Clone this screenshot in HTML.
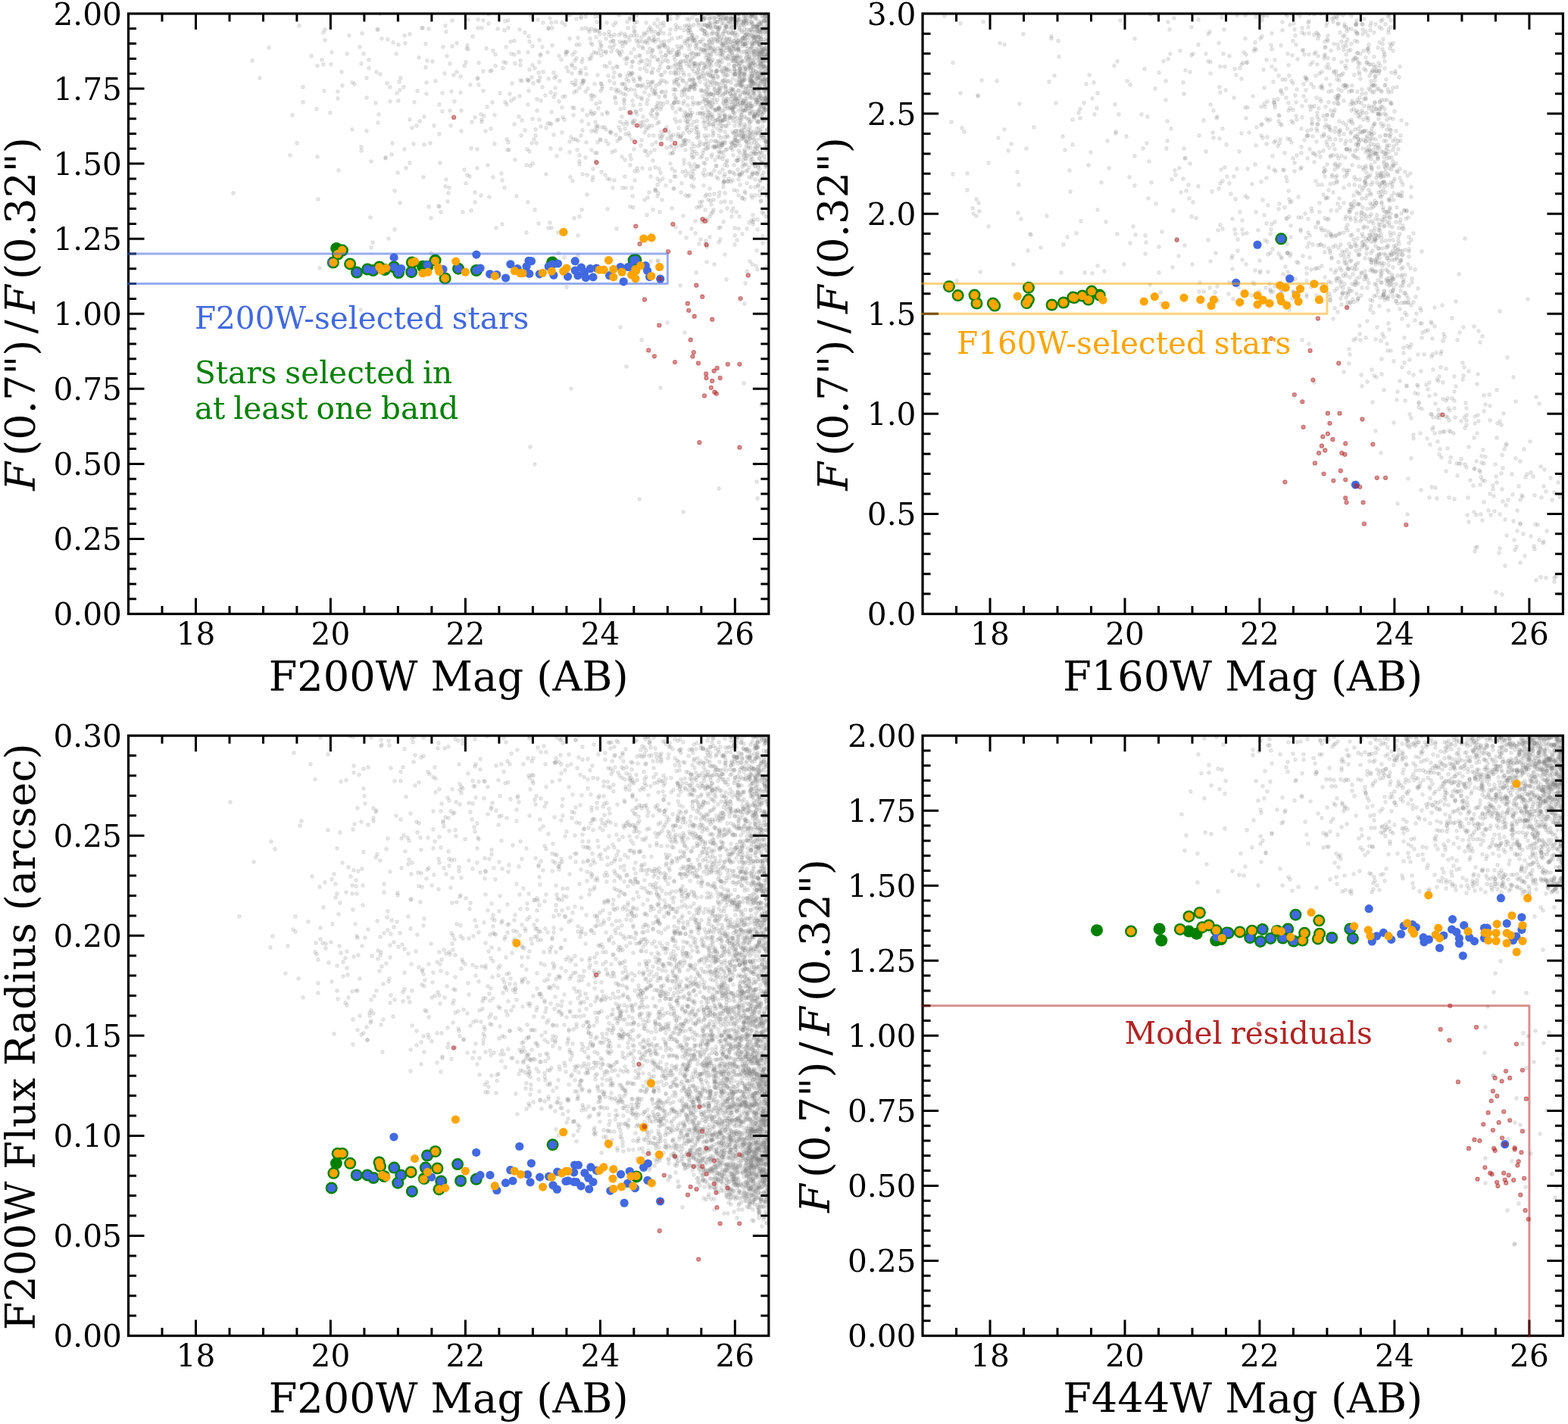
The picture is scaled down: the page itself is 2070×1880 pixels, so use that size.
<!DOCTYPE html>
<html><head><meta charset="utf-8"><title>Star selection</title><style>html,body{margin:0;padding:0;background:#fff;overflow:hidden}svg{display:block}</style></head><body>
<svg xmlns="http://www.w3.org/2000/svg" width="2070" height="1880" viewBox="0 0 2070 1880">
<style>text{font-family:'DejaVu Serif', 'Liberation Serif', serif;fill:#000} .t{font-size:40.6px} .l{font-size:54.2px} .a{word-spacing:-2px}</style>
<rect width="2070" height="1880" fill="#fff"/>
<marker id="gd" markerUnits="userSpaceOnUse" markerWidth="8" markerHeight="8" refX="4" refY="4" overflow="visible"><circle cx="4" cy="4" r="2.4" fill="#808080" fill-opacity="0.2" stroke="#808080" stroke-opacity="0.2" stroke-width="0.8"/></marker>
<clipPath id="cTL"><rect x="169.5" y="18.0" width="845.3" height="792.5"/></clipPath>
<g clip-path="url(#cTL)"><polyline points="308,255 333,80 343,103 348,14 355,63 383,205 386,152 390,14 392,189 392,16 395,34 400,115 400,135 411,74 418,144 419,87 419,207 420,263 422,354 425,79 427,43 427,85 428,120 429,53 429,39 436,149 437,85 438,69 446,130 446,121 447,225 451,95 452,113 458,71 461,47 465,171 465,109 468,111 475,62 476,409 477,84 477,194 477,199 478,18 478,44 480,71 484,103 484,173 484,129 487,90 487,79 489,16 489,287 490,213 490,327 492,320 496,136 497,95 498,39 499,39 499,162 500,151 502,98 502,18 504,51 509,209 509,208 511,110 512,52 513,315 515,115 515,134 517,204 518,189 519,56 521,303 521,252 523,71 524,123 525,228 526,59 526,26 526,133 527,108 528,119 528,268 529,103 533,115 534,47 534,197 535,57 536,222 541,45 541,215 541,158 544,169 546,190 547,135 550,166 551,120 553,76 554,160 557,37 558,37 559,234 560,191 560,154 562,58 562,89 563,109 563,124 564,80 566,38 566,273 568,189 569,334 569,288 571,81 573,166 575,107 579,272 580,273 580,177 580,138 581,215 582,280 584,147 584,123 585,62 587,97 588,34 588,246 589,42 589,237 590,74 591,266 592,255 593,248 594,146 594,84 595,166 596,121 597,61 597,27 598,17 599,99 600,134 603,57 603,95 608,122 608,101 609,173 609,146 611,280 613,87 613,224 615,82 615,242 616,64 617,60 617,231 617,411 618,65 618,26 620,233 621,112 622,196 622,278 622,15 623,161 624,48 627,254 627,155 627,267 630,222 630,104 630,197 631,37 631,103 631,26 632,83 632,112 635,258 635,151 636,158 636,37 636,161 638,94 638,27 638,120 639,153 641,173 642,64 643,141 644,218 645,31 645,19 646,260 647,94 648,170 649,93 650,135 651,234 651,67 653,152 653,190 654,72 654,87 655,301 657,38 660,123 662,229 663,296 663,238 664,90 665,82 666,40 666,248 667,135 667,28 668,83 668,62 669,184 669,138 670,198 671,27 671,37 671,188 672,198 673,15 673,124 674,55 675,133 675,71 676,110 679,54 679,130 679,164 679,72 680,211 680,84 682,259 685,154 685,69 686,127 686,39 687,86 687,80 687,106 688,179 689,107 689,159 693,43 693,172 695,218 695,307 696,197 696,105 697,69 697,107 697,138 697,267 698,106 698,120 698,48 699,200 699,55 699,92 700,219 700,590 701,21 702,102 702,189 703,157 703,216 703,61 703,86 704,110 705,184 706,613 706,277 706,90 707,179 707,171 708,189 709,146 709,131 710,26 710,107 711,295 711,96 712,158 712,53 712,82 712,107 713,73 713,102 714,72 714,133 714,167 716,115 716,62 717,95 717,30 720,126 721,169 721,230 723,163 723,69 724,38 724,37 724,301 724,104 726,294 726,163 726,15 726,24 727,196 727,122 728,16 728,301 728,30 728,164 728,148 729,37 729,60 731,340 731,178 731,96 731,128 732,103 733,116 733,124 734,29 734,101 735,206 735,159 737,334 737,307 737,158 738,134 738,74 739,107 740,197 741,79 741,16 742,175 742,30 742,142 743,155 743,128 745,340 745,158 746,127 746,33 747,72 747,69 748,69 748,89 748,379 749,68 750,94 752,187 752,20 752,201 752,51 753,234 754,513 754,181 755,109 755,85 755,97 755,87 756,239 756,15 756,142 756,72 757,152 757,184 758,112 758,143 758,288 758,122 759,69 759,90 759,80 760,184 760,111 760,106 760,16 761,349 761,120 761,59 761,77 761,25 762,198 763,50 763,338 763,186 763,311 765,59 765,16 765,217 765,116 765,205 765,286 765,96 765,213 767,179 767,97 767,22 767,24 767,16 767,93 768,111 768,82 768,160 768,38 768,277 769,230 769,145 769,78 769,107 769,172 770,106 770,109 771,107 773,90 773,121 773,22 773,208 773,37 774,98 774,188 775,257 775,231 775,152 776,117 777,164 777,39 778,42 778,78 779,51 780,77 780,57 780,150 780,147 780,126 780,17 781,131 781,73 781,173 781,38 781,198 782,126 782,238 782,59 783,223 783,234 783,151 784,69 785,127 785,111 785,41 785,172 785,149 786,213 786,22 786,202 786,161 786,39 787,174 787,49 787,137 787,167 787,70 788,202 788,29 789,99 789,169 789,41 789,166 789,188 790,70 790,143 791,22 791,41 792,45 792,65 792,55 792,184 792,135 793,185 793,59 793,110 793,120 794,111 794,227 794,61 794,73 795,151 795,114 795,168 795,117 796,68 798,45 798,168 798,87 799,231 800,171 800,186 800,70 800,51 800,68 801,88 801,148 801,30 802,150 802,236 802,276 803,100 803,190 804,46 804,42 805,83 805,62 805,174 805,107 805,237 806,175 806,55 807,68 807,117 807,175 807,48 808,16 808,201 809,63 809,90 809,54 809,248 810,102 810,33 810,54 811,46 811,59 811,96 811,238 811,110 812,128 812,199 812,130 813,30 813,178 813,118 813,136 814,88 814,302 814,121 815,88 815,186 815,67 816,119 817,46 817,69 817,20 817,168 818,182 818,55 818,71 818,99 819,122 819,432 819,161 819,172 819,144 819,73 819,183 819,100 820,44 821,111 821,57 821,68 821,154 821,207 822,111 822,61 822,15 822,248 823,164 823,124 823,55 824,143 824,131 824,137 824,133 825,111 825,48 825,170 825,45 825,78 825,233 825,211 826,125 826,248 826,57 826,15 826,177 826,55 826,117 826,116 827,105 827,161 827,84 827,484 828,164 828,16 828,29 828,78 828,100 828,76 829,49 829,119 829,37 830,176 830,149 830,96 830,107 831,24 831,179 831,53 832,273 832,205 832,25 832,99 832,218 833,118 833,47 833,70 833,210 833,98 834,150 834,18 834,184 834,88 834,96 834,248 835,97 835,259 835,82 835,162 835,20 835,81 835,133 836,274 836,163 836,139 836,104 836,160 837,36 837,41 837,47 837,197 837,65 837,107 838,42 838,30 838,226 838,119 838,238 838,159 839,148 839,125 839,75 840,53 840,147 840,20 841,113 841,222 841,47 841,151 841,29 841,16 842,56 842,113 842,128 842,226 843,61 844,54 844,83 844,659 844,102 844,73 845,113 845,138 845,91 845,74 845,104 845,105 846,167 846,166 846,80 846,145 846,192 846,162 847,129 847,114 847,131 847,449 847,49 847,185 848,81 848,55 848,222 848,62 849,154 849,64 849,112 849,161 850,44 851,175 851,122 851,90 851,166 851,264 851,199 851,46 852,56 853,17 853,30 853,85 853,116 853,200 853,54 853,171 854,43 854,159 854,79 854,94 854,284 854,137 855,108 855,261 855,69 855,205 855,132 855,57 856,39 856,169 856,112 857,16 857,52 857,166 857,254 857,86 857,126 857,179 857,50 858,81 858,36 858,64 858,223 859,233 859,115 859,14 859,150 859,201 859,345 860,75 860,70 860,39 860,42 860,96 860,110 860,108 861,191 861,146 861,54 861,119 861,166 861,96 861,67 861,153 862,277 862,212 862,108 862,91 862,145 862,66 863,179 863,53 863,124 863,48 864,31 864,198 864,75 864,52 864,121 865,118 865,252 865,123 865,250 865,55 865,221 865,42 866,113 866,124 866,251 866,141 866,188 866,156 867,144 867,150 868,151 868,236 868,79 868,244 868,140 868,26 868,35 868,16 868,163 868,344 868,136 868,259 869,45 869,345 869,255 869,62 869,52 869,93 869,79 869,45 870,111 870,223 870,161 870,128 871,89 871,63 871,239 871,179 871,61 871,280 871,43 872,183 872,144 872,39 872,99 872,69 872,84 872,109 872,512 872,228 872,136 872,31 873,56 873,174 873,106 873,141 873,122 874,181 874,121 874,264 874,99 874,75 874,18 875,81 875,178 875,60 875,236 876,30 876,44 876,34 876,137 877,107 877,59 877,17 877,55 877,60 878,95 878,62 878,171 878,128 878,126 879,121 879,79 879,245 879,73 879,73 880,109 880,168 880,195 881,183 881,426 881,21 881,135 882,67 882,89 882,89 882,81 882,63 883,69 883,174 883,54 884,15 884,45 885,203 885,89 885,96 885,25 885,216 885,19 885,179 885,70 885,239 885,194 885,39 886,181 886,185 887,139 887,51 887,192 887,275 887,223 888,143 888,202 888,202 888,66 889,249 889,118 889,178 890,136 890,136 890,87 890,249 890,197 890,110 890,125 890,233 890,96 890,135 890,75 890,107 891,157 891,226 891,118 891,79 892,300 892,85 892,39 892,129 892,148 892,96 892,33 892,233 892,98 892,131 892,92 892,119 893,105 893,108 893,73 893,70 893,161 893,19 893,193 894,72 894,135 894,69 894,61 894,36 894,24 894,105 895,180 895,111 895,177 895,84 895,50 895,89 895,73 896,97 896,20 896,135 896,68 896,65 896,92 896,113 896,169 897,85 897,71 897,144 898,377 898,160 898,103 898,181 898,307 898,82 898,37 899,61 899,254 899,181 899,86 899,49 899,145 899,179 899,17 899,81 899,89 899,192 900,121 900,126 900,242 900,63 900,92 901,192 901,227 901,107 902,285 902,81 902,186 902,96 902,106 902,176 902,17 902,676 902,119 902,137 903,187 903,99 903,134 903,121 903,216 903,153 903,211 903,40 904,185 904,54 904,118 904,57 904,125 904,34 904,190 904,439 904,73 904,148 905,190 905,226 905,159 905,80 905,116 905,232 905,258 905,198 905,185 906,314 906,110 906,169 906,150 906,154 906,15 906,84 907,35 907,161 907,75 907,155 907,75 907,25 907,119 907,172 907,55 908,40 908,168 908,152 908,129 908,139 908,160 908,51 908,164 908,60 908,152 908,259 909,81 909,44 909,33 909,229 909,40 909,53 909,186 910,118 910,51 910,99 910,65 910,258 910,216 910,119 910,26 910,37 910,114 910,106 910,88 910,86 910,175 911,105 911,150 911,72 911,157 911,60 911,145 911,40 912,220 912,43 912,81 912,153 912,152 912,115 912,35 912,115 912,233 912,79 912,114 913,70 913,205 913,196 913,49 913,245 913,234 913,165 913,302 913,172 914,208 914,55 914,23 914,46 914,91 914,149 914,226 914,111 914,106 914,201 914,190 914,76 914,47 914,129 915,135 915,115 915,138 915,104 915,70 915,51 915,51 915,53 915,85 915,230 916,106 916,247 916,207 916,84 916,161 916,33 916,94 916,111 916,236 917,114 917,54 917,200 917,117 917,112 917,193 917,53 917,75 917,217 917,83 917,223 917,110 917,87 917,118 918,19 918,169 918,87 918,292 918,84 918,61 918,308 919,175 919,57 919,72 919,112 919,64 919,71 919,360 919,97 920,26 920,274 920,27 920,167 920,220 920,203 920,136 920,182 920,49 920,59 920,160 920,171 921,96 921,220 921,17 921,150 922,72 922,91 922,181 922,102 922,103 922,219 922,92 922,175 922,33 922,72 922,85 922,193 922,137 922,30 922,178 923,87 923,322 923,15 923,273 923,64 924,267 924,136 924,187 924,108 924,103 924,149 924,55 924,191 924,98 924,84 925,208 925,150 925,38 925,68 925,316 925,55 925,119 926,65 926,120 926,22 926,101 926,272 927,143 927,206 927,83 927,150 927,33 927,39 927,293 927,266 928,134 928,66 928,40 928,202 928,93 928,229 928,26 928,52 928,97 928,120 928,127 928,155 928,22 929,59 929,66 929,149 929,100 929,190 929,245 929,198 929,215 929,90 929,162 929,26 930,224 930,167 930,45 930,131 930,41 930,160 930,69 930,33 930,232 930,104 930,179 930,24 930,45 930,86 931,259 931,152 931,41 931,322 931,89 931,84 931,111 931,277 931,33 931,67 931,24 931,121 931,216 931,64 931,59 931,132 931,191 932,196 932,170 932,76 932,182 932,137 932,88 932,289 932,140 932,318 933,44 933,66 933,123 933,60 933,118 933,346 933,113 933,34 933,326 933,125 933,210 933,73 933,132 933,257 933,187 933,98 934,291 934,47 934,34 934,96 934,35 934,107 934,19 934,156 934,155 934,145 934,196 934,80 934,161 935,179 935,128 935,148 935,72 935,135 935,152 935,165 935,134 935,194 935,264 935,36 935,116 935,81 935,230 935,15 935,190 935,79 936,53 936,60 936,78 936,25 936,99 936,55 936,90 936,77 936,122 936,85 936,137 936,31 936,64 937,85 937,18 937,164 937,149 937,70 937,313 937,125 937,135 937,24 937,58 937,286 937,249 937,32 937,159 937,140 937,257 937,153 938,74 938,63 938,124 938,108 938,99 938,34 938,64 938,112 938,36 938,265 938,101 938,30 939,95 939,37 939,82 939,154 939,282 939,52 939,81 939,229 939,93 939,72 939,231 939,270 939,186 939,87 939,124 939,141 939,45 939,207 940,204 940,143 940,132 940,109 940,136 940,23 940,151 940,56 941,125 941,62 941,157 941,100 941,42 941,173 941,194 941,280 941,164 941,101 941,79 941,67 941,44 941,138 941,179 941,56 941,154 942,264 942,16 942,103 942,68 942,51 942,104 942,277 942,125 942,167 942,176 942,164 943,32 943,24 943,118 943,65 943,114 943,349 943,225 943,109 943,130 943,193 943,194 943,17 943,256 944,67 944,146 944,160 944,30 944,195 944,36 944,211 944,119 944,52 944,28 944,145 944,186 945,36 945,187 945,97 945,94 945,219 945,123 945,85 945,109 945,144 945,159 945,135 945,23 946,71 946,193 946,95 946,194 946,234 946,45 946,219 946,44 946,145 946,93 947,29 947,170 947,132 947,52 947,81 947,29 947,123 947,158 947,49 947,64 947,101 947,36 947,17 947,54 947,93 947,111 947,55 948,37 948,236 948,119 948,39 948,123 948,16 948,102 948,207 948,164 948,42 948,187 948,158 949,143 949,179 949,144 949,301 949,48 949,320 949,23 949,259 949,117 949,81 949,200 949,142 949,39 949,19 949,46 949,148 949,19 949,190 949,87 949,645 949,142 949,153 949,111 949,19 949,193 950,208 950,126 950,36 950,120 950,67 950,156 950,36 950,228 950,83 950,202 950,144 950,254 950,121 950,116 951,300 951,88 951,71 951,79 951,73 951,173 951,23 951,161 951,316 951,63 951,160 951,26 951,26 951,153 951,52 951,195 951,56 952,170 952,201 952,65 952,279 952,267 952,94 952,190 952,166 952,50 952,67 952,116 952,182 953,82 953,192 953,109 953,72 953,93 953,58 953,189 953,31 953,20 953,160 953,192 953,67 954,149 954,224 954,72 954,188 954,54 954,126 954,210 954,45 954,60 954,146 954,166 954,15 954,191 954,59 954,106 954,18 954,159 955,293 955,58 955,113 955,158 955,77 955,131 955,135 955,206 955,31 955,44 955,124 955,95 955,137 955,242 955,98 955,24 955,201 955,107 955,20 955,159 955,26 955,247 955,69 956,233 956,90 956,240 956,240 956,41 956,49 956,239 956,60 957,181 957,230 957,336 957,218 957,106 957,154 957,158 957,266 957,140 957,144 957,189 957,37 957,123 957,255 957,153 957,187 957,25 957,101 957,90 957,154 957,63 957,174 957,152 958,133 958,67 958,114 958,117 958,76 958,116 958,198 958,95 958,34 958,110 958,122 958,134 958,54 958,57 958,41 958,167 959,35 959,21 959,16 959,214 959,25 959,134 959,90 959,166 959,92 959,35 959,52 959,36 959,99 959,369 959,130 959,24 960,275 960,179 960,107 960,212 960,63 960,77 960,51 960,92 960,122 960,219 960,56 960,158 960,136 960,24 960,140 960,197 961,99 961,181 961,74 961,239 961,43 961,58 961,31 961,131 961,17 961,28 961,240 961,78 961,143 962,92 962,236 962,107 962,163 962,44 962,85 962,120 962,63 963,143 963,227 963,153 963,65 963,62 963,67 963,29 963,72 963,156 963,52 963,51 964,227 964,142 964,124 964,94 964,155 964,23 964,55 964,67 964,38 964,123 965,131 965,135 965,25 965,240 965,109 965,26 965,195 965,117 965,195 965,56 965,67 965,24 965,29 965,155 965,34 965,267 965,188 965,77 966,286 966,127 966,279 966,138 966,36 966,190 966,44 966,120 966,80 966,142 966,69 966,44 966,144 966,62 966,126 967,104 967,144 967,29 967,73 967,118 967,43 967,174 967,238 967,198 967,190 967,58 967,71 967,25 967,145 967,22 967,118 968,77 968,40 968,25 968,160 968,176 968,228 968,148 968,81 968,149 968,188 968,134 968,205 968,64 968,143 968,156 968,61 968,119 968,275 968,98 969,186 969,61 969,91 969,54 969,33 969,87 969,80 969,54 969,142 969,87 969,251 969,218 969,76 969,125 969,192 969,140 969,66 970,47 970,130 970,76 970,99 970,98 970,323 970,133 970,94 970,311 970,149 970,176 970,166 970,182 970,230 970,97 970,131 970,301 970,24 970,138 970,87 970,92 970,154 970,45 971,20 971,193 971,98 971,122 971,64 971,185 971,125 971,185 971,28 971,81 971,113 971,173 971,128 971,43 971,78 971,141 971,57 971,181 971,192 971,137 972,66 972,94 972,51 972,161 972,130 972,34 972,178 972,56 972,76 972,106 972,29 972,280 972,173 972,212 973,131 973,59 973,73 973,112 973,84 973,56 973,156 973,81 973,74 973,317 973,252 973,212 973,186 973,26 973,30 973,190 974,133 974,54 974,212 974,134 974,64 974,26 974,76 974,81 974,28 974,46 974,187 974,22 974,224 974,138 974,100 974,58 975,33 975,211 975,237 975,130 975,65 975,119 975,199 975,68 975,18 975,53 975,87 975,173 975,258 975,109 975,65 975,26 975,86 975,138 975,66 975,208 975,120 975,302 975,62 975,178 975,146 975,17 975,17 976,112 976,56 976,91 976,186 976,230 976,37 976,97 976,230 976,102 976,76 976,96 976,232 976,19 976,39 976,166 976,179 976,286 976,106 977,91 977,84 977,136 977,102 977,125 977,192 977,25 977,92 977,108 977,96 977,162 977,112 977,202 977,127 977,159 977,244 977,156 978,113 978,151 978,94 978,231 978,55 978,75 978,140 978,82 978,164 978,144 978,107 978,174 978,34 978,98 978,53 978,91 979,155 979,180 979,173 979,171 979,42 979,114 979,183 979,102 979,97 979,152 979,80 979,29 979,111 979,69 979,108 979,158 979,87 979,132 979,40 980,262 980,136 980,261 980,220 980,61 980,107 980,309 980,16 980,136 980,227 980,229 980,30 980,58 980,176 980,122 980,112 980,148 980,51 980,50 980,81 981,180 981,59 981,146 981,211 981,178 981,32 981,105 981,133 981,55 981,115 981,216 981,139 981,81 981,182 981,107 981,136 981,145 981,50 982,122 982,30 982,22 982,68 982,28 982,206 982,34 982,98 982,136 982,168 982,181 982,50 982,27 982,204 982,184 982,18 982,506 982,133 983,50 983,263 983,200 983,105 983,218 983,172 983,154 983,253 983,99 983,43 983,59 983,176 983,99 983,103 983,59 983,39 983,54 983,401 983,88 983,164 983,97 983,198 983,47 983,146 983,95 983,21 983,124 983,106 984,119 984,47 984,90 984,58 984,202 984,58 984,51 984,180 984,27 984,91 984,255 984,91 984,209 984,29 984,374 984,122 984,24 984,130 984,145 984,167 985,134 985,22 985,136 985,45 985,146 985,210 985,61 985,76 985,140 985,114 985,77 985,156 985,143 985,68 985,32 985,193 985,186 985,226 985,187 985,27 985,117 985,217 986,71 986,302 986,140 986,140 986,205 986,30 986,45 986,124 986,82 986,188 986,39 986,68 986,358 986,72 986,130 986,242 986,27 987,49 987,183 987,57 987,53 987,92 987,225 987,123 987,17 987,16 987,80 987,206 987,179 987,64 988,174 988,114 988,87 988,117 988,171 988,158 988,193 988,196 988,138 988,143 988,46 988,20 988,122 988,188 989,221 989,234 989,40 989,89 989,78 989,70 989,75 989,86 989,180 989,157 989,47 989,106 989,163 989,77 989,294 989,75 989,101 989,31 990,150 990,125 990,104 990,86 990,345 990,176 990,143 990,43 990,136 990,15 990,127 990,183 990,89 990,168 990,109 990,25 990,161 990,65 990,120 990,147 990,183 990,150 990,113 991,211 991,22 991,93 991,129 991,83 991,107 991,140 991,89 991,79 991,173 991,137 991,84 991,105 991,203 991,178 991,247 991,195 991,39 991,97 991,113 991,69 991,64 992,39 992,101 992,57 992,19 992,84 992,234 992,52 992,110 992,47 992,62 992,160 992,101 992,29 992,207 992,215 992,107 992,22 992,189 992,140 992,142 992,29 992,90 992,258 992,291 993,57 993,230 993,31 993,101 993,177 993,20 993,210 993,97 993,148 993,59 993,109 993,62 993,117 993,42 993,349 993,108 993,107 993,20 993,107 993,98 993,228 993,130 993,114 993,114 993,19 993,140 993,261 994,93 994,35 994,48 994,73 994,296 994,110 994,121 994,230 994,35 994,84 994,200 994,47 994,293 994,104 994,182 994,58 994,79 994,32 994,21 994,217 994,284 995,68 995,174 995,35 995,93 995,83 995,184 995,110 995,154 995,147 995,123 995,154 995,119 995,153 995,88 995,71 995,83 995,39 995,290 995,50 995,124 995,49 995,67 995,203 995,68 996,156 996,153 996,110 996,100 996,152 996,155 996,58 996,129 996,73 996,54 996,53 996,120 996,201 996,151 996,125 996,214 996,68 996,78 996,188 997,86 997,228 997,613 997,219 997,50 997,50 997,20 997,47 997,117 997,196 997,258 997,56 997,42 997,25 997,194 997,203 997,138 997,98 997,178 997,111 997,220 997,247 997,237 997,23 998,351 998,49 998,203 998,131 998,35 998,151 998,94 998,135 998,108 998,16 998,175 998,18 998,64 998,95 998,132 999,170 999,75 999,34 999,114 999,24 999,104 999,104 999,196 999,160 999,55 999,229 999,72 999,185 999,118 999,636 999,35 999,14 999,41 999,133 999,39 999,48 999,36 999,55 999,331 999,190 1000,290 1000,658 1000,149 1000,100 1000,152 1000,97 1000,15 1000,70 1000,135 1000,84 1000,200 1000,356 1000,36 1000,65 1000,303 1000,69 1000,153 1000,33 1000,176 1000,230 1000,36 1000,147 1000,132 1000,103 1001,102 1001,129 1001,118 1001,162 1001,28 1001,110 1001,227 1001,150 1001,175 1001,33 1001,67 1001,113 1001,161 1001,137 1001,127 1001,45 1001,49 1001,57 1001,244 1001,16 1001,246 1001,41 1001,71 1001,53 1001,79 1001,135 1001,160 1001,221 1001,192 1001,88 1002,169 1002,218 1002,80 1002,117 1002,121 1002,58 1002,41 1002,36 1002,55 1002,49 1002,59 1002,146 1002,132 1002,144 1002,209 1002,102 1002,97 1002,203 1002,75 1003,113 1003,115 1003,258 1003,39 1003,60 1003,59 1003,90 1003,252 1003,32 1003,127 1003,86 1003,43 1003,210 1003,75 1003,31 1003,123 1003,59 1003,223 1003,49 1003,95 1003,18 1003,101 1003,71 1003,73 1003,238 1003,145 1003,194 1004,103 1004,81 1004,107 1004,96 1004,201 1004,106 1004,172 1004,183 1004,69 1004,110 1004,266 1004,84 1004,42 1004,66 1004,174 1004,49 1004,52 1004,148 1004,70 1004,239 1004,77 1004,40 1004,153 1004,55 1004,139 1004,126 1004,141 1005,178 1005,535 1005,31 1005,130 1005,214 1005,15 1005,130 1005,179 1005,84 1005,69 1005,158 1005,128 1005,30 1005,29 1005,62 1005,138 1005,51 1005,179 1005,117 1005,74 1005,98 1005,85 1005,90 1005,98 1005,140 1005,66 1005,206 1005,265 1005,86 1006,134 1006,151 1006,215 1006,156 1006,21 1006,71 1006,35 1006,215 1006,137 1006,232 1006,69 1006,201 1006,148 1006,57 1006,280 1006,42 1006,39 1006,155 1006,64 1006,81 1006,335 1006,108 1007,74 1007,75 1007,45 1007,107 1007,161 1007,97 1007,312 1007,167 1007,105 1007,248 1007,99 1007,132 1007,82 1007,65 1007,181 1007,21 1007,321 1007,68 1007,93 1007,69 1007,78 1007,69 1008,282 1008,36 1008,88 1008,97 1008,143 1008,148 1008,228 1008,121 1008,52 1008,88 1008,111 1008,143 1008,149 1008,88 1008,138 1008,55 1008,27 1008,81 1008,100 1009,27 1009,135 1009,65 1009,206 1009,185 1009,159 1009,90 1009,65 1009,18 1009,105 1009,106 1009,182 1009,111 1009,177 1009,59 1009,39 1009,141 1009,235 1009,159 1009,87 1009,143 1009,27 1009,73 1009,119 1009,22 1010,130 1010,118 1010,65 1010,42 1010,116 1010,68 1010,104 1010,143 1010,75 1010,22 1010,19 1010,112 1010,217 1010,133 1010,211 1010,127 1010,103 1010,79 1010,95 1010,193 1010,157 1010,115 1010,28 1010,39 1010,129 1010,145 1011,97 1011,187 1011,286 1011,221 1011,180 1011,188 1011,72 1011,31 1011,145 1011,81 1011,137 1011,14 1011,186 1011,353 1011,123 1011,131 1011,64 1011,21 1011,198 1011,129 1011,108 1011,15 1011,218 1011,121 1011,87 1011,74 1011,133 1011,294 1012,188 1012,42 1012,146 1012,176 1012,172 1012,194 1012,22 1012,27 1012,111 1012,219 1012,257 1012,36 1012,94 1012,137 1012,45 1012,60 1012,106 1012,130 1012,155 1012,109 1012,54 1012,50 1012,25 1013,89 1013,30 1013,251 1013,127 1013,277 1013,217 1013,105 1013,74 1013,117 1013,34 1013,138 1013,69 1013,138 1013,132 1013,134 1013,90 1013,97 1013,171 1013,71 1013,259 1013,195 1013,197 1013,65 1013,80 1013,23 1013,72 1013,43 1014,36 1014,135 1014,14 1014,52 1014,227 1014,286 1014,94 1014,190 1014,91 1014,105 1014,185 1014,245 1014,116 1014,22 1014,120 1014,132 1014,53 1014,55 1014,28 1014,71 1014,116 1015,75 1015,172 1015,61 1015,16 1015,202 1015,91 1015,261 1015,160 1015,50 1015,36 1015,203 1015,66 1015,119 1015,168 1015,125 1015,169 1015,155 1015,71 1015,67 1015,106 1015,103 1015,256 1015,176 1015,21 1015,57 1015,158 1015,131 1015,47 1015,40 1015,53 1015,64 1015,281 1015,42 1016,74 1016,83 1016,55 1016,226 1016,98 1016,92 1016,67 1016,28 1016,222 1016,52 1016,157 1016,113 1016,82 1016,178 1016,24 1016,104 1016,254 1016,74 1016,165 1016,153 1016,17 1017,170 1017,54 1017,101 1017,72 1017,59 1017,68 1017,129 1017,55 1017,185 1017,50 1017,131 1017,95 1017,59 1017,67 1017,53 1017,34 1017,113 1017,145 1017,121 1017,124 1017,186 1017,180 1017,71 1017,50 1017,21 1017,199 1017,72 1017,182 1017,210 1017,157 1017,165 1017,103 1017,123 1018,68 1018,65 1018,33 1018,198 1018,100 1018,178 1018,91 1018,71 1018,173 1018,111 1018,59 1018,132 1018,63 1018,99 1018,57 1018,94 1018,264 1018,255 1018,122 1018,48 1018,32 1018,192 1018,79 1018,62 1018,125 1018,68 1018,103 1018,49 1018,101 1018,55 1018,154 1018,64 1018,125 1018,123 1018,31 1018,117 1018,192 1018,149 1018,118 1018,159 1018,196 1018,71 1018,138 1018,94 1018,29 1019,20 1019,301 1019,306 1019,47 1019,31 1019,125 1019,83 1019,225 1019,57" fill="none" stroke="none" marker-start="url(#gd)" marker-mid="url(#gd)" marker-end="url(#gd)"/></g>
<clipPath id="cTR"><rect x="1218.0" y="18.0" width="845.4000000000001" height="792.5"/></clipPath>
<g clip-path="url(#cTR)"><polyline points="1247,21 1256,161 1258,83 1258,230 1263,371 1268,31 1268,123 1270,169 1273,174 1277,229 1277,251 1284,275 1285,282 1289,263 1289,285 1291,127 1291,126 1292,268 1293,279 1294,359 1296,106 1298,29 1305,299 1305,215 1316,107 1318,182 1320,57 1326,59 1326,171 1331,199 1335,190 1338,349 1343,227 1344,281 1345,244 1346,137 1348,289 1351,45 1355,196 1357,331 1360,309 1361,310 1365,168 1374,327 1382,285 1385,108 1388,51 1388,48 1392,100 1394,136 1397,54 1398,75 1401,360 1403,180 1404,323 1406,198 1409,313 1412,225 1413,253 1416,158 1416,191 1421,308 1424,149 1426,156 1426,144 1427,292 1431,136 1432,360 1434,111 1437,218 1438,99 1440,201 1442,361 1442,130 1444,109 1445,151 1448,143 1449,351 1449,277 1449,123 1454,241 1458,358 1460,293 1462,186 1464,222 1471,87 1472,138 1473,174 1473,176 1475,309 1475,81 1477,151 1479,27 1484,349 1487,180 1488,107 1491,234 1492,112 1492,321 1496,299 1498,245 1498,206 1498,51 1499,310 1507,151 1509,196 1511,91 1512,311 1512,335 1513,320 1514,189 1515,154 1516,262 1517,213 1518,376 1519,19 1520,241 1525,117 1526,269 1530,96 1530,360 1530,326 1532,386 1533,401 1534,306 1536,81 1539,107 1539,132 1540,196 1541,186 1541,160 1542,29 1542,78 1544,39 1545,71 1546,170 1547,237 1548,353 1549,278 1550,24 1551,225 1552,231 1554,315 1556,338 1557,222 1558,67 1559,254 1562,109 1562,236 1563,124 1563,196 1564,209 1564,324 1565,392 1565,209 1565,93 1566,252 1569,244 1570,262 1571,95 1571,216 1573,36 1573,286 1573,73 1574,349 1575,267 1575,71 1579,288 1582,59 1582,246 1582,26 1583,179 1583,385 1584,373 1589,159 1589,385 1592,71 1592,200 1595,81 1595,317 1595,45 1597,380 1597,42 1598,138 1598,97 1598,82 1598,345 1600,253 1601,175 1602,146 1602,182 1604,386 1605,334 1606,156 1607,378 1607,154 1608,397 1608,304 1609,249 1609,57 1610,115 1610,183 1611,88 1611,297 1611,122 1611,242 1612,224 1613,23 1614,302 1614,239 1614,170 1615,71 1616,39 1617,221 1617,88 1618,119 1619,191 1620,233 1622,388 1623,242 1623,74 1623,373 1625,256 1626,341 1627,355 1627,338 1627,289 1628,395 1629,374 1629,129 1629,233 1630,91 1630,303 1631,263 1631,309 1632,99 1633,223 1633,20 1634,375 1634,316 1634,331 1635,379 1636,200 1637,90 1637,280 1639,85 1639,176 1639,104 1640,343 1640,303 1640,291 1641,83 1641,309 1642,69 1644,51 1644,142 1644,20 1644,259 1645,349 1645,72 1645,156 1646,83 1646,82 1646,308 1647,142 1647,261 1647,223 1649,175 1652,390 1653,243 1654,373 1654,127 1655,67 1656,375 1657,64 1657,217 1657,357 1657,56 1658,192 1658,280 1658,22 1658,66 1659,168 1661,304 1662,385 1663,344 1663,360 1664,358 1664,51 1665,240 1665,141 1665,165 1665,179 1666,164 1666,48 1666,27 1667,182 1667,264 1667,22 1668,92 1668,20 1669,284 1669,116 1669,137 1670,141 1670,317 1671,380 1672,190 1672,157 1672,235 1672,295 1672,79 1673,21 1673,319 1673,134 1673,181 1674,271 1674,336 1674,359 1674,159 1675,221 1676,375 1677,382 1677,158 1677,384 1677,309 1677,334 1678,386 1678,303 1678,60 1679,296 1679,65 1679,88 1679,44 1680,206 1680,400 1680,329 1681,385 1681,108 1682,136 1682,132 1682,135 1682,188 1682,224 1683,378 1683,79 1683,138 1683,293 1683,142 1684,186 1684,226 1684,92 1687,193 1687,131 1688,276 1688,335 1688,100 1688,392 1688,152 1688,160 1689,189 1689,269 1689,153 1690,164 1690,184 1691,339 1691,386 1691,382 1691,60 1691,119 1691,121 1692,165 1692,341 1693,105 1693,29 1693,385 1693,40 1693,124 1694,362 1694,224 1695,225 1696,274 1696,202 1697,105 1697,352 1698,234 1698,117 1698,288 1698,129 1698,18 1698,378 1699,334 1699,365 1699,289 1699,239 1699,21 1699,322 1700,183 1700,71 1700,371 1700,359 1700,334 1700,334 1701,136 1701,86 1701,146 1701,252 1702,286 1702,100 1702,409 1702,263 1703,184 1703,143 1703,338 1703,267 1703,33 1704,298 1704,313 1704,335 1705,266 1705,160 1705,107 1705,188 1706,73 1706,394 1706,19 1707,145 1707,385 1707,209 1707,110 1707,54 1707,162 1707,370 1708,386 1708,31 1708,386 1709,215 1709,39 1709,226 1710,47 1710,126 1710,368 1711,135 1711,59 1711,153 1712,158 1712,346 1712,118 1712,205 1713,78 1713,18 1714,390 1714,347 1714,260 1714,287 1716,21 1717,223 1717,305 1717,15 1717,303 1718,202 1718,170 1718,221 1718,194 1718,287 1719,37 1719,155 1719,140 1719,43 1719,449 1720,338 1720,14 1720,67 1720,66 1721,127 1721,111 1722,45 1722,72 1722,185 1723,102 1723,282 1724,314 1724,119 1724,133 1724,103 1725,106 1725,361 1725,371 1725,389 1725,104 1725,180 1725,354 1725,392 1726,179 1726,173 1726,326 1726,209 1727,30 1727,289 1727,36 1727,179 1727,307 1728,454 1728,44 1728,72 1728,28 1728,321 1729,197 1729,18 1729,311 1729,340 1729,140 1730,85 1730,145 1731,111 1731,275 1731,379 1731,356 1731,171 1732,162 1732,164 1732,279 1732,157 1732,141 1733,202 1733,180 1733,82 1733,323 1734,115 1735,505 1735,214 1735,46 1735,140 1735,19 1735,71 1735,203 1736,355 1736,377 1737,205 1737,300 1737,69 1737,100 1737,239 1738,170 1738,187 1738,129 1738,43 1738,390 1738,354 1738,15 1739,173 1739,149 1739,85 1739,164 1739,154 1740,324 1740,295 1740,74 1740,164 1740,293 1740,45 1740,51 1740,244 1741,158 1741,47 1741,354 1741,143 1742,280 1742,268 1742,201 1742,97 1743,115 1743,131 1743,207 1743,392 1743,323 1744,323 1744,18 1744,301 1744,134 1745,180 1745,304 1745,351 1745,113 1745,15 1745,115 1745,244 1745,95 1745,398 1746,117 1746,375 1747,153 1747,257 1747,199 1748,179 1748,227 1748,177 1748,77 1748,325 1748,227 1748,222 1749,304 1749,233 1749,168 1749,72 1749,288 1749,63 1749,366 1749,74 1749,55 1749,333 1750,158 1750,262 1750,225 1750,62 1750,141 1751,187 1751,311 1751,34 1751,384 1751,261 1751,89 1751,104 1751,165 1752,30 1752,191 1752,217 1752,52 1752,152 1752,290 1752,152 1753,85 1753,47 1753,54 1753,261 1753,77 1754,289 1754,372 1754,181 1754,306 1754,328 1754,121 1754,135 1754,167 1754,251 1755,195 1755,171 1755,90 1755,168 1755,388 1756,243 1756,112 1756,184 1756,397 1756,396 1756,207 1756,392 1756,331 1756,334 1757,278 1757,172 1757,205 1757,356 1757,312 1757,310 1757,309 1757,373 1757,146 1757,67 1758,340 1758,120 1758,341 1758,233 1759,152 1759,312 1759,153 1759,231 1759,25 1760,254 1760,326 1760,29 1760,421 1760,205 1760,191 1761,94 1761,242 1761,78 1761,16 1761,148 1761,23 1761,58 1761,136 1761,96 1762,407 1762,197 1762,174 1762,224 1762,384 1762,360 1762,218 1762,145 1763,234 1763,311 1763,14 1763,216 1763,324 1763,128 1763,184 1763,169 1764,368 1764,311 1764,94 1764,371 1764,99 1764,357 1764,22 1765,205 1765,131 1765,232 1765,105 1765,239 1765,381 1765,278 1765,241 1765,24 1766,59 1766,132 1766,412 1766,221 1766,32 1766,367 1766,219 1766,126 1766,129 1766,269 1766,137 1767,346 1767,209 1767,137 1767,118 1767,64 1767,19 1767,126 1767,327 1767,174 1767,31 1768,127 1768,106 1768,160 1768,262 1768,309 1768,100 1768,178 1768,368 1769,217 1769,373 1769,172 1769,354 1769,43 1769,274 1769,173 1769,308 1770,185 1770,337 1770,323 1770,394 1770,378 1771,372 1771,402 1771,99 1771,120 1771,206 1771,55 1771,82 1771,357 1772,389 1772,332 1772,387 1773,48 1773,386 1773,380 1773,20 1773,97 1773,61 1773,364 1773,113 1773,162 1774,338 1774,177 1774,248 1774,268 1774,491 1774,224 1774,307 1774,133 1774,66 1775,35 1775,47 1775,347 1775,333 1775,113 1775,233 1775,32 1775,375 1775,343 1776,112 1776,87 1776,208 1776,116 1776,361 1776,289 1776,190 1777,364 1777,72 1777,36 1777,56 1777,90 1777,165 1777,186 1777,387 1777,347 1777,197 1777,393 1777,113 1777,61 1777,286 1777,301 1778,80 1778,228 1778,350 1778,197 1778,41 1778,404 1778,330 1778,231 1778,225 1778,197 1779,114 1779,304 1779,297 1779,399 1779,170 1779,355 1779,52 1780,38 1780,386 1780,339 1780,355 1780,389 1780,67 1781,277 1781,225 1781,335 1781,244 1781,480 1781,322 1781,121 1781,461 1781,280 1781,160 1781,381 1781,355 1782,345 1782,366 1782,280 1782,384 1782,199 1782,197 1782,287 1782,468 1782,400 1783,176 1783,326 1783,277 1783,270 1783,66 1783,290 1783,138 1783,399 1783,311 1783,186 1784,158 1784,21 1784,273 1784,344 1784,174 1784,58 1784,269 1784,161 1784,146 1784,120 1784,326 1784,38 1785,218 1785,375 1785,136 1785,133 1785,384 1785,120 1785,310 1785,113 1785,354 1786,274 1786,362 1786,205 1786,395 1786,80 1786,163 1787,144 1787,15 1787,258 1787,137 1787,449 1787,78 1787,399 1787,316 1787,16 1787,14 1788,182 1788,376 1788,234 1788,356 1788,206 1788,244 1788,271 1788,266 1788,99 1789,76 1789,41 1789,288 1789,54 1789,324 1789,351 1789,321 1789,171 1789,372 1789,180 1789,199 1790,376 1790,149 1790,31 1790,237 1790,373 1790,349 1790,331 1790,77 1790,33 1790,33 1790,136 1790,191 1790,447 1790,208 1790,292 1791,27 1791,32 1791,43 1791,388 1791,355 1791,180 1791,282 1791,253 1791,325 1791,368 1791,146 1792,55 1792,79 1792,45 1792,121 1792,44 1792,397 1792,197 1792,70 1792,189 1792,132 1792,315 1792,70 1793,209 1793,184 1793,83 1793,170 1793,153 1793,192 1793,177 1793,89 1793,269 1793,394 1793,183 1793,374 1793,394 1793,270 1793,191 1793,255 1793,336 1793,148 1793,347 1793,304 1794,188 1794,95 1794,135 1794,337 1794,220 1795,256 1795,336 1795,270 1795,155 1795,246 1795,430 1795,129 1795,98 1795,84 1795,237 1795,366 1795,441 1795,330 1796,167 1796,185 1796,71 1796,151 1796,174 1796,104 1796,449 1796,292 1797,495 1797,361 1797,136 1797,281 1797,390 1797,285 1798,309 1798,326 1798,32 1798,289 1798,175 1798,251 1798,510 1798,320 1798,360 1798,124 1798,146 1798,380 1798,280 1798,118 1798,262 1799,312 1799,324 1799,196 1799,174 1799,149 1799,39 1799,221 1799,274 1799,32 1799,45 1800,158 1800,248 1800,224 1800,319 1800,301 1800,67 1800,185 1801,140 1801,299 1801,173 1801,173 1801,25 1801,369 1801,91 1801,283 1801,131 1801,324 1802,364 1802,239 1802,358 1802,245 1802,240 1802,341 1802,323 1802,241 1803,366 1803,364 1803,222 1803,93 1803,235 1803,446 1803,201 1803,187 1803,315 1803,262 1803,42 1803,129 1803,285 1803,131 1803,186 1803,289 1803,219 1803,76 1803,123 1804,173 1804,335 1804,149 1804,197 1804,182 1804,329 1804,243 1804,228 1804,155 1804,83 1805,66 1805,180 1805,82 1805,276 1805,369 1805,234 1805,424 1805,300 1805,318 1805,504 1805,380 1805,199 1805,327 1805,258 1806,64 1806,208 1806,64 1806,159 1806,156 1806,47 1807,143 1807,205 1807,233 1807,140 1807,374 1807,85 1807,315 1807,193 1807,315 1807,69 1807,59 1807,117 1807,293 1807,251 1808,176 1808,342 1808,199 1808,100 1808,310 1808,186 1808,286 1808,198 1809,206 1809,311 1809,119 1809,357 1809,396 1809,231 1809,183 1809,204 1809,255 1809,34 1809,409 1809,269 1809,40 1809,85 1809,200 1810,346 1810,96 1810,334 1810,30 1810,174 1810,210 1810,221 1810,305 1810,404 1810,257 1810,190 1810,218 1810,283 1810,319 1810,343 1810,177 1810,107 1810,244 1810,275 1811,488 1811,347 1811,146 1811,112 1811,114 1811,222 1811,224 1811,170 1811,314 1811,292 1811,141 1811,355 1811,178 1811,343 1812,269 1812,183 1812,93 1812,94 1812,241 1812,397 1812,122 1812,310 1812,357 1812,531 1812,331 1813,147 1813,85 1813,359 1813,204 1813,273 1813,198 1813,295 1813,413 1813,166 1813,113 1814,176 1814,141 1814,164 1814,305 1814,112 1814,202 1814,496 1814,391 1814,121 1814,89 1814,319 1814,75 1814,43 1814,191 1815,136 1815,271 1815,214 1815,315 1815,106 1815,163 1815,265 1815,375 1815,95 1815,135 1815,316 1815,101 1815,301 1816,569 1816,344 1816,203 1816,203 1816,184 1816,194 1816,318 1816,316 1816,346 1816,343 1816,358 1816,101 1816,310 1816,113 1816,349 1816,448 1816,359 1816,325 1816,32 1816,289 1817,268 1817,376 1817,144 1817,93 1817,235 1817,311 1817,88 1817,144 1817,268 1817,390 1817,498 1817,94 1818,118 1818,432 1818,381 1818,229 1818,284 1818,241 1818,203 1818,338 1818,200 1818,341 1819,370 1819,385 1819,207 1819,232 1819,195 1819,63 1819,210 1819,191 1819,150 1819,209 1819,150 1819,314 1819,346 1820,328 1820,304 1820,157 1820,254 1820,117 1820,311 1820,83 1820,221 1820,151 1820,296 1820,336 1820,97 1820,328 1820,290 1821,94 1821,36 1821,135 1821,195 1821,348 1821,151 1821,93 1821,301 1821,341 1821,56 1821,244 1821,404 1821,336 1821,144 1822,246 1822,305 1822,358 1822,145 1822,87 1822,134 1822,231 1822,297 1822,180 1822,393 1822,259 1823,141 1823,28 1823,253 1823,450 1823,373 1823,260 1823,598 1823,163 1823,234 1823,233 1823,366 1823,229 1823,120 1823,151 1823,310 1823,335 1823,363 1824,121 1824,228 1824,38 1824,200 1824,474 1824,494 1824,132 1824,373 1824,347 1824,314 1824,269 1824,361 1824,267 1824,242 1824,319 1825,351 1825,328 1825,58 1825,167 1825,65 1825,293 1825,441 1825,290 1825,141 1825,241 1825,357 1825,26 1825,257 1826,201 1826,251 1826,277 1826,392 1826,390 1826,52 1826,274 1826,233 1826,389 1827,389 1827,384 1827,348 1827,186 1827,75 1827,207 1827,286 1827,240 1827,515 1827,389 1827,165 1827,69 1827,213 1827,240 1827,216 1827,445 1827,299 1828,289 1828,144 1828,90 1828,72 1828,280 1828,232 1828,298 1828,385 1828,113 1828,246 1828,81 1828,242 1828,335 1828,220 1828,396 1828,132 1828,150 1829,112 1829,32 1829,222 1829,393 1829,254 1829,179 1829,318 1829,337 1829,203 1829,178 1829,203 1829,227 1830,327 1830,280 1830,198 1830,356 1830,152 1830,370 1830,105 1830,186 1831,171 1831,341 1831,375 1831,454 1831,132 1831,158 1831,368 1831,293 1831,285 1831,218 1831,195 1831,217 1831,209 1831,192 1831,203 1832,341 1832,358 1832,324 1832,244 1832,21 1832,395 1832,280 1832,463 1832,393 1832,326 1832,230 1832,118 1832,371 1833,264 1833,122 1833,166 1833,391 1833,279 1833,43 1833,410 1833,232 1833,427 1833,372 1833,350 1833,39 1834,222 1834,360 1834,377 1834,337 1834,367 1834,435 1834,287 1834,298 1834,192 1834,200 1834,22 1834,208 1834,179 1834,294 1834,317 1834,263 1834,344 1835,171 1835,274 1835,156 1835,276 1835,58 1835,64 1835,181 1835,307 1835,371 1835,265 1835,288 1836,137 1836,36 1836,334 1836,311 1836,463 1836,241 1836,135 1836,371 1836,385 1836,376 1836,177 1836,27 1836,172 1836,282 1837,208 1837,96 1837,60 1837,336 1837,337 1837,137 1837,224 1837,259 1837,121 1838,219 1838,343 1838,300 1838,374 1838,247 1838,366 1838,387 1838,368 1838,243 1838,363 1839,383 1839,218 1839,213 1839,317 1839,57 1839,67 1839,353 1839,331 1839,384 1839,157 1839,369 1839,116 1839,198 1839,392 1839,186 1840,193 1840,308 1840,380 1840,255 1840,239 1840,264 1840,219 1840,335 1840,325 1840,477 1840,368 1840,558 1841,343 1841,236 1841,147 1842,94 1842,333 1842,328 1842,97 1842,184 1843,397 1843,398 1843,284 1843,286 1843,216 1843,293 1843,375 1843,203 1843,173 1843,324 1844,528 1844,190 1844,115 1844,390 1844,285 1844,340 1844,335 1844,342 1844,226 1844,274 1845,401 1845,330 1845,517 1845,364 1845,227 1845,665 1845,258 1846,313 1846,186 1846,197 1846,256 1846,329 1846,391 1846,318 1847,348 1847,336 1847,322 1847,392 1847,301 1847,102 1848,258 1848,309 1848,235 1848,88 1848,294 1848,503 1848,408 1848,223 1849,378 1849,384 1849,186 1849,259 1849,332 1849,290 1849,179 1849,345 1849,344 1850,400 1850,355 1850,240 1850,282 1850,159 1850,365 1850,343 1851,302 1851,485 1851,259 1851,421 1851,363 1851,254 1851,337 1851,331 1852,298 1852,353 1852,336 1852,377 1852,244 1852,373 1853,302 1853,372 1853,466 1853,369 1853,459 1854,446 1854,479 1854,400 1854,387 1854,278 1854,278 1855,363 1855,399 1855,387 1855,330 1855,413 1855,529 1855,227 1856,289 1857,509 1857,510 1857,164 1857,416 1857,278 1857,390 1857,279 1858,232 1858,679 1858,457 1859,394 1859,349 1859,632 1859,287 1859,400 1859,399 1859,430 1860,377 1860,313 1860,329 1860,332 1860,321 1860,492 1860,339 1861,547 1861,475 1861,459 1862,229 1862,354 1863,403 1863,317 1863,455 1863,247 1863,605 1863,260 1863,552 1864,368 1864,281 1864,373 1866,579 1866,495 1866,399 1866,308 1866,574 1868,519 1868,356 1868,423 1869,392 1870,414 1871,508 1872,520 1872,468 1872,510 1872,381 1873,533 1873,538 1873,531 1875,572 1875,427 1875,407 1876,490 1876,410 1876,647 1877,540 1877,427 1877,332 1877,446 1878,439 1880,468 1882,437 1883,508 1884,579 1885,436 1885,514 1887,523 1887,505 1887,657 1888,587 1889,425 1889,547 1890,643 1890,427 1890,471 1890,547 1891,567 1891,468 1891,447 1892,564 1892,551 1892,488 1894,406 1894,572 1894,431 1895,644 1895,521 1895,533 1896,466 1897,501 1897,658 1897,551 1898,583 1899,548 1899,541 1899,503 1900,600 1900,552 1900,497 1901,593 1901,571 1901,547 1902,485 1902,467 1903,604 1903,464 1904,403 1905,527 1905,505 1905,450 1905,570 1906,441 1907,445 1907,570 1909,622 1909,487 1909,529 1909,550 1911,551 1911,526 1911,592 1912,539 1913,555 1913,657 1913,569 1914,542 1914,610 1915,604 1915,570 1917,526 1917,420 1919,572 1920,517 1920,539 1920,659 1920,529 1920,497 1921,551 1922,398 1922,510 1923,612 1924,628 1924,449 1926,362 1926,612 1927,439 1928,612 1929,556 1929,606 1931,479 1931,501 1932,496 1932,432 1933,485 1933,551 1934,613 1934,565 1934,315 1935,532 1936,617 1936,561 1936,555 1936,548 1936,539 1937,680 1938,657 1939,689 1939,590 1939,490 1941,634 1945,641 1946,578 1946,431 1946,619 1946,676 1947,728 1947,559 1947,619 1947,550 1948,723 1949,680 1949,609 1950,722 1950,572 1950,507 1951,494 1951,548 1952,437 1952,556 1953,621 1954,640 1954,623 1954,452 1955,630 1955,679 1956,602 1956,611 1957,444 1957,687 1957,634 1958,594 1959,543 1959,612 1959,663 1959,522 1960,635 1961,603 1961,534 1965,674 1966,521 1967,555 1967,536 1967,652 1968,680 1971,646 1971,641 1972,655 1973,675 1974,613 1975,782 1975,629 1976,515 1976,578 1976,637 1977,559 1979,730 1980,679 1980,556 1980,411 1980,724 1982,561 1982,625 1983,785 1983,601 1983,646 1984,618 1984,662 1985,546 1986,593 1987,747 1987,686 1988,588 1988,667 1989,586 1989,707 1990,472 1991,660 1996,626 1997,653 1998,498 1998,688 1999,713 2000,726 2001,605 2001,530 2002,722 2003,674 2003,701 2005,642 2007,691 2007,692 2007,660 2007,609 2007,743 2009,654 2010,656 2011,705 2012,593 2013,734 2014,630 2016,626 2017,395 2020,583 2021,624 2021,708 2024,629 2025,721 2026,725 2026,654 2027,692 2028,766 2028,524 2030,693 2032,713 2032,533 2034,616 2034,762 2035,657 2037,717 2038,642 2038,715 2039,620 2041,649 2041,763 2042,701 2047,631 2049,660 2052,768 2052,650 2052,763 2054,761 2057,637 2058,784 2059,656 2061,628 2063,709 2064,685" fill="none" stroke="none" marker-start="url(#gd)" marker-mid="url(#gd)" marker-end="url(#gd)"/></g>
<clipPath id="cBL"><rect x="169.5" y="971.2" width="845.3" height="792.3"/></clipPath>
<g clip-path="url(#cBL)"><polyline points="304,1059 316,1210 335,1138 357,1251 358,1111 360,1236 363,1121 377,1285 380,1249 387,1227 388,994 390,1230 390,1210 394,1292 396,1090 398,1084 400,1317 407,1217 410,1009 412,1157 416,1029 416,1257 417,1245 418,1260 420,1267 420,1298 420,1311 422,1171 423,1225 423,1240 423,974 426,1245 427,1198 429,1165 430,1246 430,1252 433,1096 433,996 434,1271 437,1244 438,1161 438,1296 439,1220 441,1154 441,1365 443,1185 443,1167 445,1180 445,1120 445,1275 445,1308 446,1319 447,1207 448,1249 449,1099 449,1192 450,1258 450,1032 452,1139 453,1289 453,1270 456,1265 456,1324 457,1178 457,1030 458,1327 458,1278 458,1256 459,1287 460,1145 460,1317 462,972 463,1157 465,1169 465,1309 465,1180 466,1379 466,1201 466,1095 466,973 466,1346 467,1011 467,1020 467,1263 467,1149 468,1088 469,1220 470,1162 470,1308 470,1170 471,1180 471,1236 472,1360 472,1238 472,1067 472,1308 473,1261 473,1150 474,1023 475,1341 475,1292 477,1366 477,1085 478,1249 478,1147 479,1195 479,1169 480,1015 480,1125 480,1364 480,1041 481,1051 482,1238 482,1061 484,1356 485,1373 485,1373 486,1227 486,1089 486,1013 488,1337 488,1341 489,1350 490,1320 490,974 490,1348 490,1334 491,1262 493,1067 493,1084 493,1080 493,1338 494,1315 496,1072 496,1132 497,1308 497,1070 498,1128 498,1216 499,1255 499,1266 501,1282 502,1237 502,1136 502,1261 503,985 503,1353 503,977 503,1257 504,983 504,1276 505,1389 506,1346 506,1299 507,1232 507,1178 507,1167 510,1272 510,1121 511,1211 512,1203 512,1228 512,1107 513,1296 513,978 514,984 514,1292 515,1324 515,1151 515,1264 515,1248 516,1233 516,1014 516,1314 517,969 517,1215 519,1342 520,1224 520,1244 521,1320 521,1031 523,1077 524,1217 525,1182 525,1179 526,1250 528,1232 529,1031 529,1019 529,1082 530,1146 530,1107 531,1247 532,1322 532,1013 532,1310 533,1103 534,1284 534,1306 534,989 534,1253 535,1124 536,1052 538,1106 539,1317 539,1141 539,1259 539,1210 540,1110 540,1135 541,1323 542,1074 542,1386 542,1226 542,1188 542,1414 543,1273 543,1187 543,1154 544,1308 544,1139 544,975 544,1354 545,980 546,1006 547,973 548,1037 548,997 549,1256 550,1085 550,1380 550,1361 551,1234 551,1099 552,1152 553,1087 553,1170 553,1277 553,1033 555,1191 555,1106 556,1122 556,968 556,1376 556,1153 556,1405 556,1000 557,1171 557,1282 557,1300 558,1280 559,1286 559,1222 559,1368 559,974 559,998 560,1302 560,1213 560,1389 561,1294 561,1334 563,1160 563,1335 564,1148 565,1106 565,1366 565,1019 566,1343 566,1146 566,1273 566,1370 567,1022 569,1246 570,1317 570,1375 570,1169 571,1297 572,1071 572,1120 572,1026 572,1095 572,1284 573,1155 574,1111 574,1013 574,1315 575,1046 575,1028 577,1403 577,1270 577,1364 578,1310 578,988 579,1134 579,1174 579,981 580,1257 580,1139 580,1042 580,1105 580,1314 581,1273 581,1325 582,1071 582,1282 582,1119 582,1415 583,1061 583,1364 583,1267 584,1397 584,1395 585,1086 585,1084 586,1146 586,1091 586,1254 587,988 587,1317 588,1079 589,1259 589,1154 590,1302 590,1285 591,1053 591,1357 591,1383 592,1124 592,1080 592,1378 592,986 593,1097 593,1134 593,1143 593,1057 593,1257 594,1260 595,1071 595,1172 596,1136 596,1398 596,1232 597,1159 597,1246 597,1042 597,1192 598,1254 598,1235 598,1074 598,1350 598,1325 599,1321 599,1306 600,1135 600,1073 600,1240 601,1261 601,1307 601,1337 601,1290 601,1096 601,1383 601,976 602,1104 602,1059 603,1220 603,1191 605,1335 605,1358 605,978 606,1361 606,1150 606,1009 606,1145 607,1368 607,1184 607,1043 607,1062 607,1035 608,1222 608,1236 608,1182 609,1047 609,1159 609,1039 609,1279 610,1267 611,1270 611,982 611,1041 611,977 611,1239 612,1372 612,1373 612,1333 614,1108 614,1273 615,1186 617,1390 617,1338 618,1021 618,1298 619,1060 619,1239 619,1313 619,1136 620,1200 621,1192 621,1072 621,1354 623,1082 624,1031 624,1061 624,1397 624,1147 624,1274 625,1236 625,1038 625,1349 626,1389 626,1092 627,1215 627,976 627,1038 627,1012 627,1098 628,1378 628,1288 628,1009 628,1053 629,1223 629,1348 629,1277 630,1120 630,1139 630,1405 630,1087 631,1106 632,1108 632,1032 632,1296 632,1231 633,1419 633,1397 633,1334 634,1016 634,1152 634,1002 635,1349 636,1276 637,1332 637,1322 638,1318 638,1365 638,1378 638,1373 639,1218 639,1054 639,1356 639,1031 640,1432 640,1160 640,1032 640,1368 640,1133 640,1359 641,1245 641,1389 641,1278 641,1318 641,1150 641,1442 641,1275 641,1151 641,1181 643,1429 643,972 644,1075 644,1302 644,1442 644,1202 644,1039 645,1435 645,1256 646,1134 646,1343 646,1312 647,1352 647,1234 647,1387 647,1321 648,1265 648,1305 648,1393 648,1068 648,1339 649,1193 649,1251 649,1122 649,1353 649,1066 649,1420 649,1128 650,1213 650,1290 650,1060 651,1232 651,1223 651,1318 651,1269 651,1208 652,1146 652,1390 653,1233 653,1215 654,1161 654,1234 654,1344 655,1070 655,1443 655,1011 656,1427 656,1419 658,1329 658,1089 658,1030 658,1288 658,1278 658,1418 659,1203 659,1078 659,1253 659,1371 659,1138 660,1275 660,1355 660,1331 660,1183 660,1051 661,1392 662,1218 662,1009 662,1401 662,1077 662,1110 663,1147 663,1216 663,1387 663,1368 664,1311 664,1293 665,974 665,1019 665,1392 666,1297 666,1240 666,1369 667,1034 667,1237 667,1409 667,1303 667,1304 668,980 668,1264 668,1335 669,1307 669,1286 669,1080 670,1340 670,1221 670,1194 670,1005 670,1231 671,1151 671,1033 671,1322 671,1385 672,1142 672,1285 672,1220 673,1361 673,1361 673,1009 673,1299 674,1292 674,1055 675,1397 675,1334 675,995 676,1258 677,1397 677,1307 677,1116 678,1242 678,1329 678,1229 679,1215 680,1240 680,1299 680,1208 680,1306 680,1310 681,1444 681,1305 682,1320 682,1230 682,1069 682,1084 682,1167 683,1053 683,1402 683,1471 683,990 684,1051 685,1059 685,1144 685,1358 685,1418 686,1386 686,1235 686,1181 687,1413 687,1111 687,1200 688,1389 688,1360 689,1275 689,1297 689,1377 689,1293 689,1221 689,1264 689,1134 689,1249 689,1388 690,1329 690,1295 690,1414 690,1251 691,1376 691,1401 691,1403 691,1173 691,1383 691,1009 692,1252 693,1226 693,1388 693,1292 694,1437 694,1229 694,1416 694,1398 695,1371 695,1464 695,1430 695,1120 695,1280 696,1200 696,1393 696,1394 696,1214 696,1193 696,1353 697,1297 697,1001 697,1408 697,1419 697,1264 697,1325 698,1392 698,1411 698,1457 698,1369 698,1370 698,1180 698,1024 699,1077 699,1211 699,1256 699,975 699,1398 699,972 699,1417 699,1328 699,1027 699,1460 699,1415 700,1042 700,1445 700,1399 700,1325 700,1422 701,1432 701,1240 701,1438 701,1400 701,1360 702,1386 702,1246 702,1023 702,1005 703,1360 703,1031 704,1001 704,1398 704,1315 704,1455 704,1034 704,1024 705,1342 705,1221 705,1189 706,1188 706,1237 706,970 706,1056 706,1399 706,1360 707,1062 707,1133 707,1226 707,1377 708,1411 708,1051 708,1334 709,1202 709,1226 709,1330 709,1305 709,1378 709,1236 709,1215 709,1285 709,1186 710,1381 710,1189 710,987 710,1241 711,1142 711,1415 711,1230 711,1144 711,1425 712,1441 712,1312 712,1313 712,1195 712,1158 713,1230 713,1402 713,1082 713,1453 713,1095 713,1393 713,1168 713,1452 714,1402 714,1241 714,1054 714,1137 714,1272 714,993 714,1312 715,1464 715,1367 715,1316 717,1149 717,1091 717,1343 718,985 718,1257 719,1295 719,1323 719,1321 719,1117 719,1190 719,1065 719,1422 719,1417 719,1274 719,1373 719,1454 720,1363 720,1009 720,1426 720,1226 720,1401 720,1336 721,1391 721,1331 721,1121 721,1039 721,993 721,1060 721,1181 722,1350 723,1231 723,1413 723,1293 723,1376 723,1432 723,1392 724,1451 724,1304 724,1448 724,1101 724,1347 724,1397 725,1287 726,1432 726,1413 726,1303 726,1430 726,1257 726,1253 727,1325 727,1462 727,1460 727,1305 728,1410 728,1250 729,1373 729,1240 729,1127 729,1238 729,1032 729,1150 730,1354 730,1272 730,1368 730,1440 730,1353 730,1137 730,1114 730,1381 731,1301 731,1210 731,1225 731,1278 731,1231 732,1079 732,1332 732,1007 732,1275 733,1374 733,1467 733,1128 733,1316 733,1007 733,1376 733,1139 734,1169 734,1202 734,1006 734,1257 734,1293 734,1195 734,1369 734,1001 734,1491 735,974 735,1354 735,968 735,1456 735,1181 735,1436 735,1129 736,1186 736,1304 736,1327 736,1455 737,1144 737,1426 737,1289 737,1450 737,1336 738,1148 738,1144 738,1208 738,1408 738,1006 738,1188 738,1499 739,1384 739,1030 739,977 739,1335 739,1140 739,1412 739,1291 739,1289 740,1252 740,997 740,1457 740,1463 741,1134 741,976 741,1340 741,1227 741,1009 741,1328 741,1083 741,1278 741,1251 741,1021 742,1138 742,1338 742,1463 742,1188 742,1064 742,1322 742,1202 743,1055 743,1173 743,981 743,1471 743,1077 744,1183 745,1353 745,1313 745,1403 746,1210 746,1104 746,1210 746,1017 746,1407 746,1241 747,1282 747,1267 747,1415 748,967 748,1098 748,1482 748,1343 748,1184 749,1011 749,1378 749,1173 749,1451 749,1453 750,1467 750,1199 750,1477 750,1451 750,1374 750,1264 750,1371 751,1039 751,1361 751,1453 751,1432 751,1359 751,1217 751,996 752,1292 752,1335 752,1386 752,1154 752,1389 753,1132 753,1399 753,1336 753,1269 753,1324 754,969 754,1215 754,1289 754,1421 754,1009 755,1390 755,1394 755,1266 755,1080 755,1072 755,1419 756,1205 756,1378 756,1049 756,1481 757,1499 757,1359 757,1285 757,1342 758,1305 758,1481 758,1480 758,1073 759,1103 759,1413 759,1441 759,1197 759,1262 759,1426 759,1408 759,1127 760,1274 760,977 760,1284 760,1138 760,977 760,1066 761,1356 761,1127 761,1507 761,1309 761,1409 761,1086 761,1352 761,1342 762,1441 762,1014 762,1451 763,1493 763,1223 763,1407 763,1447 763,1318 763,1485 763,1230 763,1450 764,1000 764,1416 764,1295 764,971 765,1087 765,1289 765,1167 765,1334 765,1309 765,1488 765,1432 766,1428 766,1314 766,1342 766,1023 766,1063 766,1237 766,1325 766,1434 767,1426 767,1185 767,1323 767,1148 767,1232 768,1230 768,1378 768,1408 768,1226 768,1050 768,1267 768,1466 768,1427 768,1439 768,1294 768,1386 768,1199 769,1111 769,1459 769,1438 769,1003 769,986 769,1102 770,1289 770,1118 770,1462 770,1354 770,1138 770,1382 771,1094 771,1282 771,1323 771,1026 771,1341 771,1095 771,1404 772,1389 773,1246 773,1233 773,1417 773,1465 773,1408 773,1312 774,1350 774,1332 774,1208 774,1119 775,1349 775,1151 775,1163 775,1318 775,1413 776,1137 776,1358 776,1118 776,1136 776,1384 776,1417 776,1395 776,1416 776,1002 776,1029 776,1041 777,1363 777,1093 777,1300 777,1397 777,1364 777,1350 777,1461 777,1475 777,1405 777,1111 778,1411 778,1181 778,1120 778,1268 778,1355 778,1440 778,1278 778,1441 778,1355 779,1175 779,1473 779,1379 779,1265 779,1274 779,1017 780,1153 780,1229 780,1142 780,1376 780,1327 780,1369 780,1049 780,1365 780,1087 781,1228 781,1158 781,1066 781,1070 782,1083 782,1155 782,1127 782,1011 782,1381 783,1379 783,1081 783,1380 783,1027 783,1096 783,1136 783,1410 784,1497 784,1354 784,983 784,1464 784,1174 784,1464 784,1492 784,1232 784,1282 784,1403 785,1285 785,1171 785,1489 785,1389 785,1139 785,1305 785,1264 785,1290 785,1082 785,1209 786,1425 786,1403 786,1420 786,1495 786,1223 786,1371 786,1498 786,1337 786,1297 786,1162 786,1322 787,1407 787,1271 788,1067 788,1344 788,1349 788,1418 788,1259 788,1316 788,1369 788,1318 788,1060 788,1159 788,1209 788,1222 788,1211 789,1110 789,1216 789,1391 789,1028 789,1162 789,1434 789,1436 790,1284 790,1440 790,1403 790,1118 790,1053 790,1337 790,1472 790,1455 790,1248 790,996 791,1337 791,1130 791,1284 791,1448 791,1051 791,1470 791,970 792,1481 792,1450 792,1376 792,1093 792,1449 792,1205 792,1454 792,1462 792,1249 793,1128 793,1410 793,1221 793,1320 793,1397 794,1247 794,1321 794,1134 794,1377 794,1335 794,1522 794,1297 794,1082 794,1462 795,1319 795,1399 795,1309 795,1365 795,1432 795,1424 795,1087 795,1441 795,1405 796,1065 796,1202 796,1257 796,1096 796,1273 796,969 796,1405 796,1251 796,1370 797,1492 797,1444 797,1376 797,1032 797,1219 797,1445 797,1501 797,1216 797,1315 797,1051 797,1038 798,1156 798,1076 798,1190 798,1415 798,1463 798,1442 798,1419 798,1061 798,1192 799,994 799,1090 799,1003 799,1320 799,1122 799,1448 800,1152 800,1280 800,1231 800,1501 800,1257 800,1086 800,1270 801,1414 801,1164 801,1365 801,1506 801,1317 801,1426 801,1060 801,1372 802,1493 802,1388 802,1142 802,1189 802,1287 802,1416 802,1132 802,1463 802,1156 802,1285 802,1359 802,1032 802,1343 803,1084 803,1039 803,1191 803,1406 803,1119 803,1493 803,1390 803,1189 803,980 803,1382 803,1014 803,1380 804,1374 804,1514 804,1485 804,1068 804,1104 804,1472 804,1351 804,1213 804,1240 804,1242 805,1074 805,1360 805,1480 805,1407 805,1449 805,1377 805,1391 805,1206 805,981 806,1433 806,1382 806,1494 806,1424 806,1318 806,1427 806,1086 806,1015 806,1409 806,988 806,1040 807,1237 807,1408 807,1289 807,1140 807,1340 807,1022 807,980 807,1431 807,1388 807,1273 807,1443 808,1414 808,1451 808,1505 808,1364 808,1221 808,1005 809,1312 809,1433 809,1430 809,1354 809,1339 809,1333 809,1261 809,1018 809,1360 809,1194 809,1115 809,1284 810,1045 810,1188 810,1245 810,1406 810,1036 810,1358 810,1200 810,1285 810,1260 811,1494 811,1173 811,1163 811,986 811,1289 811,998 811,1150 811,1119 811,1137 812,1345 812,1153 812,1134 812,1413 812,1450 812,1013 812,1317 812,1228 812,1478 812,997 812,1201 813,1473 813,1325 813,1216 813,1232 813,1466 813,1298 813,1266 813,1403 813,1089 814,1129 814,1175 814,1453 814,1102 814,978 815,1156 815,1351 815,1344 815,1472 815,1199 815,1402 815,1062 815,1516 815,1519 816,1329 816,1299 816,1484 816,1020 816,1309 816,980 816,1225 816,1254 816,1456 816,1331 816,1420 816,1124 816,1348 817,1301 817,1332 817,1366 817,1381 817,1317 817,1488 817,1109 817,1183 817,1366 817,1454 817,1250 818,1447 818,1216 818,1342 818,1176 818,1327 818,1371 818,1157 818,1345 818,1337 818,1024 818,1271 818,1432 819,1233 819,1135 819,1368 819,1160 819,1145 819,1501 819,1000 819,1273 819,1492 819,1413 819,1452 819,1336 819,1255 819,1341 819,1367 819,1251 820,1178 820,1359 820,1433 820,1451 820,1338 820,1341 820,1484 820,1497 821,1503 821,1013 821,1222 821,1368 821,1027 821,1335 821,1455 821,1437 822,1105 822,1395 822,1271 822,1254 822,1200 822,1436 822,1390 822,996 822,1362 822,994 822,1508 822,1346 822,1315 822,1513 822,1293 822,1455 822,1301 822,1369 822,1284 822,1371 822,1463 823,1313 823,1415 823,1090 823,1005 823,1520 823,1015 823,1236 823,1473 824,1149 824,1439 824,1143 824,1093 824,1180 824,1463 824,1057 824,1447 824,1327 824,1197 824,1365 824,1366 824,1164 825,1484 825,1269 825,1408 825,1029 825,1440 825,1059 825,1346 825,1397 825,1460 825,1239 825,1129 825,1277 825,1181 826,1042 826,1440 826,1039 826,989 826,1444 826,1483 826,1090 826,1282 826,1290 827,1013 827,1292 827,1249 827,1156 827,1303 827,1214 827,1021 827,1335 827,1201 827,1087 827,1413 828,1155 828,1352 828,1485 828,1316 828,1290 828,1431 828,1305 828,1329 828,1467 829,1366 829,1170 829,1415 829,1208 829,1377 829,1393 829,1488 829,1366 829,1383 829,1085 829,1132 829,1461 829,1317 829,1195 829,1287 829,1192 829,1429 830,1237 830,1342 830,1518 830,1479 830,1486 831,1089 831,1104 831,1037 831,1028 831,1320 831,1123 831,1023 831,1043 831,1372 832,1369 832,1163 832,1203 832,1031 832,1090 832,1390 832,1245 833,1352 833,1027 833,1362 833,1430 833,1469 833,1237 833,1164 833,1215 833,1110 833,1006 833,1327 833,1123 834,1392 834,1206 834,1016 834,1451 834,1205 834,1330 834,1285 834,1458 834,1464 835,1451 835,1344 835,1335 835,1209 835,1007 835,1431 835,1463 835,1049 835,1030 835,1328 835,1333 835,1052 835,1070 835,1294 835,1380 835,1466 835,1051 835,1471 835,1033 836,1222 836,1224 836,980 836,1360 836,1114 836,1089 836,1200 836,1506 836,1471 836,1518 836,1373 836,1187 836,1352 836,1198 836,1402 836,1258 836,1167 837,1350 837,1074 837,1124 837,1407 837,1126 837,1098 837,1381 837,1034 837,1431 837,1397 837,1210 837,1387 837,1147 837,1350 838,1239 838,978 838,1288 838,1093 838,1161 838,1308 838,1091 839,1326 839,1423 839,1414 839,1231 839,1472 839,1164 839,1496 839,1139 839,1160 839,1075 839,1153 839,1067 840,1462 840,1470 840,978 840,1093 840,1097 840,1487 840,1246 840,1209 840,1233 840,1023 840,1476 840,1056 840,1458 841,1030 841,1456 841,1105 841,999 841,1200 841,1452 841,1066 841,1507 841,1530 841,1178 842,1450 842,1485 842,1165 842,1313 842,1462 842,1165 842,1008 842,1087 842,1369 843,1459 843,1306 843,1301 843,1078 843,1423 843,1503 843,1316 843,1405 843,1506 843,1419 843,1184 843,1353 843,1417 843,1472 844,1367 844,1273 844,1063 844,1125 844,1245 844,1517 844,1099 844,1124 844,1411 844,1245 844,1084 844,1455 844,1451 844,1389 844,1284 844,1486 844,1340 844,1331 845,1378 845,1440 845,1343 845,1339 845,1043 845,1312 845,1329 845,997 846,990 846,1308 846,1308 846,1255 846,1313 846,1244 846,1397 846,1149 846,1398 846,1124 847,1533 847,999 847,1256 847,1338 847,1144 847,1440 847,1317 847,1323 847,1392 847,1067 847,1172 847,1451 847,1142 847,1064 847,1241 848,1231 848,1108 848,1311 848,985 848,1327 848,1516 848,1040 848,1407 848,1383 848,1320 849,1284 849,1417 849,1434 849,1149 849,1347 849,1194 849,1375 849,1521 849,1471 849,1287 849,1353 849,1250 849,1311 849,1224 849,1395 850,1042 850,1131 850,1358 850,1504 850,1382 850,1019 850,999 850,1240 850,1330 850,1231 850,1285 850,1373 851,1481 851,1109 851,1400 851,1393 851,1441 851,973 851,1034 851,1141 851,1162 851,987 851,996 851,1064 851,1307 851,1358 851,1173 851,1029 851,1383 851,1221 851,1207 851,1468 851,1468 852,1389 852,969 852,1009 852,1246 852,1293 852,1206 852,1505 852,976 852,1354 852,1240 852,1269 853,1292 853,1273 853,1063 853,1305 853,1525 853,1106 853,1037 853,1256 853,1317 853,1221 853,991 853,1428 853,1442 853,1026 853,1008 853,1349 854,1154 854,1495 854,1388 854,1306 854,1177 854,1501 854,1095 854,1485 854,1272 854,1437 854,1208 854,1377 854,1439 854,1276 854,1149 854,1067 855,1243 855,973 855,1077 855,1229 855,1495 855,1304 855,1465 855,1401 855,1361 855,1343 855,1476 855,1188 855,1281 855,1338 855,1329 856,973 856,1072 856,1509 856,1380 856,1373 856,1297 856,1179 856,1519 856,1050 856,1223 856,1473 856,1348 857,1341 857,1561 857,1287 857,1505 857,1499 857,980 857,1094 857,1418 857,1269 857,1425 857,1545 857,1387 857,998 857,1148 858,1523 858,1480 858,1168 858,978 858,1117 858,1475 858,1338 858,1302 858,1380 858,982 858,1386 858,1427 858,1542 859,1038 859,1302 859,1197 859,1509 859,987 859,1294 859,1393 859,1431 859,1429 859,1202 859,1390 859,1179 860,1494 860,1301 860,1283 860,1197 860,997 860,1131 860,1259 860,1422 860,1363 860,1378 861,1481 861,1246 861,1403 861,1451 861,1400 861,1452 861,1150 861,1434 862,1276 862,1219 862,1005 862,1226 862,1077 862,1171 862,1509 862,1318 862,1457 862,1168 862,1468 862,1227 863,1421 863,1200 863,1440 863,974 863,1150 863,1440 863,1026 863,1442 863,1382 863,1472 863,1014 863,1404 863,1157 863,1413 863,1502 863,1289 864,1243 864,1539 864,1388 864,1328 864,1474 864,1441 864,1437 864,1371 864,1510 864,1034 864,1307 864,1402 865,1408 865,1264 865,1147 865,1352 865,1531 865,1100 865,1357 865,1065 865,1477 865,1348 865,988 865,1503 865,1463 865,1405 865,1391 865,1350 865,1154 866,1022 866,1174 866,1217 866,1391 866,1329 866,1171 866,1380 866,1362 866,995 866,1386 866,1516 866,1480 866,1512 866,1352 866,1166 866,1270 866,1210 866,1250 867,1000 867,1149 867,1534 867,1067 867,1113 867,1462 867,1307 867,1181 867,1457 867,1286 867,1105 867,1116 867,1179 868,1216 868,1005 868,1033 868,1476 868,1471 868,1194 868,1063 868,1429 868,1456 868,1380 868,1295 868,1510 868,1409 868,1530 868,1392 868,1258 869,1230 869,1218 869,1461 869,1214 869,1216 869,1344 869,1410 869,1159 869,1471 869,1493 869,1406 869,1436 869,1507 869,1452 869,1308 869,1339 869,1497 869,1196 869,1184 869,1266 869,1088 869,1101 869,1271 869,1291 869,1279 869,1046 870,1487 870,1526 870,1182 870,1151 870,1260 870,1204 870,1480 870,1070 870,1461 870,1336 870,1146 870,1515 870,1480 870,1267 870,1454 870,1030 870,1440 870,1193 870,1352 871,1070 871,1503 871,1100 871,1474 871,1463 871,968 871,1312 871,1245 871,1498 871,1268 871,1220 871,1464 871,997 871,1532 871,1344 871,1187 871,1529 871,1219 871,1353 871,1336 871,1172 871,1321 871,1314 872,1502 872,1507 872,1291 872,1481 872,1292 872,1086 872,1481 872,1456 872,1402 872,1359 872,1000 872,1478 872,1315 872,1410 872,1360 872,1453 872,1153 872,1339 872,1486 872,1384 873,1302 873,1003 873,1309 873,1411 873,1200 873,1117 873,1428 873,1356 873,1478 873,1315 873,1303 873,1032 873,1232 873,995 873,1006 874,1456 874,1484 874,1421 874,1332 874,1308 874,1097 874,1281 874,1273 874,1176 874,1249 875,1466 875,1275 875,1463 875,1045 875,979 875,1358 875,1415 875,1395 875,1031 875,1341 876,1357 876,1056 876,1476 876,1433 876,1273 876,1477 876,1311 876,1024 876,1301 876,1253 876,1372 876,1037 876,1458 876,1056 876,1522 876,1092 876,1420 877,1313 877,1210 877,1473 877,1159 877,1189 877,1467 877,1485 877,1420 877,1071 877,1051 877,1071 877,1075 877,1153 877,1276 878,1034 878,971 878,1376 878,1338 878,1359 878,1468 878,1506 878,1424 878,1158 878,1514 878,1089 878,1197 878,1198 878,979 878,1227 878,1319 878,1414 878,1499 878,1252 879,1377 879,1162 879,1252 879,1315 879,1455 879,1352 879,1069 879,1310 879,1364 879,1495 879,1356 879,1318 879,1444 879,1444 879,1142 879,1514 879,1128 879,1194 879,1387 879,1180 879,982 879,1258 879,1282 879,1511 879,1423 879,1379 879,1155 879,1028 879,1382 879,971 880,1472 880,1405 880,1431 880,1205 880,1140 880,1480 880,1133 880,1411 880,1516 880,1085 880,1292 880,1490 881,1454 881,1079 881,1253 881,1497 881,1294 881,1246 881,1132 881,1117 882,1104 882,1167 882,1356 882,1531 882,1489 882,1272 882,1224 882,1354 882,1295 882,1558 882,1289 882,1420 882,1417 882,1337 882,1206 882,1098 882,1001 882,1312 883,1536 883,1082 883,1061 883,996 883,1207 883,1530 883,986 883,1204 883,1146 883,1450 883,1384 883,1359 883,1393 883,1197 883,1351 883,1395 883,1372 883,1319 883,1513 884,1272 884,1149 884,1196 884,1470 884,1553 884,981 884,1180 884,1129 884,1490 884,1265 884,1100 884,1326 884,1159 885,1554 885,986 885,1457 885,1319 885,1109 885,1495 885,1435 885,1306 885,1368 885,1414 886,1492 886,1332 886,1386 886,1329 886,1274 886,1416 886,1369 886,1105 886,1525 886,1046 886,1027 886,1435 886,1140 886,1260 886,1420 886,1466 886,1319 886,1515 886,1339 886,1482 886,1413 886,1200 887,1372 887,1136 887,1393 887,1464 887,1266 887,1480 887,1407 887,1118 887,1186 887,1493 887,1112 887,1295 887,1241 887,1177 888,1075 888,1419 888,1487 888,1296 888,1138 888,1091 888,989 888,1364 888,1447 888,1200 888,1506 888,1284 888,1282 888,1429 888,1506 888,1464 888,1238 889,1394 889,1504 889,1242 889,1239 889,1526 889,1523 889,1315 889,1043 889,1096 889,1119 889,1288 889,1256 889,1331 889,1467 889,1263 889,1200 889,1090 889,1455 889,1432 889,1191 890,1523 890,1466 890,1229 890,1223 890,1410 890,1363 890,1442 890,1372 890,1231 890,1340 890,1429 890,1185 890,1338 890,1468 890,1163 890,1335 890,1477 890,1311 890,1164 890,1526 890,1512 890,1211 891,1290 891,1010 891,1344 891,1425 891,1515 891,1001 891,1233 891,1266 891,1492 891,1249 891,1528 891,1232 891,1105 891,976 891,1538 891,1110 891,1278 891,1108 891,1268 891,1304 891,1358 892,1261 892,1517 892,1177 892,1288 892,1090 892,1090 892,1394 892,1295 892,1409 892,1230 892,1243 892,1510 892,1102 892,1548 892,1204 892,1443 892,1447 892,1373 893,1433 893,1299 893,1273 893,1539 893,1354 893,1133 893,1321 893,1112 893,1424 893,1432 893,1348 893,1322 893,1347 893,1276 893,1468 893,1412 893,1513 893,1474 893,1357 893,1530 893,1018 893,1407 894,1081 894,1137 894,1395 894,1376 894,1033 894,1527 894,1293 894,1306 894,1536 894,1397 894,1004 894,1321 894,1204 894,1490 894,1375 894,1290 894,1342 894,1084 894,1434 894,1229 894,1469 895,1486 895,1084 895,978 895,1365 895,1035 895,1311 895,1567 895,1324 895,1560 895,1533 895,1252 895,1327 895,1225 895,1079 895,1058 895,1382 895,1317 895,1199 895,1034 895,1037 895,1076 896,1006 896,1133 896,1358 896,1218 896,1273 896,1278 896,1513 896,1518 896,1050 896,1233 896,1492 896,1215 897,1365 897,990 897,1472 897,1453 897,1504 897,1566 897,1283 897,1281 897,1011 897,1042 897,1176 897,1017 897,1081 897,968 897,1154 897,1063 897,1302 897,991 897,1103 897,1303 897,1071 897,1501 897,1344 897,1300 897,1317 897,1231 898,1380 898,1270 898,1271 898,1353 898,1233 898,976 898,1360 898,1417 898,1361 898,1124 898,1039 898,1038 898,1154 898,1483 898,1092 899,1496 899,1147 899,1412 899,1073 899,1175 899,1521 899,1174 899,1380 899,1466 899,989 899,1431 899,1132 899,1154 899,1352 899,1296 899,1029 899,1496 899,1309 899,1383 899,994 899,1045 899,1232 900,1358 900,1106 900,1159 900,1526 900,1440 900,1197 900,1190 900,1177 900,1183 900,1533 900,1493 900,1108 900,1513 900,1454 900,1180 900,1428 900,1332 900,1212 900,1468 900,1530 901,1275 901,1130 901,1170 901,1065 901,1353 901,1594 901,1259 901,1209 901,1407 901,1387 901,1256 901,1517 901,1112 901,1333 901,1383 901,1466 901,1034 901,1086 901,1395 901,1450 901,1362 901,1490 901,1329 901,1460 902,1106 902,1484 902,1225 902,1466 902,1006 902,1383 902,1224 902,1262 902,1419 902,1317 902,1537 902,1500 902,1457 902,1082 902,1251 902,1218 902,1502 902,1482 902,1306 902,1243 902,1405 902,980 902,1437 902,1144 902,1355 902,1079 902,1100 903,1436 903,1125 903,1527 903,1406 903,1486 903,1081 903,1111 903,1146 903,1352 903,1126 903,1538 903,1463 903,1315 903,1537 903,1510 903,1461 903,1433 903,1154 903,1351 903,1103 903,1268 904,1374 904,1422 904,1393 904,1439 904,1186 904,1506 904,1028 904,1420 904,1421 904,1369 904,1195 904,1226 904,1116 904,1485 904,1487 904,1271 904,1131 904,1415 904,1154 904,1040 904,1007 904,1117 904,1543 904,1337 905,1471 905,1411 905,1233 905,1397 905,1391 905,1348 905,1233 905,1086 905,1538 905,1542 905,1411 905,1335 905,1335 905,1073 905,1179 905,1361 905,1042 905,1175 906,1441 906,1292 906,1258 906,1492 906,1472 906,1524 906,1461 906,1419 906,1258 906,1019 906,1301 906,1510 906,1259 906,1411 906,1346 906,1458 906,1444 906,1071 906,1461 906,1426 906,1157 906,1499 906,1387 906,1379 906,1302 906,1388 906,1458 906,1244 906,1034 906,1480 907,1427 907,1384 907,1442 907,1474 907,1183 907,1329 907,1538 907,1522 907,1149 907,1474 907,1319 907,1304 907,1263 907,1498 907,1477 907,1327 907,1120 907,1198 907,1447 907,1498 907,1262 907,1413 907,1413 907,1379 907,1409 908,1392 908,1372 908,1107 908,1294 908,1185 908,1406 908,1221 908,1217 908,1136 908,1154 908,1281 908,1349 908,1498 908,1144 908,1411 908,1149 908,1502 908,1329 908,1507 908,1428 908,1478 908,1245 908,1541 908,1405 909,1259 909,1319 909,1445 909,1144 909,1438 909,1312 909,998 909,1445 909,1181 909,1135 909,1408 909,1371 909,1461 909,1401 909,1303 909,1043 909,1020 909,1507 909,1329 909,1463 909,1181 909,1530 909,1505 910,1205 910,1359 910,1427 910,1523 910,1049 910,1448 910,1535 910,1090 910,1311 910,1472 910,1393 910,990 910,1532 910,1098 910,1491 910,1340 910,1482 910,1320 910,1465 910,1037 910,1447 910,1494 910,1135 910,1337 910,1274 910,1407 910,1438 910,1452 910,1539 911,1298 911,1507 911,1275 911,1236 911,1522 911,1434 911,1385 911,1519 911,1524 911,1401 911,1101 911,1492 911,1403 911,1525 911,1518 911,1151 911,1084 911,1387 911,1519 911,1145 911,1315 911,1028 911,1037 911,1441 911,1163 912,1469 912,1301 912,1078 912,1230 912,1023 912,1141 912,1528 912,1443 912,1278 912,1048 912,1022 912,1213 912,1264 912,1274 912,1124 912,1358 912,1290 912,1470 912,1249 912,1346 912,1197 912,1467 912,1477 913,1398 913,1454 913,1177 913,1362 913,1519 913,1230 913,1539 913,989 913,1525 913,1049 913,1029 913,1124 913,1514 913,1460 913,1336 913,1393 913,1146 913,1296 913,1398 913,1276 913,1422 913,1505 914,1507 914,1102 914,1455 914,1023 914,1321 914,1043 914,1255 914,1497 914,1010 914,970 914,1064 914,1088 914,1426 914,990 914,1449 914,1040 914,1059 914,1370 914,1545 914,1480 914,1034 914,1335 914,1153 915,1483 915,1339 915,1300 915,1515 915,1145 915,1058 915,1417 915,1472 915,1433 915,1351 915,1099 915,1459 915,994 915,1092 915,1119 915,1309 915,1523 915,1463 915,1455 915,1090 915,1434 915,1332 915,1502 915,1393 915,1323 915,1050 915,1528 915,1481 915,1068 915,1471 915,1238 916,1279 916,983 916,1146 916,1209 916,1385 916,1308 916,1004 916,1455 916,1462 916,1492 916,1484 916,1193 916,1528 916,1043 916,1106 916,1244 916,1183 916,1089 916,1399 916,1452 916,1489 916,1422 916,1551 916,1529 916,1178 916,1298 916,1468 916,1393 917,1152 917,1381 917,1373 917,1028 917,1541 917,1490 917,1380 917,1435 917,1363 917,1523 917,1014 917,1479 917,1322 917,1342 917,1495 917,1002 917,1044 917,1395 917,1325 917,1307 917,1461 917,1393 917,1181 917,1486 917,1157 917,1214 917,1459 918,1491 918,1274 918,1366 918,1438 918,1475 918,1476 918,1510 918,1388 918,1101 918,1440 918,1512 918,1280 918,1412 918,1090 918,1398 918,1240 918,1353 918,1296 918,1415 918,1292 918,1218 918,1339 918,1214 918,1245 918,1351 919,1201 919,1491 919,1020 919,1380 919,1080 919,1531 919,1104 919,1057 919,989 919,1250 919,1531 919,1518 919,1300 919,1417 919,1299 919,1466 919,1351 919,1314 919,1493 919,1340 919,1030 919,1489 919,1499 920,1155 920,1157 920,1524 920,1521 920,1224 920,1449 920,1219 920,1185 920,1451 920,1556 920,1205 920,1113 920,1537 920,1149 920,1117 920,1505 920,1071 920,1026 920,1256 920,1215 920,1447 920,981 920,1486 921,1335 921,1135 921,1037 921,1052 921,1450 921,1001 921,1493 921,1284 921,1561 921,1158 921,1107 921,1502 921,1251 921,1116 921,1104 921,1227 921,1400 921,1059 921,1421 921,1442 921,1347 921,1436 921,1507 921,1286 921,1486 921,1519 921,1007 921,1302 921,1367 921,1540 921,1405 922,1349 922,1062 922,1068 922,1224 922,1533 922,1451 922,1454 922,1503 922,1496 922,1450 922,1555 922,1452 922,1206 922,1232 922,1389 922,1165 922,1200 922,1024 922,1257 922,1482 923,1529 923,1423 923,1073 923,1303 923,1225 923,1517 923,1288 923,1483 923,1345 923,1533 923,1065 923,1227 923,1501 923,1107 923,1494 923,1270 923,1268 923,1504 923,1544 923,1093 923,1142 923,1298 923,1442 923,1333 923,1560 923,1220 923,1525 923,1454 923,1495 923,1220 923,1460 924,1539 924,1418 924,1543 924,1535 924,1522 924,1455 924,1491 924,1146 924,1517 924,1198 924,1105 924,1525 924,1040 924,1389 924,1130 924,1446 924,1141 924,1565 924,1443 924,1202 924,1380 924,1008 924,1024 924,1459 924,1289 924,1225 924,1114 924,1418 924,1310 924,1490 924,1498 924,1089 924,1394 925,1448 925,1548 925,1540 925,1105 925,1392 925,1395 925,1378 925,1419 925,984 925,1005 925,1426 925,1108 925,1051 925,1082 925,1468 925,1382 925,1534 925,1158 925,1518 925,1418 925,988 926,1267 926,1166 926,1444 926,1066 926,1215 926,1242 926,1076 926,1368 926,1267 926,1425 926,1323 926,1405 926,1428 926,1279 926,1170 926,1088 926,1447 926,1049 926,1349 926,1109 926,1184 926,1034 926,1471 926,1471 927,1500 927,1432 927,1418 927,1501 927,1247 927,1374 927,1437 927,1293 927,1357 927,1163 927,1491 927,1165 927,1405 927,1037 927,1126 927,1442 927,1098 927,1093 927,1552 927,1532 927,1329 927,1239 927,1062 927,1530 927,1386 927,1479 927,1021 927,1523 927,1125 928,1361 928,1378 928,1558 928,1111 928,1552 928,1316 928,1361 928,1439 928,1460 928,1557 928,1530 928,1559 928,1249 928,1079 928,1491 928,988 928,1407 928,989 928,1283 928,1038 928,1136 928,1475 928,1508 928,988 928,1090 928,1529 928,1063 928,1300 929,1008 929,1078 929,1470 929,1460 929,1013 929,1333 929,1121 929,1058 929,1392 929,1365 929,1244 929,1491 929,1027 929,1403 929,1415 929,1410 929,1544 929,1545 929,1205 929,1151 929,1346 929,1118 929,1333 929,1543 929,1007 929,1368 929,1317 929,1535 929,1469 929,1550 929,1334 929,1582 929,1337 929,1373 929,1059 929,1359 930,1367 930,1401 930,1507 930,1488 930,1437 930,1473 930,1303 930,1271 930,1346 930,1031 930,1498 930,1519 930,1548 930,1567 930,1417 930,1081 930,1340 930,1227 930,1407 930,1389 930,1249 930,1514 930,1264 930,1095 930,1458 930,1297 930,1305 931,1283 931,1354 931,1112 931,1558 931,1042 931,1450 931,1440 931,1481 931,1114 931,1040 931,1060 931,1521 931,1017 931,1560 931,1134 931,1343 931,1200 931,1025 932,990 932,1516 932,1231 932,1528 932,1386 932,1023 932,1412 932,1534 932,1397 932,1480 932,1497 932,1406 932,1477 932,1075 932,1121 932,1318 932,1427 932,1467 932,1126 932,1584 932,1356 932,1545 932,1320 932,1001 932,1237 932,1145 932,1266 932,1379 933,1405 933,1037 933,1416 933,1507 933,1403 933,1083 933,1398 933,1380 933,1330 933,1407 933,1371 933,1475 933,1154 933,1506 933,1185 933,1331 933,1148 933,1515 933,1508 933,1536 933,1143 933,1077 933,1461 933,1093 933,1496 933,1325 933,1338 933,1421 933,1378 934,1442 934,1374 934,1251 934,1501 934,1330 934,1167 934,1376 934,1304 934,1179 934,1276 934,1005 934,1268 934,1137 934,1403 934,1492 934,1430 934,1126 934,1408 934,1130 934,1048 934,1023 934,1096 934,1366 934,1384 934,1040 934,978 934,1406 934,1239 934,1039 934,1531 934,994 934,1440 934,1562 934,1546 935,1462 935,1519 935,1379 935,1204 935,1284 935,1262 935,1456 935,973 935,1323 935,1545 935,1341 935,1457 935,1333 935,1467 935,1474 935,1051 935,1220 935,1231 935,1416 935,1060 935,1489 935,1019 935,1580 935,990 935,1168 935,1075 935,1356 935,997 935,1450 936,1515 936,1039 936,1152 936,1252 936,1460 936,1460 936,1464 936,1393 936,1309 936,1353 936,1216 936,1435 936,1449 936,1530 936,1549 936,1024 936,1263 936,1352 936,1403 936,1577 936,1185 936,1257 936,1485 936,1213 936,1397 936,1567 936,1410 936,1318 936,1254 936,1376 936,1460 936,1341 936,1120 936,1201 936,1518 936,1421 937,1444 937,1457 937,1228 937,1281 937,1148 937,1011 937,1446 937,1337 937,1085 937,1441 937,1373 937,1082 937,1544 937,1335 937,1496 937,1071 937,1546 937,1450 937,1492 937,1530 937,1304 937,1500 937,1404 937,1111 937,1478 937,1556 937,1006 937,1102 937,1367 938,986 938,1468 938,1047 938,999 938,1367 938,1444 938,1237 938,1180 938,1543 938,1473 938,1532 938,1030 938,1441 938,1038 938,1230 938,1348 938,1568 938,1330 938,1132 938,1399 938,1248 938,1517 938,1446 938,1546 938,1506 938,1534 938,1402 938,1293 938,1283 938,1440 938,994 938,1339 938,1275 938,1565 938,1259 938,1359 938,1318 938,1088 938,1334 938,1529 938,1526 938,986 938,1419 938,1026 939,1113 939,1373 939,1070 939,1125 939,1361 939,1556 939,1152 939,1513 939,1041 939,1241 939,1287 939,1184 939,1583 939,1150 939,1138 939,1448 939,1144 939,1407 939,1362 939,1170 939,1504 939,1505 939,1506 939,1012 939,1368 939,1441 939,1516 939,1263 939,1269 939,1101 939,1055 939,1222 939,1498 939,1404 939,1205 940,1505 940,1371 940,1043 940,1044 940,1283 940,1452 940,1546 940,1316 940,1543 940,1082 940,1490 940,1035 940,1238 940,1477 940,1034 940,980 940,1547 940,1476 940,1531 940,1390 940,1366 940,1465 940,1024 940,1474 940,1385 940,1123 940,1209 940,1145 940,1373 940,1544 940,1542 941,1011 941,1169 941,1374 941,1108 941,1527 941,1085 941,1130 941,1320 941,1141 941,1505 941,1114 941,1043 941,1481 941,1237 941,1499 941,1102 941,1056 941,975 941,1366 941,1243 941,1206 941,1251 941,1479 941,1317 941,1305 941,1203 941,1337 941,1414 941,1313 941,1294 941,1246 941,1499 941,970 941,1341 941,1514 941,1487 941,1498 942,1202 942,1224 942,1109 942,1498 942,1421 942,1467 942,1257 942,1323 942,1372 942,1529 942,1454 942,1320 942,1557 942,1353 942,1023 942,1413 942,1069 942,1263 942,1356 942,1504 942,1545 942,1265 942,1541 942,974 942,1149 942,985 942,1113 942,1198 942,1231 942,1368 942,1411 943,1431 943,1349 943,1171 943,1123 943,1511 943,1407 943,1271 943,1328 943,1227 943,1412 943,1568 943,1435 943,1420 943,1583 943,1424 943,1058 943,1093 943,1113 943,1475 943,1488 943,1519 943,1452 943,1411 943,1012 943,1568 943,1139 943,1538 943,1066 943,1561 943,1426 943,1339 943,1597 943,1463 943,1285 943,1550 943,1050 943,1306 943,1428 943,969 943,1166 944,1430 944,1252 944,1288 944,1133 944,1570 944,1018 944,1263 944,1555 944,1496 944,1417 944,1436 944,1256 944,1428 944,1283 944,1092 944,1254 944,1436 944,1428 944,1268 944,1545 944,1315 944,1556 944,1474 944,1537 944,1318 944,1216 944,1046 944,1484 944,1328 944,1171 944,1413 944,1215 944,1339 944,1355 944,1041 944,1210 944,1399 944,1448 944,1332 944,1444 944,1082 944,1390 944,1342 944,1495 945,1523 945,1013 945,1463 945,1263 945,1386 945,1052 945,1420 945,988 945,1459 945,1481 945,998 945,1422 945,1174 945,1295 945,1266 945,1270 945,1269 945,1094 945,1280 945,1256 945,1280 945,1540 945,1137 945,1382 945,1016 945,1543 945,1210 945,1144 945,1116 946,1226 946,1455 946,1436 946,1023 946,1541 946,1565 946,1077 946,1416 946,1215 946,1284 946,1290 946,1560 946,1042 946,1521 946,1517 946,1310 946,1481 946,1518 946,996 946,1392 946,1443 946,1532 946,1498 946,1391 946,1520 946,1152 946,1345 946,1501 946,1570 946,1331 946,1399 946,1409 946,1428 947,1470 947,1552 947,1310 947,1259 947,1267 947,1549 947,1241 947,1523 947,1300 947,1541 947,1538 947,1016 947,1466 947,1482 947,1532 947,1179 947,1502 947,1257 947,1432 947,1548 947,1510 947,1369 947,1557 947,1289 948,1062 948,1023 948,1454 948,1268 948,1557 948,1557 948,1359 948,1416 948,1190 948,1528 948,1460 948,1031 948,1523 948,1105 948,1497 948,1083 948,1282 948,1350 948,1184 948,990 948,1208 948,1468 948,1192 948,1559 948,1437 948,1215 948,1399 948,1320 948,1220 948,1423 948,1148 948,1040 948,1161 948,1340 948,1574 948,1151 949,1515 949,1486 949,993 949,1375 949,1200 949,1483 949,1239 949,1431 949,1264 949,1536 949,1501 949,1532 949,1509 949,1097 949,1508 949,1277 949,1304 949,1464 949,980 949,1549 949,1495 949,1484 949,1472 949,1345 949,1229 949,1017 949,1102 949,1120 949,1079 949,1140 949,1157 950,1286 950,1493 950,1027 950,1232 950,1194 950,1006 950,1497 950,1525 950,1495 950,1044 950,1550 950,1477 950,1081 950,1415 950,1407 950,1551 950,1536 950,1310 950,1213 950,1122 950,1337 950,1478 950,1097 950,1210 950,1342 950,1095 950,1326 950,1100 950,1405 950,1364 950,1326 950,1303 951,1153 951,1077 951,1494 951,1434 951,1398 951,1346 951,1533 951,1120 951,1541 951,1180 951,1025 951,1119 951,1407 951,1430 951,1163 951,1464 951,1330 951,1017 951,986 951,1130 951,1291 951,1074 951,1411 951,1374 951,1239 951,1447 951,1136 951,1084 951,1495 951,1538 951,1163 951,1349 952,1164 952,1058 952,1483 952,1262 952,1489 952,1572 952,1171 952,1338 952,1280 952,1438 952,1440 952,1404 952,1354 952,1203 952,1182 952,1241 952,1509 952,1270 952,1368 952,1556 952,1419 952,1388 952,1147 952,1513 952,1510 952,1227 952,1111 952,1521 952,1308 952,1328 952,1560 952,1367 952,1448 952,1246 952,1301 952,1345 952,1466 952,1416 952,1526 952,1306 952,1520 952,1329 952,1442 952,1418 952,1378 952,1427 952,1044 952,1568 952,1560 952,1497 952,1374 952,1458 952,1535 952,1442 953,1397 953,1496 953,1510 953,1484 953,1180 953,1441 953,1051 953,1504 953,1273 953,1304 953,1022 953,1164 953,1519 953,1190 953,1099 953,1527 953,1296 953,1551 953,1506 953,1251 953,1209 953,1367 953,1555 953,1221 953,1547 953,1250 953,1113 953,1315 953,1368 953,1242 953,1022 953,1235 953,1262 953,1312 953,1300 953,998 953,1480 953,1302 953,1384 953,1118 953,1552 953,1499 953,1463 953,1279 953,1417 953,1104 953,1528 953,1318 954,1257 954,1073 954,1481 954,1469 954,1382 954,1073 954,1339 954,1528 954,1414 954,1392 954,968 954,1183 954,1545 954,1491 954,1562 954,1443 954,1029 954,1232 954,1118 954,1080 954,1401 954,1311 954,1453 954,1459 954,1430 954,1444 954,1225 954,1081 954,1145 954,1391 954,1536 954,1392 954,1314 955,1066 955,1512 955,1301 955,1290 955,1525 955,1524 955,1029 955,1502 955,1078 955,1335 955,1389 955,1485 955,1515 955,1458 955,1553 955,1187 955,1016 955,1426 955,1418 955,1334 955,997 955,1572 955,1556 955,1113 955,1521 955,1022 955,1352 955,1506 955,999 955,1437 955,997 955,1531 955,1433 955,1143 955,968 955,1382 955,1421 956,1550 956,1524 956,1257 956,1501 956,1252 956,1363 956,1519 956,1174 956,1414 956,1409 956,1052 956,1433 956,1075 956,1480 956,1103 956,1313 956,1440 956,1473 956,1331 956,1282 956,1261 956,1095 956,1199 956,1393 956,1423 956,1528 956,1602 956,1166 956,1549 956,1304 956,1406 956,1253 956,1203 956,1510 956,1415 956,1297 956,1284 956,1051 956,1138 956,1442 957,1062 957,1488 957,1429 957,1138 957,1102 957,1033 957,1519 957,1468 957,1405 957,1544 957,1372 957,1346 957,1546 957,1188 957,1492 957,1096 957,1362 957,1249 957,1233 957,1360 957,999 957,975 957,1455 957,1185 957,1349 957,1308 957,1374 957,1538 957,1493 957,1480 957,1230 957,1058 957,1008 957,1408 957,1459 957,1268 957,1386 957,1146 957,1449 957,1236 957,1502 957,1366 957,1299 957,1271 958,1417 958,1215 958,1046 958,1234 958,1007 958,1317 958,1491 958,1476 958,1004 958,1121 958,1544 958,1033 958,1355 958,1454 958,1372 958,1463 958,1508 958,1256 958,1396 958,1430 958,1566 958,1288 958,1334 958,1182 958,1305 958,1315 958,1292 958,1468 958,1011 958,987 958,1311 958,1330 958,1344 958,1185 959,1514 959,1395 959,1538 959,1575 959,1454 959,1433 959,1319 959,1163 959,1545 959,1424 959,993 959,1209 959,1537 959,1060 959,1562 959,1380 959,1373 959,1396 959,1327 959,1323 959,1195 959,1378 959,1053 959,1058 959,1236 959,1311 959,1557 959,1395 959,1540 959,1580 959,1276 959,1578 959,1159 959,1017 959,1101 959,1495 959,1414 959,1183 959,1213 959,1069 960,1466 960,1565 960,1313 960,1409 960,1361 960,1191 960,1087 960,1479 960,1512 960,1435 960,1065 960,1342 960,1426 960,1553 960,1434 960,1425 960,1436 960,1484 960,1444 960,1123 960,1149 960,1454 960,1422 960,1404 960,1462 960,1424 960,1558 960,1336 960,1188 960,1278 960,1545 960,1243 960,1332 960,1135 960,1488 960,1522 961,1062 961,1225 961,1541 961,1154 961,1242 961,1412 961,1128 961,1302 961,1331 961,1367 961,1490 961,1602 961,1369 961,1476 961,1581 961,1386 961,1175 961,1036 961,1529 961,1029 961,1571 961,1470 961,1233 961,1547 961,1480 961,1099 961,1239 961,987 961,1216 961,1451 961,1452 961,1237 961,1306 961,1485 961,1462 961,1352 961,1515 961,1177 961,1183 961,1538 961,1256 961,1333 961,1503 961,1185 961,1336 961,1221 961,1451 961,1398 962,1464 962,1428 962,1368 962,1568 962,1337 962,1289 962,1095 962,1560 962,1309 962,1504 962,1348 962,1377 962,1477 962,1392 962,1536 962,1360 962,1183 962,1458 962,1418 962,1588 962,1365 962,1450 962,1499 962,1317 962,1542 962,1280 962,1418 962,1406 962,1508 962,1577 962,1527 963,1135 963,1271 963,1379 963,1149 963,1294 963,1529 963,1285 963,1539 963,1501 963,1283 963,986 963,1281 963,1521 963,1480 963,1368 963,1260 963,1457 963,1137 963,1128 963,1321 963,1339 963,1560 963,1389 963,1473 963,1246 963,1159 963,1097 963,1462 963,1389 963,1437 963,1048 963,1252 963,1280 963,1078 963,1386 963,1404 963,1446 963,1570 963,1444 963,1511 963,1369 963,1513 963,1396 963,1461 963,1497 963,1257 963,1131 963,1245 963,1369 963,1270 963,1073 963,1521 963,1242 963,1223 964,1332 964,1583 964,1577 964,1542 964,1016 964,1505 964,1023 964,1485 964,1385 964,972 964,1274 964,1416 964,1437 964,1058 964,1518 964,993 964,1067 964,1188 964,1042 964,1502 964,1294 964,1380 964,1537 964,1294 964,1491 964,1522 964,1058 964,1404 964,1214 964,1294 964,1576 964,1449 964,1511 964,1572 964,1500 964,1426 964,1409 964,1482 964,1137 964,1218 964,1068 965,1549 965,1011 965,1010 965,1195 965,1293 965,1293 965,1423 965,1397 965,1071 965,1336 965,973 965,1371 965,1274 965,1181 965,1518 965,1503 965,1461 965,1441 965,1352 965,1430 965,1466 965,1190 965,1469 965,1590 965,1506 965,1311 965,1368 965,1330 965,1527 965,1382 965,1550 965,1581 965,1220 965,1068 965,1139 965,1371 965,1517 965,1343 965,1382 965,1493 965,1508 965,1496 965,1469 965,1360 965,1554 965,1570 965,978 965,1462 965,1087 965,1114 965,1311 965,1505 965,1190 965,1121 965,1127 965,1062 966,1312 966,1022 966,1499 966,1100 966,1073 966,1334 966,1494 966,1005 966,1007 966,1469 966,1480 966,1552 966,1478 966,1441 966,1462 966,1284 966,1532 966,1442 966,1518 966,1344 966,1577 966,1345 966,1571 966,1238 966,1522 966,1547 966,1223 966,1479 966,1128 966,1245 967,1238 967,1348 967,1251 967,1460 967,1422 967,1269 967,1445 967,1379 967,1450 967,1165 967,1452 967,1155 967,1243 967,973 967,1150 967,1276 967,1052 967,1541 967,1550 967,1530 967,1406 967,1239 967,1456 967,1046 967,1538 967,1291 967,1404 967,1557 967,1409 967,1267 967,1192 967,1126 967,1479 967,988 967,1473 967,970 967,1370 967,1450 967,1414 967,1103 967,1557 967,1505 967,1192 968,1553 968,985 968,1311 968,1262 968,1526 968,1536 968,1572 968,1447 968,1565 968,1444 968,1017 968,1434 968,1320 968,1538 968,1300 968,1138 968,1248 968,1359 968,1224 968,1102 968,1438 968,1239 968,1384 968,1385 968,1248 968,1455 968,1442 968,1502 968,1444 968,1459 968,1541 968,998 968,1287 968,1232 968,1524 968,1009 968,1560 968,1315 969,1552 969,1316 969,1494 969,1484 969,1496 969,1561 969,1442 969,1034 969,1016 969,1247 969,1150 969,1091 969,1188 969,1351 969,1332 969,1125 969,1556 969,1405 969,1600 969,1089 969,1257 969,1581 969,1573 969,1165 969,1427 969,1418 969,1407 969,1435 969,1506 969,1191 969,1514 969,983 969,1398 969,1498 969,999 969,979 969,1560 969,1402 969,1556 969,1553 969,1253 969,1461 969,1415 969,1353 969,1157 969,1330 969,1336 969,1543 970,1229 970,968 970,1002 970,1027 970,1365 970,1017 970,1564 970,983 970,1558 970,1338 970,1224 970,1343 970,1374 970,1404 970,1280 970,1201 970,1479 970,1261 970,1413 970,1544 970,1465 970,1509 970,1193 970,1551 970,1077 970,1549 970,1218 970,999 970,1457 970,1005 970,1487 970,1276 970,1175 970,1530 970,1196 970,1030 970,1460 970,1515 970,1078 970,1281 970,1121 970,1102 970,1322 970,1361 971,1373 971,1517 971,1188 971,1103 971,1496 971,1522 971,1381 971,1513 971,1546 971,1564 971,1026 971,1050 971,1255 971,1391 971,1441 971,1193 971,1419 971,1381 971,1351 971,1537 971,1120 971,1071 971,1208 971,1583 971,1070 971,1156 971,1527 971,1494 971,1253 971,1527 971,985 971,1579 971,1275 971,1262 971,1372 971,1501 971,1518 971,1119 971,1399 971,1314 971,1561 971,1478 972,1467 972,1000 972,1092 972,1234 972,1243 972,987 972,1355 972,1266 972,1253 972,1268 972,1229 972,1230 972,1506 972,1478 972,1072 972,1513 972,1486 972,1382 972,981 972,1329 972,1262 972,1442 972,1482 972,1458 972,1361 972,1408 972,1368 972,1542 972,1223 972,1542 972,1539 972,1556 972,1408 972,1167 972,1133 972,1345 972,1497 972,1371 972,1525 972,971 972,1557 972,1563 973,974 973,1195 973,1363 973,977 973,1259 973,1493 973,1548 973,1438 973,1563 973,1419 973,1258 973,1000 973,1434 973,1390 973,1468 973,1510 973,1450 973,1497 973,1581 973,1466 973,1608 973,1568 973,1197 973,1222 973,1000 973,1476 973,1248 973,1050 973,1094 973,1349 973,1115 973,1515 973,1201 973,999 973,1507 973,1459 973,1480 973,1464 973,1119 973,1340 974,1399 974,1310 974,1078 974,1053 974,1429 974,1441 974,1329 974,1122 974,1214 974,1392 974,1197 974,1242 974,1476 974,1025 974,1267 974,1184 974,1219 974,1395 974,973 974,1565 974,1158 974,1327 974,1004 974,1565 974,1378 974,1452 974,1540 974,1315 974,1165 974,1055 974,1237 974,1385 974,1247 974,1046 974,1409 974,1369 974,1549 974,1128 974,1033 974,1036 974,1541 974,1289 974,1453 974,1069 974,1544 974,1045 974,1555 974,1037 974,1008 974,1521 974,1195 975,1462 975,1184 975,1528 975,999 975,1091 975,1561 975,1330 975,1371 975,1504 975,1477 975,1269 975,1157 975,1419 975,1082 975,1383 975,1547 975,1239 975,1268 975,994 975,1222 975,1094 975,1260 975,1087 975,1071 975,1432 975,1364 975,1575 975,1597 975,1047 975,1558 975,1146 975,1340 975,1408 975,1387 975,1532 975,1495 975,1191 975,1201 975,1335 975,1084 975,1478 975,1039 975,1591 976,1356 976,1020 976,1138 976,1229 976,1495 976,1501 976,1307 976,1573 976,1466 976,1274 976,1458 976,1498 976,1056 976,1480 976,1589 976,1381 976,1316 976,1037 976,1287 976,1359 976,1192 976,1329 976,1536 976,1197 976,1234 976,1338 976,1325 976,1259 976,1396 976,1347 976,1376 976,1572 976,1301 976,1334 976,1093 976,1565 976,1128 976,1195 976,1370 976,1029 976,1461 976,1506 976,1383 976,1274 976,1331 976,1582 976,1274 976,1388 976,1378 976,1505 976,1245 976,1379 976,1487 977,1450 977,1111 977,1164 977,1413 977,1525 977,1392 977,1458 977,1575 977,1016 977,1440 977,1303 977,1151 977,1321 977,1395 977,1111 977,1298 977,1265 977,1473 977,1152 977,1119 977,1224 977,1441 977,1274 977,1303 977,1512 977,1480 977,1475 977,1419 977,1484 977,1191 977,1503 977,1308 977,1124 977,1050 977,1312 977,1539 977,1071 978,1124 978,1343 978,1486 978,1103 978,1094 978,1370 978,1496 978,1427 978,1515 978,1313 978,1007 978,1480 978,1026 978,1228 978,1344 978,968 978,1261 978,1251 978,1295 978,1250 978,1227 978,1080 978,1289 978,1374 978,1459 978,1454 978,1533 978,981 978,1538 978,1205 978,1418 978,1049 978,1151 978,1501 978,1372 978,1459 978,1072 978,1234 978,1563 978,1400 978,1380 979,1014 979,1228 979,1459 979,1169 979,996 979,995 979,1215 979,1460 979,1132 979,1368 979,1373 979,1448 979,1319 979,1482 979,980 979,1453 979,1481 979,1214 979,1521 979,1289 979,1007 979,1417 979,1471 979,1308 979,1399 979,1391 979,976 979,1587 979,1117 979,1320 979,1565 979,1526 979,1203 979,1161 979,1219 979,1309 979,1327 979,1315 979,1260 979,1150 979,1542 979,1094 979,1526 979,1169 979,1389 979,1135 979,1389 979,1037 979,1209 979,1217 979,1311 980,1498 980,1076 980,1280 980,1408 980,1058 980,1114 980,1013 980,1270 980,1160 980,1309 980,1120 980,1442 980,1547 980,1368 980,1230 980,1138 980,1341 980,1002 980,1511 980,1382 980,1597 980,1360 980,1125 980,1271 980,1505 980,1001 980,1147 980,1549 980,1119 980,1581 980,1132 980,1509 980,1315 980,1457 980,1064 980,1359 980,1532 980,1257 980,1526 980,1046 980,1423 980,1398 980,1405 980,1430 980,1159 980,1144 980,1430 981,1273 981,1111 981,1151 981,1331 981,1334 981,971 981,1413 981,1512 981,1510 981,1396 981,1360 981,1496 981,1524 981,1455 981,1578 981,1252 981,1129 981,1158 981,988 981,1252 981,1239 981,1441 981,1028 981,1481 981,1099 981,1072 981,1548 981,1254 981,1207 981,1310 981,1414 981,1407 981,1529 981,1268 981,1186 981,1067 981,1297 981,1246 981,1350 981,1528 981,1356 981,1447 981,1139 981,1516 981,1361 981,1360 981,1191 981,1328 981,1068 981,1504 981,1567 981,1304 981,1563 981,1446 982,1414 982,1230 982,1341 982,1482 982,1489 982,1313 982,1045 982,1508 982,1116 982,1019 982,1264 982,1511 982,1055 982,989 982,1554 982,1046 982,982 982,1245 982,1283 982,1221 982,1349 982,1272 982,1356 982,1572 982,1351 982,1336 982,1222 982,1409 982,1311 982,1015 982,1576 982,1281 982,1504 982,1467 982,1444 982,1091 982,1521 982,1350 982,1356 983,1153 983,1434 983,1462 983,1289 983,1456 983,1324 983,1371 983,1090 983,1504 983,1575 983,1346 983,1455 983,1476 983,1514 983,1442 983,1448 983,1255 983,1290 983,1523 983,1069 983,1449 983,1082 983,1455 983,1458 983,1251 983,1172 983,1416 983,1420 983,1263 983,1218 983,1296 983,1581 983,1068 983,1239 983,1243 983,1335 983,1543 983,1402 983,1436 983,1012 983,1267 983,1295 983,1404 983,1310 983,1140 983,1351 983,1235 983,1278 983,1215 983,1470 983,1432 983,1160 983,1176 983,1385 984,1229 984,1510 984,1459 984,1545 984,1395 984,1270 984,1095 984,1411 984,1455 984,970 984,1538 984,1274 984,990 984,1255 984,1519 984,1138 984,1261 984,1451 984,1437 984,1298 984,1163 984,1270 984,1546 984,1530 984,1393 984,1279 984,1201 984,971 984,1272 984,1389 984,1509 984,1028 984,1081 984,1434 984,1318 984,1344 984,1212 984,1395 984,1220 984,1567 984,1029 984,1585 984,1479 984,1540 984,1151 984,1561 984,1357 984,1460 984,1412 984,1086 984,1369 984,1279 984,1241 984,1493 984,1414 984,1340 984,1416 984,1546 984,1083 985,1350 985,1110 985,1372 985,1532 985,1316 985,1468 985,1462 985,1318 985,1024 985,1552 985,1084 985,1386 985,1505 985,1366 985,1186 985,1343 985,1287 985,1064 985,1581 985,1575 985,1251 985,1460 985,1395 985,1546 985,1511 985,1407 985,1565 985,1154 985,1302 985,1007 985,1348 985,1399 985,1543 985,1437 985,1532 985,1560 985,1456 985,1365 985,1381 985,989 985,1407 985,1579 985,1478 985,1521 985,1016 985,1586 985,1383 985,1152 985,1536 985,1550 985,1419 985,1544 985,1474 985,1160 986,1074 986,992 986,1424 986,1159 986,1554 986,1391 986,1419 986,1357 986,1394 986,1518 986,1503 986,1309 986,1245 986,1561 986,1548 986,1522 986,1292 986,1499 986,1367 986,1005 986,1535 986,1131 986,999 986,1580 986,1456 986,1417 986,1490 986,1301 986,1104 986,1496 986,989 986,1460 986,1438 986,1239 986,1502 986,1526 986,1593 986,1333 986,1059 986,1109 986,1237 986,1552 986,1405 986,1361 986,1441 986,1147 986,1523 986,1566 986,1470 987,1344 987,1553 987,1175 987,1381 987,1280 987,1365 987,1110 987,1084 987,1470 987,1000 987,1192 987,1577 987,1576 987,1388 987,1472 987,1166 987,1494 987,1373 987,1304 987,1231 987,1529 987,1098 987,1333 987,1530 987,1475 987,1379 987,1120 987,1309 987,1478 987,1213 987,1015 987,989 987,1368 987,1542 987,1515 987,1190 987,1359 987,1325 987,1186 987,1390 987,1562 987,1379 987,1269 987,1238 987,1279 987,1564 987,1186 987,1132 987,1073 987,1450 987,1334 987,1066 987,1062 987,1431 987,1094 987,1229 987,1221 987,1126 987,1415 987,1293 987,1369 987,1438 987,1493 987,1375 988,1344 988,970 988,1444 988,1487 988,1254 988,1256 988,1302 988,1070 988,1232 988,1516 988,1465 988,1559 988,1490 988,1026 988,1565 988,1333 988,1594 988,1398 988,1352 988,1367 988,1392 988,1412 988,1318 988,1524 988,1538 988,1094 988,1516 988,1092 988,1410 988,1461 988,1317 988,1401 988,1458 988,1350 988,1030 988,1569 988,1520 988,1345 988,1315 988,1300 988,1398 988,1259 988,1136 988,1411 988,1395 988,1469 988,1522 988,1110 988,1309 988,1534 989,1213 989,1281 989,1011 989,1543 989,1549 989,1183 989,1412 989,1383 989,1438 989,1478 989,1546 989,1555 989,1399 989,1415 989,1506 989,1066 989,1500 989,1510 989,1589 989,1071 989,993 989,1027 989,1246 989,1431 989,1448 989,1227 989,1538 989,1515 989,1001 989,1511 989,1433 989,1570 989,1570 989,1140 989,1414 989,1550 989,999 989,1519 989,1292 989,1526 989,1064 989,1541 989,1557 989,1016 989,1343 989,1523 989,1295 989,1326 989,1244 989,1421 989,1583 989,1385 989,1530 989,1438 989,1417 989,1296 990,1269 990,1314 990,1462 990,1230 990,1496 990,1427 990,1028 990,1046 990,1588 990,1103 990,1022 990,1465 990,1513 990,1416 990,1348 990,1520 990,1547 990,1375 990,1510 990,1418 990,1212 990,1153 990,1269 990,1349 990,1586 990,1493 990,1510 990,1520 990,991 990,1331 990,1262 990,1519 990,1305 990,1594 990,1093 990,1359 990,1354 990,1367 990,1230 990,1087 990,999 990,1026 990,1500 990,1498 990,1001 990,1562 990,1459 990,1532 990,1037 990,1515 990,1514 990,1477 990,1504 990,1572 990,1134 990,1044 990,1241 990,1590 990,1417 990,1545 990,1305 990,1541 990,1463 990,1582 990,1478 991,1536 991,1218 991,1284 991,1229 991,1420 991,1435 991,1553 991,1304 991,1483 991,1534 991,1332 991,1517 991,1460 991,1098 991,1532 991,1503 991,1123 991,1310 991,1569 991,1542 991,1254 991,1442 991,1324 991,1130 991,1231 991,1570 991,1558 991,1252 991,1398 991,1004 991,1550 991,1201 991,1336 991,1496 991,1122 991,1023 991,1051 991,1188 991,1491 991,1343 991,1272 991,1553 991,1107 991,1490 991,1401 991,1109 991,1454 991,1329 991,1568 991,1365 991,983 991,1241 991,1134 991,1043 991,1202 991,1495 991,1270 991,1404 991,1567 991,1538 991,1072 991,1392 991,1103 991,1385 992,1353 992,1014 992,1299 992,1158 992,1361 992,1491 992,1047 992,1277 992,1035 992,1169 992,1237 992,1492 992,1543 992,1283 992,1458 992,1576 992,1559 992,1328 992,1167 992,1433 992,1528 992,1041 992,1518 992,1414 992,1187 992,1018 992,1533 992,1104 992,1548 992,1578 992,1023 992,1380 992,1194 992,1480 992,1118 992,1156 992,1123 992,1401 992,1042 992,1153 992,1315 992,1122 992,1182 992,1539 992,1511 992,1496 992,1114 992,1537 992,1578 992,1320 992,1568 992,997 992,1422 992,1031 992,1339 992,1522 992,1377 992,1227 992,1013 992,1501 992,1209 992,1412 992,1255 992,1500 992,1251 992,1093 992,1372 992,1493 992,1139 993,1006 993,1259 993,1487 993,1511 993,1049 993,1466 993,1238 993,1459 993,1447 993,1418 993,1532 993,1349 993,1430 993,1483 993,1385 993,1150 993,1360 993,1528 993,1319 993,1104 993,1538 993,1611 993,1527 993,1190 993,1236 993,1539 993,1531 993,1342 993,1468 993,1399 993,1587 993,1315 993,1395 993,1326 993,1539 993,1446 993,979 993,1550 993,1458 993,1077 993,1415 993,1270 993,1400 993,1347 993,1395 993,1449 993,1052 993,1541 993,1404 993,1165 993,1321 993,1393 994,1283 994,1354 994,1556 994,1490 994,1557 994,1493 994,1387 994,1390 994,1425 994,1566 994,1481 994,1237 994,1521 994,1015 994,1345 994,1446 994,1338 994,1432 994,1335 994,1563 994,1488 994,1041 994,1526 994,1034 994,1382 994,1426 994,1062 994,1332 994,1052 994,1528 994,1556 994,970 994,1112 994,1597 994,1560 994,1163 994,1188 994,1477 994,1578 994,1063 994,1559 994,1459 994,1492 994,1492 994,1509 994,1077 994,1504 994,1450 994,1081 994,1235 994,1034 994,1285 994,973 994,1268 994,1416 994,1351 994,1520 994,1310 994,1588 994,1550 994,1137 994,1571 995,1501 995,973 995,1559 995,1192 995,1057 995,1273 995,1506 995,1534 995,1286 995,1461 995,1277 995,1543 995,1307 995,1444 995,1495 995,969 995,1103 995,1387 995,1404 995,1413 995,1307 995,1514 995,1435 995,1612 995,1165 995,1418 995,1015 995,1137 995,1540 995,1585 995,1076 995,1390 995,1180 995,1549 995,1144 995,1185 995,1072 995,1147 995,1571 995,1254 995,1315 995,1415 995,1471 995,1528 995,1192 995,1298 995,1293 995,1580 995,1445 995,1371 995,1584 995,1349 995,1494 995,1095 995,1541 995,1460 995,1158 995,1383 995,1213 996,1024 996,1370 996,1449 996,1566 996,1396 996,1437 996,1422 996,1396 996,1497 996,1545 996,1454 996,1448 996,1469 996,1015 996,1278 996,989 996,1283 996,1252 996,1411 996,1590 996,1529 996,995 996,1341 996,1045 996,1413 996,1474 996,1174 996,1005 996,1469 996,1368 996,1336 996,1321 996,1451 996,1153 996,1525 996,1397 996,1521 996,1535 996,1238 996,1075 996,1494 996,1310 996,1087 996,1216 996,1229 996,1111 996,1166 996,1219 996,1459 996,1337 996,1519 996,1454 996,1573 996,1199 996,1402 996,1546 996,1061 996,1523 996,1425 996,1502 997,1355 997,1314 997,1017 997,1079 997,1379 997,1138 997,1027 997,1456 997,1219 997,984 997,1048 997,1064 997,1576 997,1443 997,1084 997,1573 997,1029 997,1492 997,1188 997,1256 997,1296 997,1126 997,1517 997,1088 997,1064 997,1118 997,1129 997,1418 997,1332 997,987 997,1487 997,1457 997,1249 997,1522 997,1103 997,1416 997,1268 997,1562 997,1494 997,1227 997,971 997,1483 997,1031 997,1318 997,1334 997,1349 997,1354 997,1306 997,1388 997,1526 997,1169 997,1092 997,1541 997,1073 997,1346 997,1479 997,1551 997,972 997,1329 997,1158 997,1484 997,1446 997,1538 997,1109 997,1001 997,1366 997,1584 997,1443 997,1100 997,1002 997,1583 997,1322 997,1026 997,984 997,1224 998,1509 998,1493 998,1070 998,1206 998,1279 998,1378 998,1075 998,1578 998,1348 998,1118 998,1169 998,1074 998,1443 998,1507 998,1212 998,1038 998,1187 998,1400 998,1253 998,1306 998,1552 998,1395 998,1539 998,1510 998,1467 998,1373 998,1404 998,1454 998,988 998,1427 998,1515 998,1190 998,1179 998,1508 998,1470 998,1026 998,1564 998,1470 998,1483 998,1581 998,1510 998,1363 998,1343 998,1527 998,1330 998,1554 998,1520 998,1347 998,1376 998,1470 998,1396 998,1032 998,1531 998,1114 998,1529 998,1192 998,1307 998,1322 998,1262 998,1297 998,1089 998,1040 998,1475 998,1475 998,1125 998,1572 998,1121 999,1532 999,968 999,1493 999,1419 999,1431 999,1458 999,1329 999,1517 999,1360 999,1216 999,1458 999,1175 999,1442 999,1230 999,1050 999,987 999,1500 999,1029 999,1379 999,1118 999,1530 999,1550 999,1069 999,1480 999,1524 999,1287 999,1175 999,985 999,1370 999,1502 999,1541 999,1402 999,999 999,1058 999,973 999,1277 999,1233 999,1568 999,1392 999,1081 999,1423 999,1511 999,1551 999,1078 999,1436 999,1066 999,1249 999,1320 999,1417 999,1555 999,1048 999,1496 999,1570 999,1232 999,1530 999,1364 999,1390 999,1044 999,1471 999,1485 999,1175 999,1541 999,1535 999,1418 999,1453 999,1522 999,1423 999,1000 999,988 999,1133 999,1380 999,1356 999,1199 999,1021 999,1185 999,1418 1000,1428 1000,1036 1000,1095 1000,1465 1000,1492 1000,979 1000,1248 1000,980 1000,1394 1000,1159 1000,1401 1000,1215 1000,1231 1000,987 1000,981 1000,1431 1000,1109 1000,1492 1000,1375 1000,1056 1000,1399 1000,1489 1000,1374 1000,1591 1000,1493 1000,1355 1000,1400 1000,1318 1000,1404 1000,1594 1000,994 1000,1326 1000,1107 1000,1387 1000,1184 1000,1233 1000,1137 1000,1508 1000,1553 1000,1443 1000,996 1000,1215 1000,1330 1000,1093 1000,1016 1000,1198 1000,1459 1000,1137 1000,1516 1000,1031 1000,1250 1000,1221 1000,1250 1000,1529 1000,973 1000,1530 1000,1519 1000,1516 1000,1316 1000,1345 1001,1505 1001,1517 1001,1575 1001,1403 1001,1381 1001,1119 1001,1062 1001,1438 1001,1013 1001,1289 1001,1406 1001,1598 1001,1166 1001,1531 1001,1536 1001,1118 1001,1463 1001,1482 1001,1151 1001,1174 1001,1537 1001,1525 1001,1570 1001,1568 1001,1160 1001,1568 1001,1202 1001,1533 1001,1021 1001,1375 1001,1023 1001,1372 1001,1246 1001,986 1001,1277 1001,1293 1001,1093 1001,967 1001,1450 1001,1326 1001,1498 1001,1160 1001,1158 1001,1168 1001,1411 1001,1507 1001,1001 1001,1581 1001,1221 1001,1193 1001,1346 1001,1444 1001,1288 1001,1160 1001,1400 1001,1012 1001,1193 1001,1017 1001,1023 1001,1381 1001,1540 1001,1120 1001,1044 1001,1477 1001,1537 1002,1051 1002,1516 1002,1468 1002,1225 1002,1520 1002,1561 1002,1546 1002,1042 1002,1101 1002,1124 1002,1433 1002,1501 1002,1566 1002,1488 1002,1372 1002,1152 1002,1337 1002,1120 1002,1432 1002,1531 1002,1372 1002,971 1002,1435 1002,1257 1002,1516 1002,1550 1002,1423 1002,1432 1002,1336 1002,1084 1002,1601 1002,1582 1002,1603 1002,1404 1002,1518 1002,1490 1002,1494 1002,1596 1002,1352 1002,1218 1002,1532 1002,1244 1002,1087 1002,1245 1002,1176 1002,1112 1002,1419 1002,1473 1002,1244 1002,1608 1002,1276 1002,1513 1002,1328 1002,1053 1002,1458 1002,1167 1002,1305 1002,1242 1002,1019 1002,1594 1002,1601 1002,1216 1002,1268 1002,1384 1002,1405 1002,1565 1002,1324 1002,1574 1002,1119 1002,1533 1002,1293 1003,1055 1003,1441 1003,1352 1003,1263 1003,1330 1003,1486 1003,1427 1003,1150 1003,1237 1003,1167 1003,1161 1003,1568 1003,1420 1003,1532 1003,1066 1003,1545 1003,1437 1003,1117 1003,1026 1003,1099 1003,1108 1003,1317 1003,1546 1003,1070 1003,1452 1003,1364 1003,1255 1003,1408 1003,1559 1003,1350 1003,1491 1003,1191 1003,1062 1003,1498 1003,1022 1003,1059 1003,979 1003,1312 1003,1478 1003,1511 1003,1422 1003,1241 1003,1049 1003,1031 1003,1543 1003,1463 1003,1441 1003,1199 1003,1539 1003,1172 1003,1590 1003,1354 1003,1282 1003,1416 1003,1017 1003,1599 1003,1053 1003,1390 1003,1094 1004,1487 1004,1531 1004,1323 1004,1429 1004,1328 1004,1150 1004,1500 1004,1011 1004,1395 1004,1531 1004,1554 1004,1530 1004,1543 1004,1400 1004,1447 1004,1528 1004,1375 1004,1424 1004,1215 1004,1482 1004,1381 1004,1568 1004,1583 1004,1548 1004,1008 1004,1193 1004,1487 1004,1222 1004,1563 1004,1436 1004,1138 1004,1300 1004,1200 1004,1247 1004,1420 1004,1576 1004,1457 1004,1090 1004,1431 1004,1510 1004,1504 1004,1210 1004,1496 1004,1493 1004,1192 1004,1481 1004,1115 1004,1136 1004,1519 1004,1356 1004,999 1004,1427 1004,1513 1004,1342 1004,1586 1004,1344 1004,1169 1004,1174 1005,970 1005,1514 1005,1125 1005,1144 1005,1407 1005,1326 1005,1425 1005,1363 1005,1169 1005,1525 1005,1096 1005,1095 1005,1366 1005,1469 1005,1433 1005,1497 1005,1224 1005,1420 1005,1017 1005,1345 1005,1551 1005,1176 1005,1100 1005,1480 1005,1510 1005,1455 1005,1537 1005,1593 1005,1548 1005,1583 1005,1463 1005,1555 1005,1412 1005,1532 1005,1491 1005,1363 1005,1288 1005,1146 1005,1586 1005,1473 1005,1008 1005,1232 1005,1232 1005,1478 1005,1391 1005,1308 1005,1043 1005,1095 1005,1346 1005,1350 1005,1332 1005,1062 1005,1060 1005,1285 1005,1349 1005,1168 1005,1198 1005,1250 1005,1544 1005,1151 1005,1584 1005,1398 1005,1491 1005,1381 1005,1397 1005,1129 1005,1227 1005,1208 1005,1170 1005,1005 1005,1491 1005,975 1005,1351 1005,972 1005,1325 1006,1117 1006,1280 1006,1439 1006,1273 1006,1567 1006,1478 1006,1218 1006,1419 1006,1222 1006,1441 1006,1547 1006,1431 1006,1547 1006,1274 1006,1522 1006,1375 1006,1397 1006,1267 1006,1448 1006,1174 1006,1354 1006,977 1006,1519 1006,1535 1006,1492 1006,1192 1006,1137 1006,1531 1006,1071 1006,1482 1006,1421 1006,1501 1006,1373 1006,1427 1006,1367 1006,1053 1006,1559 1006,1249 1006,1619 1006,1497 1006,1546 1006,1443 1006,1210 1006,1273 1006,1206 1006,1532 1006,1109 1006,1029 1006,1400 1006,1400 1006,1485 1006,1243 1006,969 1006,1176 1006,1537 1007,1445 1007,1531 1007,1096 1007,1544 1007,1364 1007,1460 1007,1268 1007,1554 1007,1217 1007,1077 1007,1179 1007,1033 1007,1295 1007,1422 1007,1507 1007,1393 1007,1469 1007,1006 1007,1421 1007,1145 1007,1140 1007,1435 1007,1136 1007,1413 1007,1179 1007,1362 1007,1139 1007,1173 1007,1211 1007,1526 1007,1416 1007,1351 1007,1579 1007,1467 1007,1291 1007,1120 1007,1045 1007,1528 1007,1386 1007,1424 1007,1115 1007,1027 1007,1349 1007,1593 1007,1514 1007,1467 1007,1561 1007,1050 1007,974 1007,1060 1007,1238 1007,1414 1007,1539 1007,1509 1007,1478 1007,1559 1007,1471 1007,1438 1007,1567 1008,1390 1008,1438 1008,1358 1008,1429 1008,1232 1008,1466 1008,1470 1008,1514 1008,1575 1008,1426 1008,1434 1008,1481 1008,1351 1008,1547 1008,1393 1008,1290 1008,1454 1008,991 1008,1232 1008,1353 1008,1447 1008,1311 1008,1485 1008,1345 1008,1553 1008,1199 1008,1309 1008,1511 1008,1477 1008,1086 1008,1405 1008,1074 1008,1370 1008,1356 1008,1486 1008,1544 1008,1338 1008,1362 1008,1181 1008,999 1008,1463 1008,1215 1008,1170 1008,1476 1008,1240 1008,1610 1008,1411 1008,1101 1008,1536 1008,1248 1008,1150 1008,1281 1008,1090 1008,1564 1008,1294 1008,1499 1008,1056 1008,1108 1008,971 1008,1413 1008,1593 1008,1508 1008,1558 1008,1369 1008,1315 1008,1005 1008,1017 1008,1574 1008,1276 1009,1489 1009,1029 1009,1131 1009,971 1009,1109 1009,1169 1009,1478 1009,1203 1009,1082 1009,1034 1009,1586 1009,1464 1009,1607 1009,1312 1009,1072 1009,1379 1009,983 1009,1149 1009,1035 1009,1206 1009,1037 1009,1445 1009,1071 1009,1153 1009,1338 1009,1416 1009,1297 1009,1219 1009,1162 1009,1153 1009,978 1009,1214 1009,1285 1009,1544 1009,970 1009,1003 1009,1428 1009,1291 1009,1419 1009,1482 1009,1452 1009,1136 1009,1027 1009,1155 1009,1511 1009,1209 1009,1562 1009,1485 1009,1144 1009,1560 1009,1278 1009,1440 1009,1264 1009,1252 1009,1078 1009,1411 1009,1555 1009,1253 1009,1446 1009,1116 1009,1267 1009,1222 1009,1584 1009,1555 1009,1457 1009,1444 1009,1075 1009,1561 1009,1411 1009,1007 1009,1384 1009,1336 1009,1510 1009,1481 1009,1468 1009,1176 1009,1154 1009,1475 1009,1505 1009,1494 1009,1518 1009,1013 1010,1038 1010,1350 1010,1380 1010,1423 1010,1314 1010,1520 1010,1419 1010,1312 1010,1278 1010,1559 1010,1588 1010,1517 1010,1044 1010,1478 1010,1236 1010,1215 1010,1398 1010,1182 1010,1550 1010,974 1010,1509 1010,1576 1010,1237 1010,1253 1010,1478 1010,1445 1010,981 1010,1247 1010,1514 1010,1297 1010,1237 1010,1147 1010,1369 1010,970 1010,1319 1010,1331 1010,1277 1010,1214 1010,1548 1010,1521 1010,1448 1010,1311 1010,1453 1010,1483 1010,1504 1010,1554 1010,1227 1010,1039 1010,1522 1010,1537 1010,1545 1010,1530 1010,978 1010,1493 1010,1228 1010,1542 1010,1522 1010,1384 1010,1452 1010,1457 1011,1370 1011,1422 1011,1299 1011,1367 1011,1587 1011,1431 1011,1245 1011,1421 1011,998 1011,1564 1011,1187 1011,1586 1011,1178 1011,1237 1011,1486 1011,970 1011,1288 1011,1301 1011,1385 1011,1466 1011,1322 1011,981 1011,1550 1011,1118 1011,1485 1011,1508 1011,1402 1011,1175 1011,1072 1011,1156 1011,1212 1011,1538 1011,1096 1011,1009 1011,1312 1011,1580 1011,1600 1011,1187 1011,1566 1011,1471 1011,1404 1011,1369 1011,1572 1011,1421 1011,1165 1011,1193 1011,1506 1011,1537 1011,1257 1011,1051 1011,1090 1011,1533 1011,1396 1011,1375 1011,1255 1011,1536 1011,1444 1011,1309 1011,978 1011,1517 1011,1076 1011,1368 1011,1271 1011,1432 1011,1428 1011,1514 1011,1431 1011,1162 1011,1395 1011,1514 1011,1558 1011,1528 1011,1516 1011,1480 1011,1501 1011,1433 1011,979 1011,1012 1011,1122 1011,1346 1011,1360 1012,1174 1012,969 1012,1538 1012,1089 1012,1509 1012,1325 1012,1042 1012,1615 1012,1522 1012,1550 1012,1314 1012,1085 1012,1276 1012,1305 1012,1043 1012,992 1012,1497 1012,1226 1012,1038 1012,1409 1012,1295 1012,1227 1012,1442 1012,1197 1012,1439 1012,1529 1012,1330 1012,1594 1012,1292 1012,1209 1012,1315 1012,1243 1012,1399 1012,1226 1012,1380 1012,1473 1012,970 1012,1457 1012,1434 1012,1495 1012,1526 1012,1473 1012,1277 1012,1444 1012,976 1012,1488 1012,1096 1012,1114 1012,1463 1012,1187 1012,1321 1012,1299 1012,1155 1012,1317 1012,1195 1012,1135 1012,1029 1012,1603 1012,1297 1012,1037 1012,1310 1012,1348 1012,1574 1012,1458 1012,1312 1012,1361 1012,1480 1012,1473 1012,1058 1012,1383 1012,1547 1012,1392 1013,1058 1013,1418 1013,1525 1013,1565 1013,1205 1013,1502 1013,1581 1013,1526 1013,994 1013,1048 1013,1435 1013,1174 1013,1441 1013,1550 1013,1334 1013,1445 1013,1237 1013,1204 1013,1453 1013,1257 1013,1075 1013,1439 1013,1521 1013,1443 1013,1116 1013,1511 1013,1005 1013,976 1013,1292 1013,1301 1013,1421 1013,1031 1013,1077 1013,1473 1013,1516 1013,1359 1013,1131 1013,1204 1013,1456 1013,1428 1013,1271 1013,1331 1013,1457 1013,1524 1013,1449 1013,1161 1013,1347 1013,1556 1013,1412 1013,1010 1013,1420 1013,1583 1013,1032 1013,1558 1013,1062 1013,1577 1013,1535 1013,1299 1013,1568 1013,1136 1013,1217 1013,1126 1013,1019 1013,1252 1013,1228 1013,1614 1013,1387 1013,1029 1013,1469 1013,1308 1013,1397 1013,1502 1013,970 1013,1494 1013,1281 1013,1495 1013,1293 1013,1553 1013,1123 1013,1055 1013,991 1013,1579 1013,1195 1014,1457 1014,1277 1014,1506 1014,1340 1014,1023 1014,1373 1014,1136 1014,1571 1014,1480 1014,1195 1014,1179 1014,1080 1014,1527 1014,1571 1014,1577 1014,1039 1014,1485 1014,1167 1014,1391 1014,1181 1014,1050 1014,1434 1014,1468 1014,1209 1014,1426 1014,1460 1014,1136 1014,1140 1014,1426 1014,1376 1014,1527 1014,1395 1014,1578 1014,1359 1014,1504 1014,997 1014,1462 1014,1159 1014,1050 1014,1355 1014,1309 1014,1249 1014,1473 1014,1455 1014,1467 1014,1104 1014,1095 1014,1031 1014,1329 1014,1184 1014,1306 1014,1036 1014,1451 1014,1296 1014,1046 1014,1505 1014,1285 1014,1585 1014,1250 1014,1089 1014,1061 1014,1531 1014,1213 1014,1284 1014,1064 1014,1427 1014,1514 1014,1592 1014,1519 1014,1394 1014,1015 1014,1408 1015,984 1015,1044 1015,1545 1015,1590 1015,1414 1015,1254 1015,1192 1015,1461 1015,1379 1015,1278 1015,1563 1015,1545 1015,1386 1015,1007 1015,1448 1015,1486 1015,1578 1015,1581 1015,1079 1015,1013 1015,1575 1015,1518 1015,1440 1015,1294 1015,1520 1015,1450 1015,1271 1015,1372 1015,1222 1015,981 1015,1560 1015,1478 1015,1499 1015,1381 1015,1140 1015,1376 1015,1381 1015,1197 1015,1496 1015,1478 1015,1413 1015,1267 1015,1177 1015,1505 1015,1304 1015,1266 1015,1108 1015,1502 1015,1525 1015,1238 1015,1154 1015,1426 1015,1230 1015,1413 1015,1348 1015,1470 1015,1353 1015,1402 1015,1519 1015,1572 1015,973 1015,1436 1015,1243 1015,1597 1015,1414 1015,1472 1015,1567 1015,1610 1015,1555 1015,1088 1015,1457 1015,1019 1015,1528 1015,1367 1015,1447 1015,1245 1015,1342 1015,1117 1015,1460 1015,990 1015,1357 1015,1446 1015,1065 1015,1268 1015,1099 1015,1472 1015,1586 1015,1437 1016,1160 1016,1483 1016,996 1016,1037 1016,1544 1016,1271 1016,1479 1016,1546 1016,1003 1016,1180 1016,1378 1016,1113 1016,1514 1016,1144 1016,1544 1016,1480 1016,1547 1016,1490 1016,1496 1016,1603 1016,1587 1016,1007 1016,1223 1016,1436 1016,984 1016,1600 1016,1585 1016,1171 1016,1404 1016,1561 1016,1035 1016,1174 1016,1518 1016,1544 1016,1435 1016,1128 1016,1074 1016,1363 1016,1023 1016,1119 1016,1428 1016,1557 1016,1555 1016,1008 1016,1281 1016,1026 1016,1457 1016,1478 1016,1268 1016,1464 1016,1466 1016,1590 1016,1555 1016,1379 1016,1329 1016,1589 1016,1525 1016,1402 1016,975 1016,1473 1016,1369 1016,1426 1016,1046 1016,1552 1016,1221 1016,1478 1016,1415 1016,1548 1016,1085 1016,1047 1016,1536 1016,1263 1016,1254 1016,1595 1016,1454 1017,1444 1017,1389 1017,1219 1017,1466 1017,1255 1017,1158 1017,1542 1017,1439 1017,1441 1017,1533 1017,1469 1017,1382 1017,1456 1017,1592 1017,1490 1017,1389 1017,1154 1017,1480 1017,1365 1017,991 1017,1572 1017,1124 1017,1474 1017,1420 1017,1496 1017,1314 1017,1533 1017,1550 1017,1528 1017,1028 1017,1509 1017,1316 1017,1047 1017,984 1017,1218 1017,1415 1017,1476 1017,1311 1017,1408 1017,1352 1017,1548 1017,970 1017,1048 1017,1546 1017,1368 1017,1188 1017,1542 1017,1358 1017,1291 1017,1386 1017,1276 1017,1212 1017,1131 1017,1457 1017,1282 1017,1449 1017,1523 1017,1046 1017,1149 1017,1590 1017,1451 1017,1147 1017,974 1018,1195 1018,1362 1018,1378 1018,1090 1018,1073 1018,1564 1018,1328 1018,1309 1018,1514 1018,1196 1018,1494 1018,1558 1018,980 1018,1495 1018,1356 1018,1244 1018,1325 1018,1466 1018,1585 1018,1134 1018,1181 1018,1438 1018,1491 1018,1141 1018,1298 1018,1245 1018,1470 1018,1477 1018,1169 1018,1432 1018,1403 1018,1447 1018,1494 1018,1596 1018,1605 1018,1514 1018,1302 1018,1570 1018,1213 1018,1056 1018,1587 1018,1069 1018,1524 1018,1512 1018,1606 1018,1419 1018,1454 1018,1355 1018,1493 1018,1154 1018,1387 1018,1428 1018,1451 1018,1464 1018,1573 1018,1558 1018,1341 1018,1138 1018,1577 1018,1148 1018,1357 1018,1360 1018,1423 1018,1277 1018,1300 1018,1376 1018,1512 1018,1311 1018,977 1018,1442 1018,1537 1018,1494 1018,974 1018,1226 1018,1198 1018,1458 1019,1144 1019,1542 1019,1492 1019,1440 1019,972 1019,1108 1019,1171 1019,1061 1019,1111 1019,1588 1019,1282 1019,1136 1019,1392 1019,1087 1019,1446 1019,1442 1019,1452 1019,1507 1019,1583" fill="none" stroke="none" marker-start="url(#gd)" marker-mid="url(#gd)" marker-end="url(#gd)"/></g>
<clipPath id="cBR"><rect x="1218.0" y="971.2" width="845.4000000000001" height="792.3"/></clipPath>
<g clip-path="url(#cBR)"><polyline points="1556,970 1560,1075 1564,1123 1566,1103 1572,1045 1581,1165 1581,1127 1582,996 1586,1021 1590,975 1590,1054 1591,1099 1593,1141 1596,1020 1596,1010 1599,1101 1599,1037 1606,973 1608,1177 1608,1015 1610,1042 1613,1016 1615,983 1617,1094 1617,1048 1618,1031 1627,1150 1636,1155 1637,971 1638,1127 1642,1156 1644,1144 1646,1096 1653,1119 1654,997 1654,990 1655,1083 1658,1031 1661,1169 1661,1057 1662,992 1664,1069 1664,1104 1664,978 1664,1114 1665,1138 1665,1073 1667,1038 1667,1110 1669,1054 1670,1018 1671,1126 1671,1126 1673,1045 1674,984 1676,984 1676,976 1677,1032 1678,991 1679,1008 1679,1101 1679,1100 1686,1069 1690,996 1690,1147 1692,1087 1693,1053 1693,1169 1694,1085 1696,1072 1697,1070 1698,1013 1700,1019 1700,1006 1701,980 1701,1158 1703,972 1703,1161 1703,970 1706,1176 1707,995 1709,1057 1710,1031 1710,1003 1711,1030 1712,980 1714,1171 1717,979 1718,1051 1719,1021 1719,1052 1721,996 1721,1003 1723,1085 1725,1102 1726,976 1727,1114 1730,1058 1734,1001 1736,1008 1737,1022 1738,1020 1738,1172 1738,1019 1740,1074 1742,996 1743,977 1743,978 1745,982 1745,996 1745,1080 1746,1039 1747,1119 1747,1100 1749,977 1751,1101 1751,1029 1751,1103 1752,1066 1752,1118 1752,971 1754,976 1754,1118 1755,1014 1755,967 1756,1161 1756,1098 1756,1029 1757,1085 1758,1038 1759,986 1760,1081 1761,973 1761,1061 1761,983 1761,1030 1762,1139 1763,1038 1763,982 1763,1063 1764,1127 1764,1158 1765,1054 1765,1167 1766,1102 1766,979 1767,1145 1767,1131 1769,1129 1770,1029 1770,1134 1771,1017 1771,1014 1771,1092 1771,1005 1772,1002 1772,1177 1772,1060 1772,1062 1774,1071 1774,1006 1775,1067 1775,1156 1775,1031 1776,1065 1776,1175 1777,1029 1778,1088 1778,990 1779,997 1779,1068 1780,1030 1780,1009 1781,998 1782,979 1782,1177 1784,1176 1784,1180 1785,1044 1785,1036 1787,1154 1788,1051 1788,987 1789,969 1790,1077 1793,994 1793,1029 1794,1107 1795,1150 1796,1119 1796,1010 1797,1030 1797,996 1797,1095 1798,976 1798,1103 1799,1122 1801,968 1802,1129 1802,993 1802,1039 1802,1044 1803,1048 1803,1047 1805,1018 1805,1053 1805,972 1805,1023 1805,1066 1806,1125 1807,996 1807,1107 1807,1057 1808,1005 1808,1117 1808,996 1808,1153 1809,1020 1809,1077 1809,981 1810,969 1810,972 1810,1093 1810,967 1810,1022 1810,1154 1811,1178 1811,995 1812,1118 1812,1064 1812,1118 1812,1037 1813,1174 1813,1166 1813,1034 1813,1006 1814,1083 1814,1158 1814,1076 1815,975 1815,1004 1815,1163 1815,1093 1816,1031 1816,994 1816,987 1817,977 1818,1016 1818,1169 1819,989 1820,1022 1821,1175 1822,977 1822,1071 1822,969 1822,1018 1822,1028 1823,1099 1823,1155 1823,983 1824,1009 1824,1092 1825,1091 1825,1068 1826,1100 1826,981 1826,1027 1826,1021 1826,1017 1826,1154 1828,1163 1828,1052 1828,1096 1828,1023 1828,975 1829,1016 1829,1059 1829,982 1829,998 1829,1104 1829,1095 1829,1089 1830,1147 1830,1015 1831,1092 1831,968 1832,976 1832,996 1832,987 1833,1025 1833,1128 1834,1085 1834,1094 1834,1025 1834,1002 1835,1111 1835,1020 1835,1036 1835,1053 1835,1114 1836,1098 1836,1032 1837,1071 1837,992 1837,1048 1838,1052 1839,1100 1840,1010 1840,998 1841,1004 1841,1060 1841,1045 1841,1089 1841,1003 1841,1059 1843,985 1843,1063 1844,1001 1844,978 1844,1004 1845,999 1845,1038 1845,1127 1846,1032 1846,996 1846,990 1847,1035 1849,1055 1850,1037 1850,969 1851,993 1851,1094 1851,998 1851,1003 1851,1156 1851,982 1852,995 1852,1021 1852,1058 1852,1160 1852,1052 1852,1001 1852,1040 1853,1137 1853,1016 1853,1082 1853,1094 1853,1111 1853,1100 1854,970 1855,1033 1856,1000 1856,975 1856,1029 1856,1009 1856,1093 1857,970 1857,974 1857,978 1857,1046 1857,983 1857,1010 1857,1085 1858,1048 1858,976 1858,1096 1859,985 1859,978 1859,1115 1859,1126 1859,979 1859,1061 1860,1132 1860,972 1860,1044 1860,1031 1861,987 1862,1138 1863,1117 1863,973 1863,1108 1863,1056 1863,983 1864,1156 1864,1026 1865,1068 1865,1063 1865,1166 1866,1172 1866,982 1866,1008 1866,1022 1867,1107 1867,1030 1867,1121 1868,980 1868,985 1869,1087 1869,1011 1869,1017 1869,999 1869,1027 1869,973 1869,983 1870,975 1870,1066 1871,1039 1872,1129 1872,1028 1872,980 1872,1079 1872,1041 1873,1039 1873,1000 1873,980 1874,1177 1874,1081 1874,1017 1874,1038 1875,1034 1876,1006 1876,993 1877,1070 1877,995 1877,972 1878,987 1878,1118 1878,992 1878,1128 1878,1049 1879,1135 1879,1017 1879,1030 1879,968 1880,1004 1881,980 1881,1082 1882,1019 1883,983 1883,1062 1883,1119 1883,986 1884,1146 1884,1003 1884,1066 1885,1142 1885,1027 1885,983 1886,1061 1886,1020 1886,1176 1887,977 1887,1039 1887,1174 1888,1041 1888,1017 1888,1087 1888,1054 1889,1007 1889,1020 1889,1030 1890,1073 1890,977 1890,982 1891,1035 1891,1063 1891,1063 1891,1014 1892,996 1893,1020 1893,1048 1894,1155 1894,1011 1894,1107 1895,1109 1895,1014 1895,1059 1895,980 1895,982 1895,987 1895,970 1895,1116 1895,1045 1895,1065 1896,1011 1896,1104 1897,1084 1897,1068 1897,1171 1897,1096 1898,1021 1898,1121 1898,998 1898,1060 1899,1012 1899,1014 1899,1163 1900,968 1900,1097 1900,968 1900,1068 1900,1042 1900,1022 1901,1006 1901,1069 1902,1086 1902,1058 1902,992 1903,1164 1903,1038 1903,1027 1903,1009 1904,1016 1904,1159 1904,1008 1904,1147 1904,1097 1905,1129 1905,1039 1905,1034 1906,1115 1906,1152 1907,1001 1907,980 1907,1053 1907,1035 1907,1011 1907,1062 1907,1032 1907,993 1908,1050 1908,1046 1908,988 1908,1043 1908,1122 1908,1118 1908,1056 1908,1075 1909,1173 1909,1165 1909,1162 1909,1011 1909,1031 1910,991 1910,1090 1910,986 1910,1085 1910,1098 1910,1089 1910,1047 1910,981 1911,1094 1912,1022 1912,978 1912,1135 1912,1032 1912,1063 1912,1110 1912,986 1912,1087 1913,999 1913,1031 1913,1001 1914,1081 1914,1164 1914,1077 1914,1008 1915,1015 1915,983 1915,1086 1916,1009 1916,1151 1916,1028 1916,989 1916,1034 1916,982 1916,1051 1917,1169 1917,1156 1917,1034 1917,1133 1917,1002 1918,1045 1918,1072 1918,1051 1918,1167 1918,1010 1919,973 1919,1114 1919,1014 1919,1143 1919,1087 1920,1012 1920,1025 1920,1071 1920,1033 1920,1032 1920,1013 1920,977 1921,1025 1921,1016 1921,1086 1921,1056 1921,984 1921,1057 1921,1170 1921,1007 1921,1043 1921,1058 1922,1175 1922,971 1922,1003 1923,1148 1923,976 1923,1136 1923,995 1923,969 1923,1022 1923,1097 1923,979 1923,1046 1924,1070 1924,1007 1924,967 1924,1045 1924,1106 1925,1007 1925,1037 1925,1037 1925,994 1925,1032 1926,989 1926,1068 1926,1119 1926,1045 1926,979 1926,998 1926,1084 1927,1087 1927,1147 1927,1003 1927,969 1927,1090 1927,1021 1927,969 1928,1074 1928,1014 1928,1092 1928,1033 1928,968 1929,1050 1929,1086 1929,1013 1929,1051 1929,1170 1929,1044 1929,981 1930,982 1930,1004 1930,1059 1931,1025 1931,1091 1931,1109 1931,1066 1931,1159 1931,1066 1931,1057 1932,1067 1932,1068 1932,1057 1932,1035 1933,1035 1933,1015 1933,968 1933,1037 1933,1011 1933,1061 1934,1010 1934,1096 1934,1124 1934,994 1934,1039 1935,1005 1935,1040 1935,982 1936,1099 1936,1081 1936,1179 1936,1066 1936,1162 1936,969 1936,1097 1936,1034 1936,993 1937,1053 1937,976 1937,981 1937,1059 1937,985 1937,999 1937,1169 1938,1019 1938,1097 1938,1074 1938,1063 1938,1117 1938,1015 1938,1119 1939,1109 1939,1039 1939,1087 1939,1173 1939,1004 1939,1071 1940,1123 1940,1135 1940,1005 1940,1030 1940,1072 1940,1115 1940,1028 1940,1029 1941,984 1941,1005 1941,1000 1941,1132 1941,1104 1941,1034 1942,1048 1942,974 1942,978 1942,1081 1943,1082 1943,1045 1943,1120 1943,1012 1944,1019 1944,990 1944,1102 1944,975 1944,1167 1944,1124 1944,976 1944,1163 1945,1108 1945,1170 1945,1156 1945,993 1945,971 1945,992 1945,980 1945,1081 1945,991 1945,1087 1946,1165 1946,1075 1946,979 1946,1154 1946,1099 1946,1020 1947,1000 1947,982 1947,1090 1947,1040 1947,1176 1947,1027 1947,1028 1947,1025 1948,1029 1948,987 1948,1067 1948,987 1948,1145 1949,997 1949,1007 1949,977 1949,981 1949,1095 1949,998 1949,996 1949,1026 1949,990 1950,1108 1950,1022 1950,1019 1950,1167 1950,1162 1950,1066 1950,1016 1951,1030 1951,1088 1951,1087 1951,1002 1951,972 1952,976 1952,987 1952,1092 1952,1094 1952,1066 1952,1156 1952,971 1952,1041 1952,983 1952,1016 1953,1006 1953,1023 1953,998 1953,1089 1953,992 1954,1057 1954,988 1954,1079 1954,1108 1954,1062 1954,1026 1955,1174 1955,1115 1955,984 1955,1022 1955,1025 1955,1029 1955,973 1955,986 1956,1043 1956,1037 1956,1040 1956,1149 1956,1038 1956,1035 1957,994 1957,1150 1957,1074 1957,1088 1957,1100 1957,1075 1957,1041 1957,1128 1957,1033 1957,1049 1957,972 1958,1110 1958,1038 1958,1148 1958,1023 1958,1081 1959,990 1959,1003 1959,995 1959,1103 1959,1044 1960,1003 1960,1095 1960,1028 1960,1016 1960,1390 1960,988 1960,1052 1960,1075 1961,1178 1961,974 1961,1356 1961,1529 1961,1013 1961,1562 1961,1079 1961,1066 1962,1094 1962,1004 1962,1067 1962,1016 1962,1156 1962,983 1962,1134 1962,1096 1962,987 1963,1167 1963,1013 1963,1053 1963,1026 1963,1032 1963,984 1963,1130 1963,977 1963,1022 1963,969 1963,1025 1963,994 1964,1071 1964,1160 1964,1008 1964,985 1964,1149 1964,1074 1964,1329 1965,1025 1965,1026 1965,1048 1965,1021 1965,1050 1965,996 1966,1025 1966,996 1966,1017 1966,1119 1966,1071 1966,1029 1966,1036 1966,1070 1966,1043 1966,1065 1966,1061 1967,1000 1967,1053 1967,1094 1967,974 1967,1065 1967,977 1967,974 1968,1076 1968,1055 1968,1168 1968,1063 1968,1090 1968,1117 1968,1160 1969,1020 1969,1043 1969,1044 1969,1064 1969,1172 1970,1019 1970,1078 1970,1074 1970,1004 1970,1113 1970,1175 1970,969 1970,985 1971,1022 1971,1066 1971,1003 1971,1056 1971,1420 1971,990 1971,1072 1971,1016 1971,1108 1971,1127 1971,985 1972,1420 1972,1009 1972,1041 1972,1022 1972,1158 1972,1310 1972,968 1972,978 1972,1067 1973,1053 1973,1164 1973,1102 1973,1170 1973,1149 1973,1016 1973,1036 1974,1160 1974,1016 1974,1285 1974,971 1974,1161 1974,1167 1975,1116 1975,1011 1975,1053 1975,1041 1975,999 1975,1005 1975,1049 1975,1058 1975,1012 1975,1070 1975,1116 1975,1049 1975,1074 1975,1049 1976,1080 1976,1019 1976,1051 1976,979 1976,1081 1976,976 1976,1090 1976,1016 1976,969 1976,1054 1976,978 1977,1167 1977,1016 1977,1142 1977,970 1977,1075 1977,1077 1977,1012 1977,1011 1977,1174 1978,1121 1978,1026 1978,972 1978,1084 1978,1093 1978,1074 1979,1117 1979,977 1979,992 1979,1102 1979,1032 1979,1083 1979,1156 1979,1065 1979,968 1979,1045 1979,1130 1979,1152 1980,1000 1980,999 1980,1037 1980,1116 1980,987 1980,974 1980,1052 1980,1107 1980,995 1981,1011 1981,1114 1981,1012 1981,1041 1981,1055 1981,969 1981,1077 1981,971 1981,974 1981,1269 1981,1048 1981,1079 1982,1170 1982,986 1982,972 1982,1178 1982,1113 1982,1149 1982,975 1982,1159 1982,1017 1982,996 1982,973 1983,1058 1983,1019 1983,980 1983,987 1983,1166 1983,1054 1983,991 1983,1033 1983,994 1983,1170 1984,1073 1984,1085 1984,1006 1984,1093 1984,1026 1984,1153 1984,1161 1984,1002 1984,1168 1984,1040 1984,1006 1985,1166 1985,1041 1985,976 1985,1122 1985,1157 1985,1039 1986,1079 1986,1038 1986,1024 1986,1053 1986,1024 1986,1157 1986,985 1986,1088 1986,1083 1986,978 1986,1105 1987,1125 1987,1052 1987,1092 1987,1055 1987,1061 1987,1034 1987,1006 1987,1172 1987,975 1987,978 1988,1111 1988,1030 1988,991 1988,1116 1988,1051 1988,1092 1988,990 1988,1087 1988,1155 1989,1027 1989,983 1989,1053 1989,1062 1989,1073 1989,1056 1989,1074 1989,1037 1989,1062 1990,1030 1990,1059 1990,1071 1990,1040 1990,1054 1990,1031 1990,1111 1990,1053 1990,1598 1991,1011 1991,1015 1991,1161 1991,1030 1991,983 1991,1114 1991,1069 1991,1004 1991,1504 1991,975 1991,1032 1991,1019 1991,1020 1991,1008 1992,1176 1992,972 1992,1067 1992,967 1992,1044 1992,982 1992,1059 1992,1005 1992,1027 1992,1141 1993,1013 1993,978 1993,976 1993,1073 1993,975 1993,1136 1993,982 1993,1027 1994,1168 1994,986 1994,1047 1994,1027 1994,1174 1994,1006 1994,1007 1994,982 1995,1096 1995,994 1995,1002 1995,1010 1995,984 1995,1121 1995,1155 1995,1118 1995,1050 1996,1091 1996,1087 1996,1096 1996,1033 1996,1533 1996,1040 1996,1015 1996,1089 1996,987 1996,1004 1996,1039 1996,1017 1996,1102 1996,1024 1996,1169 1996,1169 1996,1019 1997,1043 1997,1091 1997,981 1997,1031 1997,1096 1997,1095 1997,1077 1997,1107 1997,1078 1997,1069 1997,1102 1997,1029 1998,1078 1998,982 1998,1075 1998,972 1998,1114 1998,1155 1998,1061 1998,1008 1998,968 1999,1026 1999,1643 1999,1007 1999,1036 1999,1057 1999,1063 1999,984 1999,968 1999,1035 1999,1074 1999,1017 2000,990 2000,1642 2000,1482 2000,984 2000,1083 2000,1127 2000,1036 2000,1099 2001,1027 2001,1073 2001,1002 2001,1055 2001,1036 2001,1024 2002,1053 2002,1088 2002,1450 2002,985 2002,1001 2002,1061 2002,1063 2002,1041 2002,1007 2002,1129 2002,1114 2002,1170 2002,1017 2002,986 2002,1017 2003,1007 2003,1016 2003,1116 2003,1067 2003,1047 2003,1026 2003,1172 2003,1112 2003,1128 2003,1112 2003,1160 2003,1020 2003,1031 2003,1085 2003,1109 2003,1019 2003,1154 2004,1019 2004,997 2004,1005 2004,1052 2005,1589 2005,1017 2005,993 2005,1099 2005,1161 2005,980 2005,982 2005,1116 2006,990 2006,997 2006,1006 2006,993 2006,1051 2006,1081 2006,990 2006,1116 2006,1119 2006,983 2006,995 2006,1052 2006,1043 2006,1115 2006,996 2006,1120 2006,1134 2006,1172 2007,1053 2007,1159 2007,1042 2007,1084 2007,1040 2007,1128 2007,1067 2007,1485 2008,1071 2008,1008 2008,992 2008,1071 2008,1148 2008,975 2008,1034 2008,1150 2008,1024 2008,1003 2008,1018 2009,990 2009,1017 2009,1073 2009,1058 2009,976 2009,1049 2009,1164 2009,1053 2009,1146 2009,1175 2009,1144 2009,1147 2010,1042 2010,982 2010,1014 2010,978 2010,1083 2010,1020 2010,1163 2010,1180 2010,1099 2010,1010 2010,1022 2010,1053 2010,1378 2010,981 2010,983 2010,1019 2010,1122 2011,1364 2011,1034 2011,1001 2011,979 2011,1007 2011,998 2011,1056 2011,1055 2011,1013 2012,1077 2012,1084 2012,1056 2012,1177 2012,1038 2012,986 2012,985 2012,979 2012,969 2012,991 2012,1061 2012,1041 2012,1092 2012,993 2012,1164 2013,974 2013,1165 2013,996 2013,1042 2013,1151 2013,1087 2013,1073 2013,1020 2013,1065 2013,1083 2013,1136 2013,1066 2013,1044 2013,1069 2013,1031 2014,1066 2014,1057 2014,1037 2014,1036 2014,1010 2014,1083 2014,1567 2014,1013 2014,1105 2014,1013 2014,1064 2014,1102 2014,1177 2014,1082 2014,980 2014,1048 2015,1017 2015,1038 2015,1015 2015,1067 2015,1146 2015,1410 2015,1311 2015,1015 2015,968 2015,997 2015,988 2015,1071 2015,982 2015,980 2016,1084 2016,1065 2016,1014 2016,999 2016,1003 2016,1072 2016,1158 2016,989 2016,1083 2016,1100 2016,1060 2016,1073 2017,1091 2017,977 2017,1011 2017,1141 2017,1049 2017,993 2017,995 2017,1049 2017,1110 2017,1119 2017,1007 2017,1084 2017,1368 2018,1023 2018,974 2018,1093 2018,1077 2018,1003 2018,1016 2018,1082 2018,992 2018,1170 2018,1001 2019,1180 2019,1077 2019,1038 2019,997 2019,1037 2019,1050 2019,1010 2019,1046 2019,1001 2019,1003 2019,1178 2019,1154 2019,1072 2019,1091 2019,1173 2020,1142 2020,1013 2020,981 2020,1072 2020,998 2020,1031 2020,973 2020,1088 2020,1028 2020,976 2020,1057 2020,1075 2020,1132 2020,1055 2020,1038 2020,1003 2020,1116 2020,996 2020,973 2021,1005 2021,1081 2021,990 2021,972 2021,993 2021,988 2021,977 2021,1523 2021,1153 2021,1055 2022,1092 2022,1141 2022,1046 2022,1116 2022,1009 2022,968 2022,977 2022,1156 2022,1025 2022,1068 2022,1048 2022,1032 2022,1031 2022,1121 2022,983 2022,969 2022,1091 2022,1076 2023,1039 2023,981 2023,1065 2023,1033 2023,1101 2023,988 2023,1161 2023,1094 2023,1075 2023,1128 2023,1028 2023,1126 2023,1149 2023,1101 2023,1024 2023,978 2024,1020 2024,1130 2024,1095 2024,1139 2024,995 2024,990 2024,968 2024,1062 2024,985 2024,1166 2024,1046 2024,1010 2024,1139 2024,976 2024,991 2024,1163 2025,1096 2025,1120 2025,1402 2025,1026 2025,1005 2025,1019 2025,977 2025,1059 2025,1071 2025,1052 2025,1114 2025,999 2025,1050 2025,1103 2026,1025 2026,981 2026,1078 2026,1004 2026,970 2026,1104 2026,1013 2026,981 2026,1106 2026,1210 2026,974 2026,982 2026,1106 2026,985 2026,1012 2026,981 2026,1050 2027,1114 2027,1041 2027,1361 2027,1026 2027,1071 2027,1083 2027,971 2027,1127 2027,1161 2027,1010 2027,1034 2027,1001 2027,1163 2027,1008 2028,1119 2028,1012 2028,1099 2028,1167 2028,1089 2028,1032 2028,1008 2028,1054 2028,1174 2028,1133 2028,1029 2029,1138 2029,983 2029,980 2029,1015 2029,1111 2029,1093 2029,1009 2029,1023 2029,1098 2029,1070 2029,981 2030,1106 2030,1101 2030,1050 2030,998 2030,1085 2030,1052 2030,1016 2030,988 2030,1061 2030,1103 2030,974 2030,1065 2030,968 2031,1039 2031,971 2031,1142 2031,1038 2031,1041 2031,973 2031,1100 2031,985 2031,994 2031,1058 2031,1007 2031,1033 2031,998 2031,1002 2031,993 2031,994 2031,1076 2032,975 2032,1110 2032,994 2032,1012 2032,1054 2032,1078 2032,981 2032,1005 2032,1005 2032,1054 2032,1006 2032,1067 2032,1145 2032,1074 2032,992 2032,1109 2032,1090 2033,1071 2033,1091 2033,1123 2033,1055 2033,1024 2033,993 2033,1054 2033,1497 2033,1007 2033,1016 2033,988 2033,1043 2033,1064 2033,975 2033,1061 2034,1071 2034,986 2034,1160 2034,984 2034,975 2034,1071 2034,1063 2034,968 2034,989 2034,1162 2034,1073 2034,1089 2034,972 2034,1055 2034,1126 2034,1059 2034,1118 2034,1198 2034,1017 2034,1036 2034,1014 2035,1130 2035,1072 2035,1125 2035,1041 2035,998 2035,1122 2035,1043 2035,979 2035,990 2035,1132 2035,1126 2035,1082 2035,1051 2036,1146 2036,1044 2036,1116 2036,1109 2036,970 2036,1016 2036,1028 2036,1043 2036,970 2036,1076 2036,1085 2036,1151 2037,1008 2037,1045 2037,1118 2037,1023 2037,1133 2037,1019 2037,1202 2037,1018 2037,1006 2037,1016 2037,1111 2037,974 2037,1163 2037,1039 2037,1051 2037,1254 2037,1059 2037,1152 2037,973 2037,1060 2038,1046 2038,1007 2038,1003 2038,978 2038,1012 2038,1088 2038,1022 2038,995 2038,1149 2038,1043 2038,1030 2038,1057 2038,1057 2038,1078 2038,1039 2038,1128 2038,1039 2038,1091 2038,1161 2038,1043 2038,1377 2039,1153 2039,1007 2039,1092 2039,993 2039,983 2039,989 2039,1006 2039,976 2039,991 2039,1005 2039,1049 2039,1113 2039,976 2040,1058 2040,1016 2040,1091 2040,1047 2040,1081 2040,1115 2040,1067 2040,1058 2040,1045 2040,1030 2040,991 2040,971 2040,996 2040,1052 2040,1023 2040,1008 2040,1161 2041,1089 2041,1083 2041,1003 2041,1031 2041,1058 2041,998 2041,1011 2041,975 2041,1180 2041,1150 2041,1000 2041,1005 2041,1081 2041,1096 2041,970 2041,982 2041,1163 2041,1056 2041,1061 2042,1008 2042,1036 2042,1020 2042,1031 2042,1018 2042,1071 2042,1011 2042,1041 2042,1128 2042,1017 2042,988 2042,1466 2042,1024 2042,1071 2042,1077 2042,1018 2042,1003 2042,1163 2043,974 2043,1011 2043,1094 2043,1165 2043,1053 2043,1029 2043,1172 2043,967 2043,977 2043,1034 2043,1167 2043,1039 2043,1118 2043,1078 2043,1170 2043,1162 2043,1002 2043,1124 2043,1152 2044,1001 2044,1042 2044,1040 2044,1139 2044,974 2044,1173 2044,983 2044,1078 2044,1138 2044,1003 2044,1069 2044,1065 2044,971 2044,1114 2044,1055 2044,1036 2044,1014 2044,1109 2044,1029 2044,1011 2044,1099 2045,1060 2045,1122 2045,982 2045,1046 2045,1363 2045,1050 2045,968 2045,1069 2045,1002 2045,1138 2045,1032 2045,1005 2045,969 2045,1004 2045,975 2045,1047 2045,1053 2045,1169 2045,1001 2045,1053 2046,1065 2046,1052 2046,1001 2046,1038 2046,1023 2046,1004 2046,969 2046,973 2046,1002 2046,1138 2046,1002 2046,1040 2046,992 2046,1136 2046,1007 2046,974 2046,1081 2047,1152 2047,1037 2047,1066 2047,1024 2047,1011 2047,1093 2047,1014 2047,1002 2047,1039 2047,1057 2047,1073 2047,1099 2047,1053 2047,1042 2048,1161 2048,1109 2048,1098 2048,1042 2048,1165 2048,1068 2048,985 2048,1162 2048,974 2048,1073 2048,1045 2048,1067 2048,1014 2048,1003 2048,1114 2048,1063 2048,984 2048,1011 2048,1035 2048,1135 2048,983 2048,1019 2048,1178 2048,1069 2049,1032 2049,1059 2049,996 2049,1130 2049,997 2049,1014 2049,972 2049,1550 2049,1015 2049,1022 2049,1169 2049,1055 2049,1068 2049,973 2049,1073 2049,1017 2049,1012 2050,999 2050,1120 2050,1035 2050,1134 2050,1054 2050,1052 2050,1069 2050,1027 2050,1006 2050,1085 2050,1042 2050,1102 2050,1117 2050,1176 2050,983 2050,1030 2050,1177 2050,1036 2050,1003 2050,1014 2050,1068 2051,1076 2051,1036 2051,1086 2051,986 2051,1057 2051,1035 2051,970 2051,1163 2051,1129 2051,1033 2051,1165 2052,1160 2052,983 2052,984 2052,984 2052,1048 2052,1005 2052,1014 2052,991 2052,1175 2052,1040 2052,1158 2052,1066 2052,991 2052,994 2052,1160 2052,1005 2052,1198 2052,1081 2052,1115 2052,983 2052,1074 2053,1174 2053,1035 2053,1055 2053,1022 2053,990 2053,1038 2053,1077 2053,1173 2053,1004 2053,1033 2053,1102 2053,1167 2053,1081 2053,1036 2053,1011 2053,1581 2053,1038 2053,1055 2053,1129 2053,972 2054,1173 2054,1113 2054,1062 2054,1018 2054,1107 2054,984 2054,968 2054,1145 2054,1030 2054,972 2054,977 2054,1088 2054,1074 2054,1062 2054,1087 2054,1087 2054,1030 2054,1003 2054,1007 2055,1172 2055,992 2055,972 2055,1120 2055,1023 2055,989 2055,1058 2055,1048 2055,1567 2055,1066 2055,1035 2055,982 2055,1008 2055,1037 2055,1021 2055,1023 2055,976 2055,1020 2055,972 2055,1047 2056,1168 2056,1016 2056,1167 2056,1035 2056,1038 2056,973 2056,1398 2056,1010 2056,1055 2056,1036 2056,1121 2056,1041 2056,1178 2056,1054 2056,1406 2056,978 2056,977 2056,975 2056,1077 2056,970 2056,1107 2056,1096 2056,1050 2057,1166 2057,980 2057,1029 2057,1135 2057,1046 2057,1022 2057,1046 2057,998 2057,1061 2057,1122 2057,1059 2057,974 2057,968 2057,1084 2057,1040 2057,1087 2057,1003 2057,987 2058,1012 2058,1089 2058,1000 2058,987 2058,977 2058,1009 2058,1145 2058,1000 2058,979 2058,1026 2058,1080 2059,1046 2059,1057 2059,1035 2059,1052 2059,992 2059,1047 2059,1145 2059,995 2059,1056 2059,1290 2059,1089 2059,1009 2059,1013 2059,1149 2059,968 2059,1011 2059,1133 2059,1087 2059,996 2059,1163 2059,1028 2059,1026 2059,1084 2060,1160 2060,1117 2060,1022 2060,1114 2060,999 2060,986 2060,1065 2060,1034 2060,1031 2060,1064 2060,1041 2060,993 2060,1026 2060,969 2060,1002 2060,1046 2060,970 2060,1077 2060,1035 2060,1114 2060,1117 2060,1014 2060,1039 2060,1003 2060,984 2061,1118 2061,1052 2061,1005 2061,995 2061,988 2061,1052 2061,992 2061,993 2061,1024 2061,1017 2061,976 2061,1017 2061,996 2061,968 2061,1125 2061,1164 2061,1139 2061,1015 2061,1035 2061,1069 2061,1128 2061,979 2061,1079 2061,1160 2061,1080 2062,1035 2062,1138 2062,1023 2062,1165 2062,1136 2062,1133 2062,1012 2062,1388 2062,981 2062,988 2062,1036 2062,1126 2062,1062 2062,1019 2062,1011 2062,1066 2062,1030 2062,1034 2062,1172 2062,1005 2062,1000 2062,1096 2062,978 2062,1159 2062,1015 2063,979 2063,1069 2063,972 2063,1046 2063,975 2063,1095 2063,1059 2063,1088 2063,1497 2063,1081 2063,1012 2063,1109 2063,1080 2063,1005 2063,1042 2063,975 2063,987 2063,1142 2063,1040 2063,1073 2063,1288 2063,1172 2063,1055 2063,1141 2064,989 2064,1037 2064,1026 2064,1003 2064,1082 2064,985 2064,996 2064,1112 2064,1049 2064,1071 2064,1129 2064,1116 2064,1044 2064,999 2064,1165 2064,970 2064,1165 2064,1050 2064,1077 2064,1159 2064,1096 2064,992 2064,1027 2064,1126 2064,1061 2064,1070 2064,968 2064,1003 2064,1079 2064,1086 2064,1072 2065,1180 2065,1136 2065,1092 2065,1000 2065,1010 2065,1011 2065,995 2065,1097 2065,984 2065,1136 2065,972 2065,1069 2065,1126 2065,1145 2065,991 2065,1012 2065,995 2065,1082 2065,1064 2065,1155 2066,1039 2066,1033 2066,1024 2066,1135 2066,1084 2066,969 2066,991 2066,1105 2066,1051 2066,1099 2066,972 2066,1018 2066,994 2066,987 2066,976 2066,982 2066,1086 2066,973 2066,994 2066,973 2066,1118 2066,993 2066,988 2066,1037 2066,1033 2066,1080 2067,1009 2067,978 2067,1045 2067,972 2067,990 2067,1021 2067,1006 2067,1097 2067,1146 2067,1025 2067,1016 2067,998 2067,974 2067,1096 2067,1094 2067,1178 2067,1055 2067,1081" fill="none" stroke="none" marker-start="url(#gd)" marker-mid="url(#gd)" marker-end="url(#gd)"/></g>
<g clip-path="url(#cTL)">
<circle cx="444.2" cy="327.9" r="8" fill="#008000"/>
<circle cx="452" cy="330.6" r="8" fill="#008000"/>
<circle cx="446" cy="335.6" r="8" fill="#008000"/>
<circle cx="439.8" cy="346.5" r="8" fill="#008000"/>
<circle cx="462.1" cy="348.4" r="8" fill="#008000"/>
<circle cx="471" cy="359.6" r="8" fill="#008000"/>
<circle cx="485.1" cy="355.5" r="8" fill="#008000"/>
<circle cx="492.6" cy="357" r="8" fill="#008000"/>
<circle cx="500.8" cy="352.5" r="8" fill="#008000"/>
<circle cx="508" cy="356" r="8" fill="#008000"/>
<circle cx="520.1" cy="352.5" r="8" fill="#008000"/>
<circle cx="526.1" cy="360" r="8" fill="#008000"/>
<circle cx="543.9" cy="346.5" r="8" fill="#008000"/>
<circle cx="543.2" cy="359.2" r="8" fill="#008000"/>
<circle cx="558" cy="351.8" r="8" fill="#008000"/>
<circle cx="564.1" cy="351.8" r="8" fill="#008000"/>
<circle cx="574.6" cy="343.6" r="8" fill="#008000"/>
<circle cx="587.6" cy="367.4" r="8" fill="#008000"/>
<circle cx="605.1" cy="354.7" r="8" fill="#008000"/>
<circle cx="628.9" cy="357" r="8" fill="#008000"/>
<circle cx="729.1" cy="346.5" r="8" fill="#008000"/>
<circle cx="836.6" cy="343.6" r="8" fill="#008000"/>
<circle cx="839.3" cy="343.2" r="8" fill="#008000"/>
<circle cx="438.3" cy="346.5" r="5.6" fill="#4169e1"/>
<circle cx="471" cy="359.6" r="5.6" fill="#4169e1"/>
<circle cx="485.1" cy="355.5" r="5.6" fill="#4169e1"/>
<circle cx="492.6" cy="357" r="5.6" fill="#4169e1"/>
<circle cx="520.1" cy="339.9" r="5.6" fill="#4169e1"/>
<circle cx="520.1" cy="352.5" r="5.6" fill="#4169e1"/>
<circle cx="526.1" cy="360" r="5.6" fill="#4169e1"/>
<circle cx="529.8" cy="354.7" r="5.6" fill="#4169e1"/>
<circle cx="543.2" cy="359.2" r="5.6" fill="#4169e1"/>
<circle cx="564.1" cy="349.5" r="5.6" fill="#4169e1"/>
<circle cx="585" cy="355.5" r="5.6" fill="#4169e1"/>
<circle cx="605.1" cy="354.7" r="5.6" fill="#4169e1"/>
<circle cx="628.9" cy="336.1" r="5.6" fill="#4169e1"/>
<circle cx="628.9" cy="357" r="5.6" fill="#4169e1"/>
<circle cx="634.1" cy="354" r="5.6" fill="#4169e1"/>
<circle cx="646.7" cy="361.8" r="5.6" fill="#4169e1"/>
<circle cx="655.7" cy="362.5" r="5.6" fill="#4169e1"/>
<circle cx="667.6" cy="367" r="5.6" fill="#4169e1"/>
<circle cx="673.9" cy="348.8" r="5.6" fill="#4169e1"/>
<circle cx="683.2" cy="354.7" r="5.6" fill="#4169e1"/>
<circle cx="698" cy="344.3" r="5.6" fill="#4169e1"/>
<circle cx="695.1" cy="351.8" r="5.6" fill="#4169e1"/>
<circle cx="698.8" cy="361.4" r="5.6" fill="#4169e1"/>
<circle cx="701.5" cy="344.7" r="5.6" fill="#4169e1"/>
<circle cx="712.3" cy="361.8" r="5.6" fill="#4169e1"/>
<circle cx="729.1" cy="348.8" r="5.6" fill="#4169e1"/>
<circle cx="736.5" cy="348" r="5.6" fill="#4169e1"/>
<circle cx="724.2" cy="351.8" r="5.6" fill="#4169e1"/>
<circle cx="730.9" cy="363.3" r="5.6" fill="#4169e1"/>
<circle cx="759.2" cy="344.7" r="5.6" fill="#4169e1"/>
<circle cx="749.5" cy="365.1" r="5.6" fill="#4169e1"/>
<circle cx="762.9" cy="363.7" r="5.6" fill="#4169e1"/>
<circle cx="767.4" cy="353.2" r="5.6" fill="#4169e1"/>
<circle cx="773.3" cy="366.6" r="5.6" fill="#4169e1"/>
<circle cx="779.3" cy="354.7" r="5.6" fill="#4169e1"/>
<circle cx="783" cy="365.9" r="5.6" fill="#4169e1"/>
<circle cx="787.5" cy="354" r="5.6" fill="#4169e1"/>
<circle cx="771.8" cy="359.2" r="5.6" fill="#4169e1"/>
<circle cx="759.2" cy="357" r="5.6" fill="#4169e1"/>
<circle cx="804.6" cy="363.7" r="5.6" fill="#4169e1"/>
<circle cx="819.1" cy="352.5" r="5.6" fill="#4169e1"/>
<circle cx="829.1" cy="352.5" r="5.6" fill="#4169e1"/>
<circle cx="823.2" cy="371.8" r="5.6" fill="#4169e1"/>
<circle cx="836.6" cy="343.6" r="5.6" fill="#4169e1"/>
<circle cx="839.3" cy="343.2" r="5.6" fill="#4169e1"/>
<circle cx="831.5" cy="352.2" r="5.6" fill="#4169e1"/>
<circle cx="852.3" cy="350.7" r="5.6" fill="#4169e1"/>
<circle cx="854.6" cy="357.4" r="5.6" fill="#4169e1"/>
<circle cx="857.5" cy="365.6" r="5.6" fill="#4169e1"/>
<circle cx="871.7" cy="368.2" r="5.6" fill="#4169e1"/>
<circle cx="451.7" cy="330.2" r="5.6" fill="#ffa500"/>
<circle cx="445.7" cy="335.4" r="5.6" fill="#ffa500"/>
<circle cx="440.2" cy="346.5" r="5.6" fill="#ffa500"/>
<circle cx="462.1" cy="348.4" r="5.6" fill="#ffa500"/>
<circle cx="500.8" cy="352.5" r="5.6" fill="#ffa500"/>
<circle cx="503.8" cy="357" r="5.6" fill="#ffa500"/>
<circle cx="509.7" cy="354" r="5.6" fill="#ffa500"/>
<circle cx="543.9" cy="346.5" r="5.6" fill="#ffa500"/>
<circle cx="547.6" cy="345.1" r="5.6" fill="#ffa500"/>
<circle cx="558" cy="360.7" r="5.6" fill="#ffa500"/>
<circle cx="574.6" cy="344.3" r="5.6" fill="#ffa500"/>
<circle cx="564.9" cy="359.2" r="5.6" fill="#ffa500"/>
<circle cx="578.3" cy="353.2" r="5.6" fill="#ffa500"/>
<circle cx="579.8" cy="358.5" r="5.6" fill="#ffa500"/>
<circle cx="587.6" cy="367.4" r="5.6" fill="#ffa500"/>
<circle cx="601.7" cy="345.1" r="5.6" fill="#ffa500"/>
<circle cx="614.4" cy="359.2" r="5.6" fill="#ffa500"/>
<circle cx="653.4" cy="364.4" r="5.6" fill="#ffa500"/>
<circle cx="679.5" cy="357.7" r="5.6" fill="#ffa500"/>
<circle cx="686.9" cy="360.7" r="5.6" fill="#ffa500"/>
<circle cx="743.9" cy="306.4" r="5.6" fill="#ffa500"/>
<circle cx="690" cy="360.7" r="5.6" fill="#ffa500"/>
<circle cx="716.4" cy="360.3" r="5.6" fill="#ffa500"/>
<circle cx="728.3" cy="358.1" r="5.6" fill="#ffa500"/>
<circle cx="743.6" cy="358.1" r="5.6" fill="#ffa500"/>
<circle cx="748" cy="354" r="5.6" fill="#ffa500"/>
<circle cx="791.2" cy="356.2" r="5.6" fill="#ffa500"/>
<circle cx="797.1" cy="356.2" r="5.6" fill="#ffa500"/>
<circle cx="803.5" cy="343.6" r="5.6" fill="#ffa500"/>
<circle cx="809.8" cy="355.5" r="5.6" fill="#ffa500"/>
<circle cx="809.8" cy="365.9" r="5.6" fill="#ffa500"/>
<circle cx="821" cy="359.2" r="5.6" fill="#ffa500"/>
<circle cx="833.6" cy="362.9" r="5.6" fill="#ffa500"/>
<circle cx="838.8" cy="355.5" r="5.6" fill="#ffa500"/>
<circle cx="845.6" cy="350.7" r="5.6" fill="#ffa500"/>
<circle cx="839.7" cy="357.4" r="5.6" fill="#ffa500"/>
<circle cx="838.9" cy="367.8" r="5.6" fill="#ffa500"/>
<circle cx="859.8" cy="364.5" r="5.6" fill="#ffa500"/>
<circle cx="870.6" cy="352.5" r="5.6" fill="#ffa500"/>
<circle cx="849.7" cy="315" r="5.6" fill="#ffa500"/>
<circle cx="860.1" cy="313.9" r="5.6" fill="#ffa500"/>
<circle cx="839.3" cy="298.6" r="2.6" fill="#b22222" fill-opacity="0.5" stroke="#b22222" stroke-opacity="0.5" stroke-width="1.1"/>
<circle cx="844.5" cy="322" r="2.6" fill="#b22222" fill-opacity="0.5" stroke="#b22222" stroke-opacity="0.5" stroke-width="1.1"/>
<circle cx="888.4" cy="296" r="2.6" fill="#b22222" fill-opacity="0.5" stroke="#b22222" stroke-opacity="0.5" stroke-width="1.1"/>
<circle cx="882.1" cy="332.1" r="2.6" fill="#b22222" fill-opacity="0.5" stroke="#b22222" stroke-opacity="0.5" stroke-width="1.1"/>
<circle cx="927.5" cy="289.3" r="2.6" fill="#b22222" fill-opacity="0.5" stroke="#b22222" stroke-opacity="0.5" stroke-width="1.1"/>
<circle cx="930.8" cy="291.9" r="2.6" fill="#b22222" fill-opacity="0.5" stroke="#b22222" stroke-opacity="0.5" stroke-width="1.1"/>
<circle cx="932.7" cy="323.2" r="2.6" fill="#b22222" fill-opacity="0.5" stroke="#b22222" stroke-opacity="0.5" stroke-width="1.1"/>
<circle cx="910.4" cy="333.6" r="2.6" fill="#b22222" fill-opacity="0.5" stroke="#b22222" stroke-opacity="0.5" stroke-width="1.1"/>
<circle cx="919.3" cy="376.7" r="2.6" fill="#b22222" fill-opacity="0.5" stroke="#b22222" stroke-opacity="0.5" stroke-width="1.1"/>
<circle cx="871.7" cy="368.2" r="2.6" fill="#b22222" fill-opacity="0.5" stroke="#b22222" stroke-opacity="0.5" stroke-width="1.1"/>
<circle cx="987.7" cy="363.4" r="2.6" fill="#b22222" fill-opacity="0.5" stroke="#b22222" stroke-opacity="0.5" stroke-width="1.1"/>
<circle cx="927.2" cy="391.7" r="2.6" fill="#b22222" fill-opacity="0.5" stroke="#b22222" stroke-opacity="0.5" stroke-width="1.1"/>
<circle cx="977.5" cy="394.1" r="2.6" fill="#b22222" fill-opacity="0.5" stroke="#b22222" stroke-opacity="0.5" stroke-width="1.1"/>
<circle cx="850.9" cy="395.5" r="2.6" fill="#b22222" fill-opacity="0.5" stroke="#b22222" stroke-opacity="0.5" stroke-width="1.1"/>
<circle cx="907.8" cy="400.7" r="2.6" fill="#b22222" fill-opacity="0.5" stroke="#b22222" stroke-opacity="0.5" stroke-width="1.1"/>
<circle cx="909.2" cy="409.8" r="2.6" fill="#b22222" fill-opacity="0.5" stroke="#b22222" stroke-opacity="0.5" stroke-width="1.1"/>
<circle cx="916.7" cy="417.7" r="2.6" fill="#b22222" fill-opacity="0.5" stroke="#b22222" stroke-opacity="0.5" stroke-width="1.1"/>
<circle cx="940.2" cy="421.7" r="2.6" fill="#b22222" fill-opacity="0.5" stroke="#b22222" stroke-opacity="0.5" stroke-width="1.1"/>
<circle cx="870.3" cy="429.4" r="2.6" fill="#b22222" fill-opacity="0.5" stroke="#b22222" stroke-opacity="0.5" stroke-width="1.1"/>
<circle cx="911.7" cy="448.7" r="2.6" fill="#b22222" fill-opacity="0.5" stroke="#b22222" stroke-opacity="0.5" stroke-width="1.1"/>
<circle cx="856.2" cy="462.4" r="2.6" fill="#b22222" fill-opacity="0.5" stroke="#b22222" stroke-opacity="0.5" stroke-width="1.1"/>
<circle cx="863.9" cy="470.3" r="2.6" fill="#b22222" fill-opacity="0.5" stroke="#b22222" stroke-opacity="0.5" stroke-width="1.1"/>
<circle cx="891" cy="478.1" r="2.6" fill="#b22222" fill-opacity="0.5" stroke="#b22222" stroke-opacity="0.5" stroke-width="1.1"/>
<circle cx="915.8" cy="465.1" r="2.6" fill="#b22222" fill-opacity="0.5" stroke="#b22222" stroke-opacity="0.5" stroke-width="1.1"/>
<circle cx="914.4" cy="470.6" r="2.6" fill="#b22222" fill-opacity="0.5" stroke="#b22222" stroke-opacity="0.5" stroke-width="1.1"/>
<circle cx="921.9" cy="479.5" r="2.6" fill="#b22222" fill-opacity="0.5" stroke="#b22222" stroke-opacity="0.5" stroke-width="1.1"/>
<circle cx="960.8" cy="480.8" r="2.6" fill="#b22222" fill-opacity="0.5" stroke="#b22222" stroke-opacity="0.5" stroke-width="1.1"/>
<circle cx="976.4" cy="480.8" r="2.6" fill="#b22222" fill-opacity="0.5" stroke="#b22222" stroke-opacity="0.5" stroke-width="1.1"/>
<circle cx="946.7" cy="485.9" r="2.6" fill="#b22222" fill-opacity="0.5" stroke="#b22222" stroke-opacity="0.5" stroke-width="1.1"/>
<circle cx="942.6" cy="489.7" r="2.6" fill="#b22222" fill-opacity="0.5" stroke="#b22222" stroke-opacity="0.5" stroke-width="1.1"/>
<circle cx="932.1" cy="493.5" r="2.6" fill="#b22222" fill-opacity="0.5" stroke="#b22222" stroke-opacity="0.5" stroke-width="1.1"/>
<circle cx="932.4" cy="499" r="2.6" fill="#b22222" fill-opacity="0.5" stroke="#b22222" stroke-opacity="0.5" stroke-width="1.1"/>
<circle cx="950.6" cy="499" r="2.6" fill="#b22222" fill-opacity="0.5" stroke="#b22222" stroke-opacity="0.5" stroke-width="1.1"/>
<circle cx="940.2" cy="502.9" r="2.6" fill="#b22222" fill-opacity="0.5" stroke="#b22222" stroke-opacity="0.5" stroke-width="1.1"/>
<circle cx="938.8" cy="511.8" r="2.6" fill="#b22222" fill-opacity="0.5" stroke="#b22222" stroke-opacity="0.5" stroke-width="1.1"/>
<circle cx="943.3" cy="517.7" r="2.6" fill="#b22222" fill-opacity="0.5" stroke="#b22222" stroke-opacity="0.5" stroke-width="1.1"/>
<circle cx="945.8" cy="519.7" r="2.6" fill="#b22222" fill-opacity="0.5" stroke="#b22222" stroke-opacity="0.5" stroke-width="1.1"/>
<circle cx="930" cy="522.5" r="2.6" fill="#b22222" fill-opacity="0.5" stroke="#b22222" stroke-opacity="0.5" stroke-width="1.1"/>
<circle cx="923.3" cy="584.2" r="2.6" fill="#b22222" fill-opacity="0.5" stroke="#b22222" stroke-opacity="0.5" stroke-width="1.1"/>
<circle cx="976.4" cy="590.7" r="2.6" fill="#b22222" fill-opacity="0.5" stroke="#b22222" stroke-opacity="0.5" stroke-width="1.1"/>
<circle cx="599.1" cy="155" r="2.6" fill="#b22222" fill-opacity="0.5" stroke="#b22222" stroke-opacity="0.5" stroke-width="1.1"/>
<circle cx="831.8" cy="148.5" r="2.6" fill="#b22222" fill-opacity="0.5" stroke="#b22222" stroke-opacity="0.5" stroke-width="1.1"/>
<circle cx="840.9" cy="165.6" r="2.6" fill="#b22222" fill-opacity="0.5" stroke="#b22222" stroke-opacity="0.5" stroke-width="1.1"/>
<circle cx="878.1" cy="172.1" r="2.6" fill="#b22222" fill-opacity="0.5" stroke="#b22222" stroke-opacity="0.5" stroke-width="1.1"/>
<circle cx="838.1" cy="187.3" r="2.6" fill="#b22222" fill-opacity="0.5" stroke="#b22222" stroke-opacity="0.5" stroke-width="1.1"/>
<circle cx="872.9" cy="190.1" r="2.6" fill="#b22222" fill-opacity="0.5" stroke="#b22222" stroke-opacity="0.5" stroke-width="1.1"/>
<circle cx="891.1" cy="189" r="2.6" fill="#b22222" fill-opacity="0.5" stroke="#b22222" stroke-opacity="0.5" stroke-width="1.1"/>
<circle cx="787.5" cy="214.5" r="2.6" fill="#b22222" fill-opacity="0.5" stroke="#b22222" stroke-opacity="0.5" stroke-width="1.1"/>
</g>
<g clip-path="url(#cTR)">
<circle cx="1252.9" cy="378.2" r="8" fill="#008000"/>
<circle cx="1264.6" cy="390.1" r="8" fill="#008000"/>
<circle cx="1286.5" cy="389.6" r="8" fill="#008000"/>
<circle cx="1289.4" cy="400.5" r="8" fill="#008000"/>
<circle cx="1310.8" cy="400.5" r="8" fill="#008000"/>
<circle cx="1313.2" cy="403.5" r="8" fill="#008000"/>
<circle cx="1357.9" cy="379.7" r="8" fill="#008000"/>
<circle cx="1357.9" cy="395.6" r="8" fill="#008000"/>
<circle cx="1355.5" cy="400" r="8" fill="#008000"/>
<circle cx="1388.6" cy="402.5" r="8" fill="#008000"/>
<circle cx="1404" cy="399.5" r="8" fill="#008000"/>
<circle cx="1416.4" cy="392.6" r="8" fill="#008000"/>
<circle cx="1418.4" cy="393.1" r="8" fill="#008000"/>
<circle cx="1428.8" cy="390.6" r="8" fill="#008000"/>
<circle cx="1436.8" cy="395.6" r="8" fill="#008000"/>
<circle cx="1441.2" cy="384.6" r="8" fill="#008000"/>
<circle cx="1451.6" cy="389.6" r="8" fill="#008000"/>
<circle cx="1691.3" cy="315.3" r="8" fill="#008000"/>
<circle cx="1660" cy="323.2" r="5.6" fill="#4169e1"/>
<circle cx="1691.3" cy="315.3" r="5.6" fill="#4169e1"/>
<circle cx="1631.7" cy="373.3" r="5.6" fill="#4169e1"/>
<circle cx="1702.7" cy="367.9" r="5.6" fill="#4169e1"/>
<circle cx="1789.4" cy="640" r="5.6" fill="#4169e1"/>
<circle cx="1252.9" cy="378.2" r="5.6" fill="#ffa500"/>
<circle cx="1264.6" cy="390.1" r="5.6" fill="#ffa500"/>
<circle cx="1286.5" cy="389.6" r="5.6" fill="#ffa500"/>
<circle cx="1289.4" cy="400.5" r="5.6" fill="#ffa500"/>
<circle cx="1310.8" cy="400.5" r="5.6" fill="#ffa500"/>
<circle cx="1313.2" cy="403.5" r="5.6" fill="#ffa500"/>
<circle cx="1343.2" cy="391.1" r="5.6" fill="#ffa500"/>
<circle cx="1357.9" cy="379.7" r="5.6" fill="#ffa500"/>
<circle cx="1357.9" cy="395.6" r="5.6" fill="#ffa500"/>
<circle cx="1354.9" cy="400.5" r="5.6" fill="#ffa500"/>
<circle cx="1388.6" cy="402.5" r="5.6" fill="#ffa500"/>
<circle cx="1404" cy="399.5" r="5.6" fill="#ffa500"/>
<circle cx="1416.4" cy="392.6" r="5.6" fill="#ffa500"/>
<circle cx="1418.4" cy="393.1" r="5.6" fill="#ffa500"/>
<circle cx="1428.8" cy="390.6" r="5.6" fill="#ffa500"/>
<circle cx="1436.8" cy="395.6" r="5.6" fill="#ffa500"/>
<circle cx="1441.2" cy="384.6" r="5.6" fill="#ffa500"/>
<circle cx="1452.6" cy="390.6" r="5.6" fill="#ffa500"/>
<circle cx="1456.1" cy="396.1" r="5.6" fill="#ffa500"/>
<circle cx="1510.2" cy="398" r="5.6" fill="#ffa500"/>
<circle cx="1524.3" cy="391.6" r="5.6" fill="#ffa500"/>
<circle cx="1538.5" cy="403" r="5.6" fill="#ffa500"/>
<circle cx="1563" cy="393.1" r="5.6" fill="#ffa500"/>
<circle cx="1584.8" cy="395.6" r="5.6" fill="#ffa500"/>
<circle cx="1599" cy="403.5" r="5.6" fill="#ffa500"/>
<circle cx="1602.4" cy="395.6" r="5.6" fill="#ffa500"/>
<circle cx="1636.7" cy="399.1" r="5.6" fill="#ffa500"/>
<circle cx="1643.1" cy="387.7" r="5.6" fill="#ffa500"/>
<circle cx="1660" cy="390.2" r="5.6" fill="#ffa500"/>
<circle cx="1667.4" cy="396.2" r="5.6" fill="#ffa500"/>
<circle cx="1660" cy="402.1" r="5.6" fill="#ffa500"/>
<circle cx="1675.9" cy="400.6" r="5.6" fill="#ffa500"/>
<circle cx="1689.8" cy="376.8" r="5.6" fill="#ffa500"/>
<circle cx="1697.2" cy="379.8" r="5.6" fill="#ffa500"/>
<circle cx="1689.8" cy="391.7" r="5.6" fill="#ffa500"/>
<circle cx="1691.3" cy="397.6" r="5.6" fill="#ffa500"/>
<circle cx="1698.7" cy="403.1" r="5.6" fill="#ffa500"/>
<circle cx="1716.5" cy="381.3" r="5.6" fill="#ffa500"/>
<circle cx="1711.1" cy="389.7" r="5.6" fill="#ffa500"/>
<circle cx="1714.1" cy="398.1" r="5.6" fill="#ffa500"/>
<circle cx="1734.9" cy="374.8" r="5.6" fill="#ffa500"/>
<circle cx="1747.8" cy="381.3" r="5.6" fill="#ffa500"/>
<circle cx="1741.4" cy="395.7" r="5.6" fill="#ffa500"/>
<circle cx="1778.1" cy="406.1" r="2.6" fill="#b22222" fill-opacity="0.5" stroke="#b22222" stroke-opacity="0.5" stroke-width="1.1"/>
<circle cx="1739.9" cy="420.5" r="2.6" fill="#b22222" fill-opacity="0.5" stroke="#b22222" stroke-opacity="0.5" stroke-width="1.1"/>
<circle cx="1729.6" cy="462.9" r="2.6" fill="#b22222" fill-opacity="0.5" stroke="#b22222" stroke-opacity="0.5" stroke-width="1.1"/>
<circle cx="1767.3" cy="479.5" r="2.6" fill="#b22222" fill-opacity="0.5" stroke="#b22222" stroke-opacity="0.5" stroke-width="1.1"/>
<circle cx="1733.4" cy="501.6" r="2.6" fill="#b22222" fill-opacity="0.5" stroke="#b22222" stroke-opacity="0.5" stroke-width="1.1"/>
<circle cx="1708.8" cy="521.1" r="2.6" fill="#b22222" fill-opacity="0.5" stroke="#b22222" stroke-opacity="0.5" stroke-width="1.1"/>
<circle cx="1719.3" cy="530.3" r="2.6" fill="#b22222" fill-opacity="0.5" stroke="#b22222" stroke-opacity="0.5" stroke-width="1.1"/>
<circle cx="1752.9" cy="545.7" r="2.6" fill="#b22222" fill-opacity="0.5" stroke="#b22222" stroke-opacity="0.5" stroke-width="1.1"/>
<circle cx="1768.5" cy="545.7" r="2.6" fill="#b22222" fill-opacity="0.5" stroke="#b22222" stroke-opacity="0.5" stroke-width="1.1"/>
<circle cx="1755.5" cy="558.8" r="2.6" fill="#b22222" fill-opacity="0.5" stroke="#b22222" stroke-opacity="0.5" stroke-width="1.1"/>
<circle cx="1798.4" cy="553.5" r="2.6" fill="#b22222" fill-opacity="0.5" stroke="#b22222" stroke-opacity="0.5" stroke-width="1.1"/>
<circle cx="1720.6" cy="563.8" r="2.6" fill="#b22222" fill-opacity="0.5" stroke="#b22222" stroke-opacity="0.5" stroke-width="1.1"/>
<circle cx="1752.9" cy="572.7" r="2.6" fill="#b22222" fill-opacity="0.5" stroke="#b22222" stroke-opacity="0.5" stroke-width="1.1"/>
<circle cx="1746.3" cy="576.5" r="2.6" fill="#b22222" fill-opacity="0.5" stroke="#b22222" stroke-opacity="0.5" stroke-width="1.1"/>
<circle cx="1759.4" cy="580.2" r="2.6" fill="#b22222" fill-opacity="0.5" stroke="#b22222" stroke-opacity="0.5" stroke-width="1.1"/>
<circle cx="1776.3" cy="585.5" r="2.6" fill="#b22222" fill-opacity="0.5" stroke="#b22222" stroke-opacity="0.5" stroke-width="1.1"/>
<circle cx="1812.4" cy="586.6" r="2.6" fill="#b22222" fill-opacity="0.5" stroke="#b22222" stroke-opacity="0.5" stroke-width="1.1"/>
<circle cx="1744.9" cy="588.7" r="2.6" fill="#b22222" fill-opacity="0.5" stroke="#b22222" stroke-opacity="0.5" stroke-width="1.1"/>
<circle cx="1749.3" cy="594.5" r="2.6" fill="#b22222" fill-opacity="0.5" stroke="#b22222" stroke-opacity="0.5" stroke-width="1.1"/>
<circle cx="1741.1" cy="598.2" r="2.6" fill="#b22222" fill-opacity="0.5" stroke="#b22222" stroke-opacity="0.5" stroke-width="1.1"/>
<circle cx="1771.4" cy="598.2" r="2.6" fill="#b22222" fill-opacity="0.5" stroke="#b22222" stroke-opacity="0.5" stroke-width="1.1"/>
<circle cx="1775.5" cy="599.9" r="2.6" fill="#b22222" fill-opacity="0.5" stroke="#b22222" stroke-opacity="0.5" stroke-width="1.1"/>
<circle cx="1735.9" cy="611.4" r="2.6" fill="#b22222" fill-opacity="0.5" stroke="#b22222" stroke-opacity="0.5" stroke-width="1.1"/>
<circle cx="1769.8" cy="621.5" r="2.6" fill="#b22222" fill-opacity="0.5" stroke="#b22222" stroke-opacity="0.5" stroke-width="1.1"/>
<circle cx="1747.6" cy="625.6" r="2.6" fill="#b22222" fill-opacity="0.5" stroke="#b22222" stroke-opacity="0.5" stroke-width="1.1"/>
<circle cx="1696.4" cy="636.3" r="2.6" fill="#b22222" fill-opacity="0.5" stroke="#b22222" stroke-opacity="0.5" stroke-width="1.1"/>
<circle cx="1760.4" cy="634.6" r="2.6" fill="#b22222" fill-opacity="0.5" stroke="#b22222" stroke-opacity="0.5" stroke-width="1.1"/>
<circle cx="1776.3" cy="633.3" r="2.6" fill="#b22222" fill-opacity="0.5" stroke="#b22222" stroke-opacity="0.5" stroke-width="1.1"/>
<circle cx="1817.8" cy="630.8" r="2.6" fill="#b22222" fill-opacity="0.5" stroke="#b22222" stroke-opacity="0.5" stroke-width="1.1"/>
<circle cx="1829.1" cy="630.8" r="2.6" fill="#b22222" fill-opacity="0.5" stroke="#b22222" stroke-opacity="0.5" stroke-width="1.1"/>
<circle cx="1795.2" cy="642.8" r="2.6" fill="#b22222" fill-opacity="0.5" stroke="#b22222" stroke-opacity="0.5" stroke-width="1.1"/>
<circle cx="1790.2" cy="641.2" r="2.6" fill="#b22222" fill-opacity="0.5" stroke="#b22222" stroke-opacity="0.5" stroke-width="1.1"/>
<circle cx="1776.3" cy="657.5" r="2.6" fill="#b22222" fill-opacity="0.5" stroke="#b22222" stroke-opacity="0.5" stroke-width="1.1"/>
<circle cx="1777.6" cy="663.3" r="2.6" fill="#b22222" fill-opacity="0.5" stroke="#b22222" stroke-opacity="0.5" stroke-width="1.1"/>
<circle cx="1799.6" cy="663.3" r="2.6" fill="#b22222" fill-opacity="0.5" stroke="#b22222" stroke-opacity="0.5" stroke-width="1.1"/>
<circle cx="1800.9" cy="691.6" r="2.6" fill="#b22222" fill-opacity="0.5" stroke="#b22222" stroke-opacity="0.5" stroke-width="1.1"/>
<circle cx="1856.3" cy="692.8" r="2.6" fill="#b22222" fill-opacity="0.5" stroke="#b22222" stroke-opacity="0.5" stroke-width="1.1"/>
<circle cx="1678" cy="447" r="2.6" fill="#b22222" fill-opacity="0.5" stroke="#b22222" stroke-opacity="0.5" stroke-width="1.1"/>
<circle cx="1553.6" cy="316.8" r="2.6" fill="#b22222" fill-opacity="0.5" stroke="#b22222" stroke-opacity="0.5" stroke-width="1.1"/>
<circle cx="1904.4" cy="547.7" r="2.6" fill="#b22222" fill-opacity="0.5" stroke="#b22222" stroke-opacity="0.5" stroke-width="1.1"/>
</g>
<g clip-path="url(#cBL)">
<circle cx="445.7" cy="1522.9" r="8" fill="#008000"/>
<circle cx="452" cy="1522.9" r="8" fill="#008000"/>
<circle cx="443.9" cy="1535.8" r="8" fill="#008000"/>
<circle cx="462.2" cy="1535.8" r="8" fill="#008000"/>
<circle cx="440.4" cy="1548.8" r="8" fill="#008000"/>
<circle cx="437.7" cy="1568.4" r="8" fill="#008000"/>
<circle cx="470.7" cy="1551.4" r="8" fill="#008000"/>
<circle cx="485" cy="1551.4" r="8" fill="#008000"/>
<circle cx="493" cy="1555" r="8" fill="#008000"/>
<circle cx="500.6" cy="1534.5" r="8" fill="#008000"/>
<circle cx="502" cy="1539.8" r="8" fill="#008000"/>
<circle cx="507" cy="1553" r="8" fill="#008000"/>
<circle cx="520.3" cy="1541.6" r="8" fill="#008000"/>
<circle cx="525.2" cy="1561.7" r="8" fill="#008000"/>
<circle cx="529.2" cy="1551.4" r="8" fill="#008000"/>
<circle cx="542.6" cy="1547.4" r="8" fill="#008000"/>
<circle cx="543.9" cy="1572.9" r="8" fill="#008000"/>
<circle cx="564" cy="1525.5" r="8" fill="#008000"/>
<circle cx="574.7" cy="1520.2" r="8" fill="#008000"/>
<circle cx="561.8" cy="1541.6" r="8" fill="#008000"/>
<circle cx="560" cy="1556" r="8" fill="#008000"/>
<circle cx="577.4" cy="1542.5" r="8" fill="#008000"/>
<circle cx="582.3" cy="1559.5" r="8" fill="#008000"/>
<circle cx="579.6" cy="1570.2" r="8" fill="#008000"/>
<circle cx="729.6" cy="1511.3" r="8" fill="#008000"/>
<circle cx="604.1" cy="1537.1" r="8" fill="#008000"/>
<circle cx="608.1" cy="1559" r="8" fill="#008000"/>
<circle cx="628.7" cy="1556.8" r="8" fill="#008000"/>
<circle cx="840.2" cy="1553.4" r="8" fill="#008000"/>
<circle cx="520" cy="1501" r="5.6" fill="#4169e1"/>
<circle cx="437.7" cy="1568.4" r="5.6" fill="#4169e1"/>
<circle cx="470.7" cy="1551.4" r="5.6" fill="#4169e1"/>
<circle cx="485" cy="1551.4" r="5.6" fill="#4169e1"/>
<circle cx="493" cy="1555" r="5.6" fill="#4169e1"/>
<circle cx="520.3" cy="1541.6" r="5.6" fill="#4169e1"/>
<circle cx="529.2" cy="1551.4" r="5.6" fill="#4169e1"/>
<circle cx="525.2" cy="1561.7" r="5.6" fill="#4169e1"/>
<circle cx="543.9" cy="1572.9" r="5.6" fill="#4169e1"/>
<circle cx="564" cy="1525.5" r="5.6" fill="#4169e1"/>
<circle cx="561.8" cy="1541.6" r="5.6" fill="#4169e1"/>
<circle cx="569.8" cy="1554.1" r="5.6" fill="#4169e1"/>
<circle cx="582.3" cy="1559.5" r="5.6" fill="#4169e1"/>
<circle cx="729.6" cy="1511.3" r="5.6" fill="#4169e1"/>
<circle cx="685.8" cy="1513.5" r="5.6" fill="#4169e1"/>
<circle cx="628.7" cy="1521.5" r="5.6" fill="#4169e1"/>
<circle cx="604.1" cy="1537.1" r="5.6" fill="#4169e1"/>
<circle cx="608.1" cy="1559" r="5.6" fill="#4169e1"/>
<circle cx="628.7" cy="1556.8" r="5.6" fill="#4169e1"/>
<circle cx="634" cy="1551.4" r="5.6" fill="#4169e1"/>
<circle cx="647" cy="1551.4" r="5.6" fill="#4169e1"/>
<circle cx="655.9" cy="1571.5" r="5.6" fill="#4169e1"/>
<circle cx="667.5" cy="1561.7" r="5.6" fill="#4169e1"/>
<circle cx="676.9" cy="1559" r="5.6" fill="#4169e1"/>
<circle cx="673.8" cy="1544.7" r="5.6" fill="#4169e1"/>
<circle cx="696.5" cy="1550.5" r="5.6" fill="#4169e1"/>
<circle cx="700.1" cy="1560.8" r="5.6" fill="#4169e1"/>
<circle cx="701.4" cy="1535.8" r="5.6" fill="#4169e1"/>
<circle cx="712.6" cy="1554.1" r="5.6" fill="#4169e1"/>
<circle cx="724.6" cy="1553.2" r="5.6" fill="#4169e1"/>
<circle cx="730" cy="1564.8" r="5.6" fill="#4169e1"/>
<circle cx="735.4" cy="1570.2" r="5.6" fill="#4169e1"/>
<circle cx="735.8" cy="1547" r="5.6" fill="#4169e1"/>
<circle cx="747" cy="1559.5" r="5.6" fill="#4169e1"/>
<circle cx="757.7" cy="1547.9" r="5.6" fill="#4169e1"/>
<circle cx="757.7" cy="1560.4" r="5.6" fill="#4169e1"/>
<circle cx="758.6" cy="1538" r="5.6" fill="#4169e1"/>
<circle cx="871.6" cy="1586" r="5.6" fill="#4169e1"/>
<circle cx="824.1" cy="1588.2" r="5.6" fill="#4169e1"/>
<circle cx="855.4" cy="1536" r="5.6" fill="#4169e1"/>
<circle cx="849.6" cy="1541.3" r="5.6" fill="#4169e1"/>
<circle cx="854.9" cy="1558.3" r="5.6" fill="#4169e1"/>
<circle cx="831.3" cy="1546.3" r="5.6" fill="#4169e1"/>
<circle cx="838.4" cy="1568.6" r="5.6" fill="#4169e1"/>
<circle cx="819.6" cy="1550.3" r="5.6" fill="#4169e1"/>
<circle cx="828.6" cy="1562.3" r="5.6" fill="#4169e1"/>
<circle cx="805.8" cy="1572.1" r="5.6" fill="#4169e1"/>
<circle cx="787.5" cy="1545.4" r="5.6" fill="#4169e1"/>
<circle cx="763.4" cy="1538.2" r="5.6" fill="#4169e1"/>
<circle cx="779.9" cy="1540.9" r="5.6" fill="#4169e1"/>
<circle cx="771.9" cy="1548.5" r="5.6" fill="#4169e1"/>
<circle cx="750" cy="1558.8" r="5.6" fill="#4169e1"/>
<circle cx="760.7" cy="1560.5" r="5.6" fill="#4169e1"/>
<circle cx="767" cy="1565.9" r="5.6" fill="#4169e1"/>
<circle cx="777.7" cy="1569.9" r="5.6" fill="#4169e1"/>
<circle cx="783" cy="1560.5" r="5.6" fill="#4169e1"/>
<circle cx="776.8" cy="1555.2" r="5.6" fill="#4169e1"/>
<circle cx="445.7" cy="1522.9" r="5.6" fill="#ffa500"/>
<circle cx="452" cy="1522.9" r="5.6" fill="#ffa500"/>
<circle cx="462.2" cy="1535.8" r="5.6" fill="#ffa500"/>
<circle cx="440.4" cy="1548.8" r="5.6" fill="#ffa500"/>
<circle cx="500.6" cy="1534.5" r="5.6" fill="#ffa500"/>
<circle cx="502" cy="1539.8" r="5.6" fill="#ffa500"/>
<circle cx="504.6" cy="1551.4" r="5.6" fill="#ffa500"/>
<circle cx="510" cy="1554.1" r="5.6" fill="#ffa500"/>
<circle cx="542.6" cy="1547.4" r="5.6" fill="#ffa500"/>
<circle cx="547.5" cy="1529.6" r="5.6" fill="#ffa500"/>
<circle cx="574.7" cy="1520.2" r="5.6" fill="#ffa500"/>
<circle cx="564.5" cy="1547.4" r="5.6" fill="#ffa500"/>
<circle cx="559.1" cy="1556.8" r="5.6" fill="#ffa500"/>
<circle cx="577.4" cy="1542.5" r="5.6" fill="#ffa500"/>
<circle cx="579.6" cy="1570.2" r="5.6" fill="#ffa500"/>
<circle cx="587.7" cy="1568.4" r="5.6" fill="#ffa500"/>
<circle cx="601.4" cy="1478" r="5.6" fill="#ffa500"/>
<circle cx="743.8" cy="1494.7" r="5.6" fill="#ffa500"/>
<circle cx="614.4" cy="1546.1" r="5.6" fill="#ffa500"/>
<circle cx="653.2" cy="1565.7" r="5.6" fill="#ffa500"/>
<circle cx="679.1" cy="1546.1" r="5.6" fill="#ffa500"/>
<circle cx="687.6" cy="1550.5" r="5.6" fill="#ffa500"/>
<circle cx="716.6" cy="1567.1" r="5.6" fill="#ffa500"/>
<circle cx="728.2" cy="1554.1" r="5.6" fill="#ffa500"/>
<circle cx="741.6" cy="1548.8" r="5.6" fill="#ffa500"/>
<circle cx="747.4" cy="1546.1" r="5.6" fill="#ffa500"/>
<circle cx="849.6" cy="1488.2" r="5.6" fill="#ffa500"/>
<circle cx="803.4" cy="1510.1" r="5.6" fill="#ffa500"/>
<circle cx="870.3" cy="1524.4" r="5.6" fill="#ffa500"/>
<circle cx="681.9" cy="1245.1" r="5.6" fill="#ffa500"/>
<circle cx="859.5" cy="1430.1" r="5.6" fill="#ffa500"/>
<circle cx="845.7" cy="1532" r="5.6" fill="#ffa500"/>
<circle cx="860.3" cy="1561.9" r="5.6" fill="#ffa500"/>
<circle cx="833" cy="1553" r="5.6" fill="#ffa500"/>
<circle cx="840.2" cy="1552.5" r="5.6" fill="#ffa500"/>
<circle cx="835.7" cy="1565.9" r="5.6" fill="#ffa500"/>
<circle cx="809.8" cy="1543.6" r="5.6" fill="#ffa500"/>
<circle cx="808.9" cy="1556.1" r="5.6" fill="#ffa500"/>
<circle cx="809.8" cy="1569.5" r="5.6" fill="#ffa500"/>
<circle cx="820.5" cy="1566.8" r="5.6" fill="#ffa500"/>
<circle cx="796.9" cy="1540.9" r="5.6" fill="#ffa500"/>
<circle cx="791.1" cy="1545.4" r="5.6" fill="#ffa500"/>
<circle cx="750" cy="1546.3" r="5.6" fill="#ffa500"/>
<circle cx="850.9" cy="1487.3" r="2.6" fill="#b22222" fill-opacity="0.5" stroke="#b22222" stroke-opacity="0.5" stroke-width="1.1"/>
<circle cx="856" cy="1523" r="2.6" fill="#b22222" fill-opacity="0.5" stroke="#b22222" stroke-opacity="0.5" stroke-width="1.1"/>
<circle cx="891.1" cy="1526.6" r="2.6" fill="#b22222" fill-opacity="0.5" stroke="#b22222" stroke-opacity="0.5" stroke-width="1.1"/>
<circle cx="908.9" cy="1524.4" r="2.6" fill="#b22222" fill-opacity="0.5" stroke="#b22222" stroke-opacity="0.5" stroke-width="1.1"/>
<circle cx="923.4" cy="1461.3" r="2.6" fill="#b22222" fill-opacity="0.5" stroke="#b22222" stroke-opacity="0.5" stroke-width="1.1"/>
<circle cx="927.2" cy="1493.6" r="2.6" fill="#b22222" fill-opacity="0.5" stroke="#b22222" stroke-opacity="0.5" stroke-width="1.1"/>
<circle cx="915.6" cy="1540" r="2.6" fill="#b22222" fill-opacity="0.5" stroke="#b22222" stroke-opacity="0.5" stroke-width="1.1"/>
<circle cx="927.2" cy="1540" r="2.6" fill="#b22222" fill-opacity="0.5" stroke="#b22222" stroke-opacity="0.5" stroke-width="1.1"/>
<circle cx="876.8" cy="1551.6" r="2.6" fill="#b22222" fill-opacity="0.5" stroke="#b22222" stroke-opacity="0.5" stroke-width="1.1"/>
<circle cx="911.6" cy="1566.8" r="2.6" fill="#b22222" fill-opacity="0.5" stroke="#b22222" stroke-opacity="0.5" stroke-width="1.1"/>
<circle cx="919.5" cy="1569.9" r="2.6" fill="#b22222" fill-opacity="0.5" stroke="#b22222" stroke-opacity="0.5" stroke-width="1.1"/>
<circle cx="908" cy="1577.5" r="2.6" fill="#b22222" fill-opacity="0.5" stroke="#b22222" stroke-opacity="0.5" stroke-width="1.1"/>
<circle cx="871.6" cy="1586" r="2.6" fill="#b22222" fill-opacity="0.5" stroke="#b22222" stroke-opacity="0.5" stroke-width="1.1"/>
<circle cx="932.6" cy="1516.1" r="2.6" fill="#b22222" fill-opacity="0.5" stroke="#b22222" stroke-opacity="0.5" stroke-width="1.1"/>
<circle cx="976.2" cy="1524.3" r="2.6" fill="#b22222" fill-opacity="0.5" stroke="#b22222" stroke-opacity="0.5" stroke-width="1.1"/>
<circle cx="942.8" cy="1532.3" r="2.6" fill="#b22222" fill-opacity="0.5" stroke="#b22222" stroke-opacity="0.5" stroke-width="1.1"/>
<circle cx="932.6" cy="1549.9" r="2.6" fill="#b22222" fill-opacity="0.5" stroke="#b22222" stroke-opacity="0.5" stroke-width="1.1"/>
<circle cx="942.8" cy="1562.9" r="2.6" fill="#b22222" fill-opacity="0.5" stroke="#b22222" stroke-opacity="0.5" stroke-width="1.1"/>
<circle cx="945.4" cy="1574.6" r="2.6" fill="#b22222" fill-opacity="0.5" stroke="#b22222" stroke-opacity="0.5" stroke-width="1.1"/>
<circle cx="960.4" cy="1568.5" r="2.6" fill="#b22222" fill-opacity="0.5" stroke="#b22222" stroke-opacity="0.5" stroke-width="1.1"/>
<circle cx="946.5" cy="1594.1" r="2.6" fill="#b22222" fill-opacity="0.5" stroke="#b22222" stroke-opacity="0.5" stroke-width="1.1"/>
<circle cx="950.6" cy="1615.3" r="2.6" fill="#b22222" fill-opacity="0.5" stroke="#b22222" stroke-opacity="0.5" stroke-width="1.1"/>
<circle cx="976.2" cy="1615.3" r="2.6" fill="#b22222" fill-opacity="0.5" stroke="#b22222" stroke-opacity="0.5" stroke-width="1.1"/>
<circle cx="922.2" cy="1662.6" r="2.6" fill="#b22222" fill-opacity="0.5" stroke="#b22222" stroke-opacity="0.5" stroke-width="1.1"/>
<circle cx="598.8" cy="1383.3" r="2.6" fill="#b22222" fill-opacity="0.5" stroke="#b22222" stroke-opacity="0.5" stroke-width="1.1"/>
<circle cx="787.2" cy="1287.2" r="2.6" fill="#b22222" fill-opacity="0.5" stroke="#b22222" stroke-opacity="0.5" stroke-width="1.1"/>
<circle cx="843.5" cy="1405" r="2.6" fill="#b22222" fill-opacity="0.5" stroke="#b22222" stroke-opacity="0.5" stroke-width="1.1"/>
<circle cx="870.7" cy="1625" r="2.6" fill="#b22222" fill-opacity="0.5" stroke="#b22222" stroke-opacity="0.5" stroke-width="1.1"/>
</g>
<g clip-path="url(#cBR)">
<circle cx="1448" cy="1228.2" r="8" fill="#008000"/>
<circle cx="1493.1" cy="1229.6" r="8" fill="#008000"/>
<circle cx="1530.6" cy="1226.4" r="8" fill="#008000"/>
<circle cx="1533.3" cy="1241.6" r="8" fill="#008000"/>
<circle cx="1557.9" cy="1226.9" r="8" fill="#008000"/>
<circle cx="1569.5" cy="1229.6" r="8" fill="#008000"/>
<circle cx="1579.7" cy="1232.7" r="8" fill="#008000"/>
<circle cx="1569.5" cy="1209.9" r="8" fill="#008000"/>
<circle cx="1583.8" cy="1205" r="8" fill="#008000"/>
<circle cx="1587.3" cy="1224.2" r="8" fill="#008000"/>
<circle cx="1595.8" cy="1221.5" r="8" fill="#008000"/>
<circle cx="1605.6" cy="1228.2" r="8" fill="#008000"/>
<circle cx="1605.2" cy="1241.6" r="8" fill="#008000"/>
<circle cx="1612" cy="1240" r="8" fill="#008000"/>
<circle cx="1619.5" cy="1231.5" r="8" fill="#008000"/>
<circle cx="1621.6" cy="1231.8" r="8" fill="#008000"/>
<circle cx="1636.8" cy="1230.4" r="8" fill="#008000"/>
<circle cx="1652.9" cy="1228.7" r="8" fill="#008000"/>
<circle cx="1650.2" cy="1238" r="8" fill="#008000"/>
<circle cx="1666.7" cy="1226.9" r="8" fill="#008000"/>
<circle cx="1664" cy="1242.9" r="8" fill="#008000"/>
<circle cx="1677.4" cy="1238.9" r="8" fill="#008000"/>
<circle cx="1686" cy="1229" r="8" fill="#008000"/>
<circle cx="1700.2" cy="1226.4" r="8" fill="#008000"/>
<circle cx="1693.5" cy="1238.5" r="8" fill="#008000"/>
<circle cx="1707.8" cy="1242.5" r="8" fill="#008000"/>
<circle cx="1710.4" cy="1207.7" r="8" fill="#008000"/>
<circle cx="1741.3" cy="1215.3" r="8" fill="#008000"/>
<circle cx="1722.1" cy="1231.8" r="8" fill="#008000"/>
<circle cx="1719.4" cy="1241.6" r="8" fill="#008000"/>
<circle cx="1742.1" cy="1232.7" r="8" fill="#008000"/>
<circle cx="1739.9" cy="1239.4" r="8" fill="#008000"/>
<circle cx="1758.2" cy="1238" r="8" fill="#008000"/>
<circle cx="1782.3" cy="1226.4" r="8" fill="#008000"/>
<circle cx="1785.9" cy="1238.9" r="8" fill="#008000"/>
<circle cx="1606" cy="1237.1" r="5.6" fill="#4169e1"/>
<circle cx="1619.5" cy="1230.9" r="5.6" fill="#4169e1"/>
<circle cx="1621.6" cy="1231.8" r="5.6" fill="#4169e1"/>
<circle cx="1650.2" cy="1238" r="5.6" fill="#4169e1"/>
<circle cx="1666.7" cy="1226.9" r="5.6" fill="#4169e1"/>
<circle cx="1664" cy="1242.9" r="5.6" fill="#4169e1"/>
<circle cx="1677.4" cy="1238.9" r="5.6" fill="#4169e1"/>
<circle cx="1700.2" cy="1226.4" r="5.6" fill="#4169e1"/>
<circle cx="1693.5" cy="1238.5" r="5.6" fill="#4169e1"/>
<circle cx="1707.8" cy="1242.5" r="5.6" fill="#4169e1"/>
<circle cx="1710.4" cy="1207.7" r="5.6" fill="#4169e1"/>
<circle cx="1758.2" cy="1238" r="5.6" fill="#4169e1"/>
<circle cx="1782.3" cy="1226.4" r="5.6" fill="#4169e1"/>
<circle cx="1785.9" cy="1238.9" r="5.6" fill="#4169e1"/>
<circle cx="1807.2" cy="1199.7" r="5.6" fill="#4169e1"/>
<circle cx="1811.3" cy="1243" r="5.6" fill="#4169e1"/>
<circle cx="1817.5" cy="1235.9" r="5.6" fill="#4169e1"/>
<circle cx="1826.4" cy="1231.4" r="5.6" fill="#4169e1"/>
<circle cx="1836.7" cy="1240.4" r="5.6" fill="#4169e1"/>
<circle cx="1849.6" cy="1233.2" r="5.6" fill="#4169e1"/>
<circle cx="1853.2" cy="1222.5" r="5.6" fill="#4169e1"/>
<circle cx="1864.8" cy="1220.7" r="5.6" fill="#4169e1"/>
<circle cx="1869.3" cy="1224.3" r="5.6" fill="#4169e1"/>
<circle cx="1879.1" cy="1237.7" r="5.6" fill="#4169e1"/>
<circle cx="1880" cy="1243.9" r="5.6" fill="#4169e1"/>
<circle cx="1886.3" cy="1240.4" r="5.6" fill="#4169e1"/>
<circle cx="1905.9" cy="1235" r="5.6" fill="#4169e1"/>
<circle cx="1900.5" cy="1251.5" r="5.6" fill="#4169e1"/>
<circle cx="1917.5" cy="1213.6" r="5.6" fill="#4169e1"/>
<circle cx="1916.6" cy="1227" r="5.6" fill="#4169e1"/>
<circle cx="1922.9" cy="1230.5" r="5.6" fill="#4169e1"/>
<circle cx="1932.7" cy="1221.6" r="5.6" fill="#4169e1"/>
<circle cx="1926.4" cy="1245.7" r="5.6" fill="#4169e1"/>
<circle cx="1926.4" cy="1238.6" r="5.6" fill="#4169e1"/>
<circle cx="1939.8" cy="1237.7" r="5.6" fill="#4169e1"/>
<circle cx="1946.5" cy="1242.6" r="5.6" fill="#4169e1"/>
<circle cx="1931.3" cy="1261.8" r="5.6" fill="#4169e1"/>
<circle cx="1959.5" cy="1225.2" r="5.6" fill="#4169e1"/>
<circle cx="1959.5" cy="1238.6" r="5.6" fill="#4169e1"/>
<circle cx="1981.4" cy="1185.7" r="5.6" fill="#4169e1"/>
<circle cx="2008.9" cy="1211" r="5.6" fill="#4169e1"/>
<circle cx="1989.2" cy="1219.2" r="5.6" fill="#4169e1"/>
<circle cx="2008.9" cy="1227.4" r="5.6" fill="#4169e1"/>
<circle cx="1963.2" cy="1225.1" r="5.6" fill="#4169e1"/>
<circle cx="1961.7" cy="1238.5" r="5.6" fill="#4169e1"/>
<circle cx="2001.8" cy="1236.3" r="5.6" fill="#4169e1"/>
<circle cx="1997.4" cy="1241.5" r="5.6" fill="#4169e1"/>
<circle cx="1986.7" cy="1510.7" r="5.6" fill="#4169e1"/>
<circle cx="1493.1" cy="1229.6" r="5.6" fill="#ffa500"/>
<circle cx="1557.9" cy="1226.9" r="5.6" fill="#ffa500"/>
<circle cx="1569.5" cy="1209.9" r="5.6" fill="#ffa500"/>
<circle cx="1583.8" cy="1205" r="5.6" fill="#ffa500"/>
<circle cx="1587.3" cy="1224.2" r="5.6" fill="#ffa500"/>
<circle cx="1595.8" cy="1221.5" r="5.6" fill="#ffa500"/>
<circle cx="1605.6" cy="1228.2" r="5.6" fill="#ffa500"/>
<circle cx="1613.2" cy="1238.5" r="5.6" fill="#ffa500"/>
<circle cx="1636.8" cy="1230.4" r="5.6" fill="#ffa500"/>
<circle cx="1652.9" cy="1228.7" r="5.6" fill="#ffa500"/>
<circle cx="1684.6" cy="1228.2" r="5.6" fill="#ffa500"/>
<circle cx="1691.3" cy="1229.6" r="5.6" fill="#ffa500"/>
<circle cx="1703.8" cy="1237.1" r="5.6" fill="#ffa500"/>
<circle cx="1731" cy="1204.6" r="5.6" fill="#ffa500"/>
<circle cx="1741.3" cy="1215.3" r="5.6" fill="#ffa500"/>
<circle cx="1722.1" cy="1231.8" r="5.6" fill="#ffa500"/>
<circle cx="1719.4" cy="1241.6" r="5.6" fill="#ffa500"/>
<circle cx="1742.1" cy="1232.7" r="5.6" fill="#ffa500"/>
<circle cx="1739.9" cy="1239.4" r="5.6" fill="#ffa500"/>
<circle cx="1787.7" cy="1222.9" r="5.6" fill="#ffa500"/>
<circle cx="1885.8" cy="1181.9" r="5.6" fill="#ffa500"/>
<circle cx="1806.3" cy="1227.9" r="5.6" fill="#ffa500"/>
<circle cx="1809" cy="1235.9" r="5.6" fill="#ffa500"/>
<circle cx="1833.1" cy="1235.9" r="5.6" fill="#ffa500"/>
<circle cx="1857.7" cy="1218.9" r="5.6" fill="#ffa500"/>
<circle cx="1863.9" cy="1227.9" r="5.6" fill="#ffa500"/>
<circle cx="1866.6" cy="1232.3" r="5.6" fill="#ffa500"/>
<circle cx="1898.8" cy="1225.2" r="5.6" fill="#ffa500"/>
<circle cx="1895.2" cy="1234.1" r="5.6" fill="#ffa500"/>
<circle cx="1900.5" cy="1238.6" r="5.6" fill="#ffa500"/>
<circle cx="1938" cy="1229.6" r="5.6" fill="#ffa500"/>
<circle cx="1960" cy="1231.4" r="5.6" fill="#ffa500"/>
<circle cx="2016.7" cy="1185.7" r="5.6" fill="#ffa500"/>
<circle cx="1995.9" cy="1208.8" r="5.6" fill="#ffa500"/>
<circle cx="1976.2" cy="1219.9" r="5.6" fill="#ffa500"/>
<circle cx="2010" cy="1221.8" r="5.6" fill="#ffa500"/>
<circle cx="1964.6" cy="1231.8" r="5.6" fill="#ffa500"/>
<circle cx="1964.6" cy="1241.5" r="5.6" fill="#ffa500"/>
<circle cx="1975.1" cy="1231.8" r="5.6" fill="#ffa500"/>
<circle cx="1975.1" cy="1242.3" r="5.6" fill="#ffa500"/>
<circle cx="1989.2" cy="1231.8" r="5.6" fill="#ffa500"/>
<circle cx="1994.4" cy="1234.8" r="5.6" fill="#ffa500"/>
<circle cx="1989.2" cy="1245.2" r="5.6" fill="#ffa500"/>
<circle cx="2010" cy="1242.3" r="5.6" fill="#ffa500"/>
<circle cx="2002.2" cy="1256.8" r="5.6" fill="#ffa500"/>
<circle cx="2002" cy="1034.7" r="5.6" fill="#ffa500"/>
<circle cx="1914.3" cy="1327.8" r="2.6" fill="#b22222" fill-opacity="0.5" stroke="#b22222" stroke-opacity="0.5" stroke-width="1.1"/>
<circle cx="1901.7" cy="1359" r="2.6" fill="#b22222" fill-opacity="0.5" stroke="#b22222" stroke-opacity="0.5" stroke-width="1.1"/>
<circle cx="1949" cy="1356.2" r="2.6" fill="#b22222" fill-opacity="0.5" stroke="#b22222" stroke-opacity="0.5" stroke-width="1.1"/>
<circle cx="1913.4" cy="1373.3" r="2.6" fill="#b22222" fill-opacity="0.5" stroke="#b22222" stroke-opacity="0.5" stroke-width="1.1"/>
<circle cx="2001.9" cy="1378.3" r="2.6" fill="#b22222" fill-opacity="0.5" stroke="#b22222" stroke-opacity="0.5" stroke-width="1.1"/>
<circle cx="1988" cy="1414.1" r="2.6" fill="#b22222" fill-opacity="0.5" stroke="#b22222" stroke-opacity="0.5" stroke-width="1.1"/>
<circle cx="2009.9" cy="1412.8" r="2.6" fill="#b22222" fill-opacity="0.5" stroke="#b22222" stroke-opacity="0.5" stroke-width="1.1"/>
<circle cx="1973.7" cy="1423.2" r="2.6" fill="#b22222" fill-opacity="0.5" stroke="#b22222" stroke-opacity="0.5" stroke-width="1.1"/>
<circle cx="1982.6" cy="1427.3" r="2.6" fill="#b22222" fill-opacity="0.5" stroke="#b22222" stroke-opacity="0.5" stroke-width="1.1"/>
<circle cx="1993.2" cy="1423.2" r="2.6" fill="#b22222" fill-opacity="0.5" stroke="#b22222" stroke-opacity="0.5" stroke-width="1.1"/>
<circle cx="1924.9" cy="1428.4" r="2.6" fill="#b22222" fill-opacity="0.5" stroke="#b22222" stroke-opacity="0.5" stroke-width="1.1"/>
<circle cx="1970.9" cy="1440.5" r="2.6" fill="#b22222" fill-opacity="0.5" stroke="#b22222" stroke-opacity="0.5" stroke-width="1.1"/>
<circle cx="1976.3" cy="1447" r="2.6" fill="#b22222" fill-opacity="0.5" stroke="#b22222" stroke-opacity="0.5" stroke-width="1.1"/>
<circle cx="2014.9" cy="1450.7" r="2.6" fill="#b22222" fill-opacity="0.5" stroke="#b22222" stroke-opacity="0.5" stroke-width="1.1"/>
<circle cx="1968.7" cy="1453.3" r="2.6" fill="#b22222" fill-opacity="0.5" stroke="#b22222" stroke-opacity="0.5" stroke-width="1.1"/>
<circle cx="1964.6" cy="1468.9" r="2.6" fill="#b22222" fill-opacity="0.5" stroke="#b22222" stroke-opacity="0.5" stroke-width="1.1"/>
<circle cx="1985.2" cy="1467.6" r="2.6" fill="#b22222" fill-opacity="0.5" stroke="#b22222" stroke-opacity="0.5" stroke-width="1.1"/>
<circle cx="1993.2" cy="1479.1" r="2.6" fill="#b22222" fill-opacity="0.5" stroke="#b22222" stroke-opacity="0.5" stroke-width="1.1"/>
<circle cx="1978.7" cy="1481.9" r="2.6" fill="#b22222" fill-opacity="0.5" stroke="#b22222" stroke-opacity="0.5" stroke-width="1.1"/>
<circle cx="1958.3" cy="1484.3" r="2.6" fill="#b22222" fill-opacity="0.5" stroke="#b22222" stroke-opacity="0.5" stroke-width="1.1"/>
<circle cx="1970.9" cy="1492.1" r="2.6" fill="#b22222" fill-opacity="0.5" stroke="#b22222" stroke-opacity="0.5" stroke-width="1.1"/>
<circle cx="2009.9" cy="1493.4" r="2.6" fill="#b22222" fill-opacity="0.5" stroke="#b22222" stroke-opacity="0.5" stroke-width="1.1"/>
<circle cx="1983" cy="1502.3" r="2.6" fill="#b22222" fill-opacity="0.5" stroke="#b22222" stroke-opacity="0.5" stroke-width="1.1"/>
<circle cx="1946.4" cy="1504.7" r="2.6" fill="#b22222" fill-opacity="0.5" stroke="#b22222" stroke-opacity="0.5" stroke-width="1.1"/>
<circle cx="1953.3" cy="1506" r="2.6" fill="#b22222" fill-opacity="0.5" stroke="#b22222" stroke-opacity="0.5" stroke-width="1.1"/>
<circle cx="1986.7" cy="1510.7" r="2.6" fill="#b22222" fill-opacity="0.5" stroke="#b22222" stroke-opacity="0.5" stroke-width="1.1"/>
<circle cx="1939" cy="1516.2" r="2.6" fill="#b22222" fill-opacity="0.5" stroke="#b22222" stroke-opacity="0.5" stroke-width="1.1"/>
<circle cx="1972.2" cy="1516.2" r="2.6" fill="#b22222" fill-opacity="0.5" stroke="#b22222" stroke-opacity="0.5" stroke-width="1.1"/>
<circle cx="1973.7" cy="1519" r="2.6" fill="#b22222" fill-opacity="0.5" stroke="#b22222" stroke-opacity="0.5" stroke-width="1.1"/>
<circle cx="1999.7" cy="1515.3" r="2.6" fill="#b22222" fill-opacity="0.5" stroke="#b22222" stroke-opacity="0.5" stroke-width="1.1"/>
<circle cx="1999.7" cy="1517.5" r="2.6" fill="#b22222" fill-opacity="0.5" stroke="#b22222" stroke-opacity="0.5" stroke-width="1.1"/>
<circle cx="2008.4" cy="1521.4" r="2.6" fill="#b22222" fill-opacity="0.5" stroke="#b22222" stroke-opacity="0.5" stroke-width="1.1"/>
<circle cx="2004.7" cy="1533.3" r="2.6" fill="#b22222" fill-opacity="0.5" stroke="#b22222" stroke-opacity="0.5" stroke-width="1.1"/>
<circle cx="2003.4" cy="1538.5" r="2.6" fill="#b22222" fill-opacity="0.5" stroke="#b22222" stroke-opacity="0.5" stroke-width="1.1"/>
<circle cx="1960.4" cy="1541.3" r="2.6" fill="#b22222" fill-opacity="0.5" stroke="#b22222" stroke-opacity="0.5" stroke-width="1.1"/>
<circle cx="1967.2" cy="1548.7" r="2.6" fill="#b22222" fill-opacity="0.5" stroke="#b22222" stroke-opacity="0.5" stroke-width="1.1"/>
<circle cx="1969.6" cy="1550.2" r="2.6" fill="#b22222" fill-opacity="0.5" stroke="#b22222" stroke-opacity="0.5" stroke-width="1.1"/>
<circle cx="1985.2" cy="1548.7" r="2.6" fill="#b22222" fill-opacity="0.5" stroke="#b22222" stroke-opacity="0.5" stroke-width="1.1"/>
<circle cx="1991.7" cy="1551.5" r="2.6" fill="#b22222" fill-opacity="0.5" stroke="#b22222" stroke-opacity="0.5" stroke-width="1.1"/>
<circle cx="1950.5" cy="1556.7" r="2.6" fill="#b22222" fill-opacity="0.5" stroke="#b22222" stroke-opacity="0.5" stroke-width="1.1"/>
<circle cx="1976.1" cy="1560.8" r="2.6" fill="#b22222" fill-opacity="0.5" stroke="#b22222" stroke-opacity="0.5" stroke-width="1.1"/>
<circle cx="1977.4" cy="1565.8" r="2.6" fill="#b22222" fill-opacity="0.5" stroke="#b22222" stroke-opacity="0.5" stroke-width="1.1"/>
<circle cx="1986.7" cy="1557.6" r="2.6" fill="#b22222" fill-opacity="0.5" stroke="#b22222" stroke-opacity="0.5" stroke-width="1.1"/>
<circle cx="1988.2" cy="1561.7" r="2.6" fill="#b22222" fill-opacity="0.5" stroke="#b22222" stroke-opacity="0.5" stroke-width="1.1"/>
<circle cx="1998.2" cy="1558" r="2.6" fill="#b22222" fill-opacity="0.5" stroke="#b22222" stroke-opacity="0.5" stroke-width="1.1"/>
<circle cx="2012.1" cy="1555.6" r="2.6" fill="#b22222" fill-opacity="0.5" stroke="#b22222" stroke-opacity="0.5" stroke-width="1.1"/>
<circle cx="2007.3" cy="1577.5" r="2.6" fill="#b22222" fill-opacity="0.5" stroke="#b22222" stroke-opacity="0.5" stroke-width="1.1"/>
<circle cx="2013.6" cy="1597.9" r="2.6" fill="#b22222" fill-opacity="0.5" stroke="#b22222" stroke-opacity="0.5" stroke-width="1.1"/>
<circle cx="2017.7" cy="1609.6" r="2.6" fill="#b22222" fill-opacity="0.5" stroke="#b22222" stroke-opacity="0.5" stroke-width="1.1"/>
<circle cx="1661.9" cy="1352.1" r="2.6" fill="#b22222" fill-opacity="0.5" stroke="#b22222" stroke-opacity="0.5" stroke-width="1.1"/>
</g>
<path d="M258.5 810.5v-21.0M258.5 18v21.0M436.4 810.5v-21.0M436.4 18v21.0M614.4 810.5v-21.0M614.4 18v21.0M792.4 810.5v-21.0M792.4 18v21.0M970.3 810.5v-21.0M970.3 18v21.0M214 810.5v-10.5M214 18v10.5M303 810.5v-10.5M303 18v10.5M347.5 810.5v-10.5M347.5 18v10.5M391.9 810.5v-10.5M391.9 18v10.5M480.9 810.5v-10.5M480.9 18v10.5M525.4 810.5v-10.5M525.4 18v10.5M569.9 810.5v-10.5M569.9 18v10.5M658.9 810.5v-10.5M658.9 18v10.5M703.4 810.5v-10.5M703.4 18v10.5M747.9 810.5v-10.5M747.9 18v10.5M836.8 810.5v-10.5M836.8 18v10.5M881.3 810.5v-10.5M881.3 18v10.5M925.8 810.5v-10.5M925.8 18v10.5M169.5 711.4h21.0M1014.8 711.4h-21.0M169.5 612.4h21.0M1014.8 612.4h-21.0M169.5 513.3h21.0M1014.8 513.3h-21.0M169.5 414.2h21.0M1014.8 414.2h-21.0M169.5 315.2h21.0M1014.8 315.2h-21.0M169.5 216.1h21.0M1014.8 216.1h-21.0M169.5 117.1h21.0M1014.8 117.1h-21.0M169.5 790.7h10.5M1014.8 790.7h-10.5M169.5 770.9h10.5M1014.8 770.9h-10.5M169.5 751.1h10.5M1014.8 751.1h-10.5M169.5 731.2h10.5M1014.8 731.2h-10.5M169.5 691.6h10.5M1014.8 691.6h-10.5M169.5 671.8h10.5M1014.8 671.8h-10.5M169.5 652h10.5M1014.8 652h-10.5M169.5 632.2h10.5M1014.8 632.2h-10.5M169.5 592.6h10.5M1014.8 592.6h-10.5M169.5 572.8h10.5M1014.8 572.8h-10.5M169.5 552.9h10.5M1014.8 552.9h-10.5M169.5 533.1h10.5M1014.8 533.1h-10.5M169.5 493.5h10.5M1014.8 493.5h-10.5M169.5 473.7h10.5M1014.8 473.7h-10.5M169.5 453.9h10.5M1014.8 453.9h-10.5M169.5 434.1h10.5M1014.8 434.1h-10.5M169.5 394.4h10.5M1014.8 394.4h-10.5M169.5 374.6h10.5M1014.8 374.6h-10.5M169.5 354.8h10.5M1014.8 354.8h-10.5M169.5 335h10.5M1014.8 335h-10.5M169.5 295.4h10.5M1014.8 295.4h-10.5M169.5 275.6h10.5M1014.8 275.6h-10.5M169.5 255.8h10.5M1014.8 255.8h-10.5M169.5 235.9h10.5M1014.8 235.9h-10.5M169.5 196.3h10.5M1014.8 196.3h-10.5M169.5 176.5h10.5M1014.8 176.5h-10.5M169.5 156.7h10.5M1014.8 156.7h-10.5M169.5 136.9h10.5M1014.8 136.9h-10.5M169.5 97.2h10.5M1014.8 97.2h-10.5M169.5 77.4h10.5M1014.8 77.4h-10.5M169.5 57.6h10.5M1014.8 57.6h-10.5M169.5 37.8h10.5M1014.8 37.8h-10.5" stroke="#000" stroke-width="3" fill="none" stroke-linecap="butt"/>
<rect x="169.5" y="18" width="845.3" height="792.5" fill="none" stroke="#000" stroke-width="3.2" stroke-linejoin="miter"/>
<text x="258.5" y="851.3" class="t" text-anchor="middle">18</text>
<text x="436.4" y="851.3" class="t" text-anchor="middle">20</text>
<text x="614.4" y="851.3" class="t" text-anchor="middle">22</text>
<text x="792.4" y="851.3" class="t" text-anchor="middle">24</text>
<text x="970.3" y="851.3" class="t" text-anchor="middle">26</text>
<text x="160.9" y="825.1" class="t" text-anchor="end">0.00</text>
<text x="160.9" y="726" class="t" text-anchor="end">0.25</text>
<text x="160.9" y="627" class="t" text-anchor="end">0.50</text>
<text x="160.9" y="527.9" class="t" text-anchor="end">0.75</text>
<text x="160.9" y="428.9" class="t" text-anchor="end">1.00</text>
<text x="160.9" y="329.8" class="t" text-anchor="end">1.25</text>
<text x="160.9" y="230.7" class="t" text-anchor="end">1.50</text>
<text x="160.9" y="131.7" class="t" text-anchor="end">1.75</text>
<text x="160.9" y="32.6" class="t" text-anchor="end">2.00</text>
<text x="592.1" y="911.8" class="l" text-anchor="middle">F200W Mag (AB)</text>
<text transform="translate(45.8 647.8) rotate(-90)" class="l"><tspan font-style="italic">F</tspan><tspan dx="8.3">(0.7")</tspan><tspan dx="7.9">/</tspan><tspan dx="8.4" font-style="italic">F</tspan><tspan dx="7.4">(0.32")</tspan></text>
<path d="M1307 810.5v-21.0M1307 18v21.0M1485 810.5v-21.0M1485 18v21.0M1662.9 810.5v-21.0M1662.9 18v21.0M1840.9 810.5v-21.0M1840.9 18v21.0M2018.9 810.5v-21.0M2018.9 18v21.0M1262.5 810.5v-10.5M1262.5 18v10.5M1351.5 810.5v-10.5M1351.5 18v10.5M1396 810.5v-10.5M1396 18v10.5M1440.5 810.5v-10.5M1440.5 18v10.5M1529.5 810.5v-10.5M1529.5 18v10.5M1574 810.5v-10.5M1574 18v10.5M1618.5 810.5v-10.5M1618.5 18v10.5M1707.4 810.5v-10.5M1707.4 18v10.5M1751.9 810.5v-10.5M1751.9 18v10.5M1796.4 810.5v-10.5M1796.4 18v10.5M1885.4 810.5v-10.5M1885.4 18v10.5M1929.9 810.5v-10.5M1929.9 18v10.5M1974.4 810.5v-10.5M1974.4 18v10.5M1218 678.4h21.0M2063.4 678.4h-21.0M1218 546.3h21.0M2063.4 546.3h-21.0M1218 414.2h21.0M2063.4 414.2h-21.0M1218 282.2h21.0M2063.4 282.2h-21.0M1218 150.1h21.0M2063.4 150.1h-21.0M1218 784.1h10.5M2063.4 784.1h-10.5M1218 757.7h10.5M2063.4 757.7h-10.5M1218 731.2h10.5M2063.4 731.2h-10.5M1218 704.8h10.5M2063.4 704.8h-10.5M1218 652h10.5M2063.4 652h-10.5M1218 625.6h10.5M2063.4 625.6h-10.5M1218 599.2h10.5M2063.4 599.2h-10.5M1218 572.8h10.5M2063.4 572.8h-10.5M1218 519.9h10.5M2063.4 519.9h-10.5M1218 493.5h10.5M2063.4 493.5h-10.5M1218 467.1h10.5M2063.4 467.1h-10.5M1218 440.7h10.5M2063.4 440.7h-10.5M1218 387.8h10.5M2063.4 387.8h-10.5M1218 361.4h10.5M2063.4 361.4h-10.5M1218 335h10.5M2063.4 335h-10.5M1218 308.6h10.5M2063.4 308.6h-10.5M1218 255.8h10.5M2063.4 255.8h-10.5M1218 229.3h10.5M2063.4 229.3h-10.5M1218 202.9h10.5M2063.4 202.9h-10.5M1218 176.5h10.5M2063.4 176.5h-10.5M1218 123.7h10.5M2063.4 123.7h-10.5M1218 97.2h10.5M2063.4 97.2h-10.5M1218 70.8h10.5M2063.4 70.8h-10.5M1218 44.4h10.5M2063.4 44.4h-10.5" stroke="#000" stroke-width="3" fill="none" stroke-linecap="butt"/>
<rect x="1218" y="18" width="845.4" height="792.5" fill="none" stroke="#000" stroke-width="3.2" stroke-linejoin="miter"/>
<text x="1307" y="851.3" class="t" text-anchor="middle">18</text>
<text x="1485" y="851.3" class="t" text-anchor="middle">20</text>
<text x="1662.9" y="851.3" class="t" text-anchor="middle">22</text>
<text x="1840.9" y="851.3" class="t" text-anchor="middle">24</text>
<text x="2018.9" y="851.3" class="t" text-anchor="middle">26</text>
<text x="1209.4" y="825.1" class="t" text-anchor="end">0.0</text>
<text x="1209.4" y="693" class="t" text-anchor="end">0.5</text>
<text x="1209.4" y="560.9" class="t" text-anchor="end">1.0</text>
<text x="1209.4" y="428.9" class="t" text-anchor="end">1.5</text>
<text x="1209.4" y="296.8" class="t" text-anchor="end">2.0</text>
<text x="1209.4" y="164.7" class="t" text-anchor="end">2.5</text>
<text x="1209.4" y="32.6" class="t" text-anchor="end">3.0</text>
<text x="1640.7" y="911.8" class="l" text-anchor="middle">F160W Mag (AB)</text>
<text transform="translate(1118.8 647.8) rotate(-90)" class="l"><tspan font-style="italic">F</tspan><tspan dx="8.3">(0.7")</tspan><tspan dx="7.9">/</tspan><tspan dx="8.4" font-style="italic">F</tspan><tspan dx="7.4">(0.32")</tspan></text>
<path d="M258.5 1763.5v-21.0M258.5 971.2v21.0M436.4 1763.5v-21.0M436.4 971.2v21.0M614.4 1763.5v-21.0M614.4 971.2v21.0M792.4 1763.5v-21.0M792.4 971.2v21.0M970.3 1763.5v-21.0M970.3 971.2v21.0M214 1763.5v-10.5M214 971.2v10.5M303 1763.5v-10.5M303 971.2v10.5M347.5 1763.5v-10.5M347.5 971.2v10.5M391.9 1763.5v-10.5M391.9 971.2v10.5M480.9 1763.5v-10.5M480.9 971.2v10.5M525.4 1763.5v-10.5M525.4 971.2v10.5M569.9 1763.5v-10.5M569.9 971.2v10.5M658.9 1763.5v-10.5M658.9 971.2v10.5M703.4 1763.5v-10.5M703.4 971.2v10.5M747.9 1763.5v-10.5M747.9 971.2v10.5M836.8 1763.5v-10.5M836.8 971.2v10.5M881.3 1763.5v-10.5M881.3 971.2v10.5M925.8 1763.5v-10.5M925.8 971.2v10.5M169.5 1631.5h21.0M1014.8 1631.5h-21.0M169.5 1499.4h21.0M1014.8 1499.4h-21.0M169.5 1367.3h21.0M1014.8 1367.3h-21.0M169.5 1235.3h21.0M1014.8 1235.3h-21.0M169.5 1103.2h21.0M1014.8 1103.2h-21.0M169.5 1737.1h10.5M1014.8 1737.1h-10.5M169.5 1710.7h10.5M1014.8 1710.7h-10.5M169.5 1684.3h10.5M1014.8 1684.3h-10.5M169.5 1657.9h10.5M1014.8 1657.9h-10.5M169.5 1605h10.5M1014.8 1605h-10.5M169.5 1578.6h10.5M1014.8 1578.6h-10.5M169.5 1552.2h10.5M1014.8 1552.2h-10.5M169.5 1525.8h10.5M1014.8 1525.8h-10.5M169.5 1473h10.5M1014.8 1473h-10.5M169.5 1446.6h10.5M1014.8 1446.6h-10.5M169.5 1420.2h10.5M1014.8 1420.2h-10.5M169.5 1393.8h10.5M1014.8 1393.8h-10.5M169.5 1340.9h10.5M1014.8 1340.9h-10.5M169.5 1314.5h10.5M1014.8 1314.5h-10.5M169.5 1288.1h10.5M1014.8 1288.1h-10.5M169.5 1261.7h10.5M1014.8 1261.7h-10.5M169.5 1208.9h10.5M1014.8 1208.9h-10.5M169.5 1182.5h10.5M1014.8 1182.5h-10.5M169.5 1156.1h10.5M1014.8 1156.1h-10.5M169.5 1129.7h10.5M1014.8 1129.7h-10.5M169.5 1076.8h10.5M1014.8 1076.8h-10.5M169.5 1050.4h10.5M1014.8 1050.4h-10.5M169.5 1024h10.5M1014.8 1024h-10.5M169.5 997.6h10.5M1014.8 997.6h-10.5" stroke="#000" stroke-width="3" fill="none" stroke-linecap="butt"/>
<rect x="169.5" y="971.2" width="845.3" height="792.3" fill="none" stroke="#000" stroke-width="3.2" stroke-linejoin="miter"/>
<text x="258.5" y="1804.3" class="t" text-anchor="middle">18</text>
<text x="436.4" y="1804.3" class="t" text-anchor="middle">20</text>
<text x="614.4" y="1804.3" class="t" text-anchor="middle">22</text>
<text x="792.4" y="1804.3" class="t" text-anchor="middle">24</text>
<text x="970.3" y="1804.3" class="t" text-anchor="middle">26</text>
<text x="160.9" y="1778.1" class="t" text-anchor="end">0.00</text>
<text x="160.9" y="1646" class="t" text-anchor="end">0.05</text>
<text x="160.9" y="1514" class="t" text-anchor="end">0.10</text>
<text x="160.9" y="1381.9" class="t" text-anchor="end">0.15</text>
<text x="160.9" y="1249.9" class="t" text-anchor="end">0.20</text>
<text x="160.9" y="1117.8" class="t" text-anchor="end">0.25</text>
<text x="160.9" y="985.8" class="t" text-anchor="end">0.30</text>
<text x="592.1" y="1864.8" class="l" text-anchor="middle">F200W Mag (AB)</text>
<text transform="translate(45.8 1368.8) rotate(-90)" class="l" text-anchor="middle" style="word-spacing:-1.3px">F200W Flux Radius (arcsec)</text>
<path d="M1307 1763.5v-21.0M1307 971.2v21.0M1485 1763.5v-21.0M1485 971.2v21.0M1662.9 1763.5v-21.0M1662.9 971.2v21.0M1840.9 1763.5v-21.0M1840.9 971.2v21.0M2018.9 1763.5v-21.0M2018.9 971.2v21.0M1262.5 1763.5v-10.5M1262.5 971.2v10.5M1351.5 1763.5v-10.5M1351.5 971.2v10.5M1396 1763.5v-10.5M1396 971.2v10.5M1440.5 1763.5v-10.5M1440.5 971.2v10.5M1529.5 1763.5v-10.5M1529.5 971.2v10.5M1574 1763.5v-10.5M1574 971.2v10.5M1618.5 1763.5v-10.5M1618.5 971.2v10.5M1707.4 1763.5v-10.5M1707.4 971.2v10.5M1751.9 1763.5v-10.5M1751.9 971.2v10.5M1796.4 1763.5v-10.5M1796.4 971.2v10.5M1885.4 1763.5v-10.5M1885.4 971.2v10.5M1929.9 1763.5v-10.5M1929.9 971.2v10.5M1974.4 1763.5v-10.5M1974.4 971.2v10.5M1218 1664.5h21.0M2063.4 1664.5h-21.0M1218 1565.4h21.0M2063.4 1565.4h-21.0M1218 1466.4h21.0M2063.4 1466.4h-21.0M1218 1367.3h21.0M2063.4 1367.3h-21.0M1218 1268.3h21.0M2063.4 1268.3h-21.0M1218 1169.3h21.0M2063.4 1169.3h-21.0M1218 1070.2h21.0M2063.4 1070.2h-21.0M1218 1743.7h10.5M2063.4 1743.7h-10.5M1218 1723.9h10.5M2063.4 1723.9h-10.5M1218 1704.1h10.5M2063.4 1704.1h-10.5M1218 1684.3h10.5M2063.4 1684.3h-10.5M1218 1644.7h10.5M2063.4 1644.7h-10.5M1218 1624.8h10.5M2063.4 1624.8h-10.5M1218 1605h10.5M2063.4 1605h-10.5M1218 1585.2h10.5M2063.4 1585.2h-10.5M1218 1545.6h10.5M2063.4 1545.6h-10.5M1218 1525.8h10.5M2063.4 1525.8h-10.5M1218 1506h10.5M2063.4 1506h-10.5M1218 1486.2h10.5M2063.4 1486.2h-10.5M1218 1446.6h10.5M2063.4 1446.6h-10.5M1218 1426.8h10.5M2063.4 1426.8h-10.5M1218 1407h10.5M2063.4 1407h-10.5M1218 1387.2h10.5M2063.4 1387.2h-10.5M1218 1347.5h10.5M2063.4 1347.5h-10.5M1218 1327.7h10.5M2063.4 1327.7h-10.5M1218 1307.9h10.5M2063.4 1307.9h-10.5M1218 1288.1h10.5M2063.4 1288.1h-10.5M1218 1248.5h10.5M2063.4 1248.5h-10.5M1218 1228.7h10.5M2063.4 1228.7h-10.5M1218 1208.9h10.5M2063.4 1208.9h-10.5M1218 1189.1h10.5M2063.4 1189.1h-10.5M1218 1149.5h10.5M2063.4 1149.5h-10.5M1218 1129.7h10.5M2063.4 1129.7h-10.5M1218 1109.9h10.5M2063.4 1109.9h-10.5M1218 1090h10.5M2063.4 1090h-10.5M1218 1050.4h10.5M2063.4 1050.4h-10.5M1218 1030.6h10.5M2063.4 1030.6h-10.5M1218 1010.8h10.5M2063.4 1010.8h-10.5M1218 991h10.5M2063.4 991h-10.5" stroke="#000" stroke-width="3" fill="none" stroke-linecap="butt"/>
<rect x="1218" y="971.2" width="845.4" height="792.3" fill="none" stroke="#000" stroke-width="3.2" stroke-linejoin="miter"/>
<text x="1307" y="1804.3" class="t" text-anchor="middle">18</text>
<text x="1485" y="1804.3" class="t" text-anchor="middle">20</text>
<text x="1662.9" y="1804.3" class="t" text-anchor="middle">22</text>
<text x="1840.9" y="1804.3" class="t" text-anchor="middle">24</text>
<text x="2018.9" y="1804.3" class="t" text-anchor="middle">26</text>
<text x="1209.4" y="1778.1" class="t" text-anchor="end">0.00</text>
<text x="1209.4" y="1679.1" class="t" text-anchor="end">0.25</text>
<text x="1209.4" y="1580" class="t" text-anchor="end">0.50</text>
<text x="1209.4" y="1481" class="t" text-anchor="end">0.75</text>
<text x="1209.4" y="1381.9" class="t" text-anchor="end">1.00</text>
<text x="1209.4" y="1282.9" class="t" text-anchor="end">1.25</text>
<text x="1209.4" y="1183.9" class="t" text-anchor="end">1.50</text>
<text x="1209.4" y="1084.8" class="t" text-anchor="end">1.75</text>
<text x="1209.4" y="985.8" class="t" text-anchor="end">2.00</text>
<text x="1640.7" y="1864.8" class="l" text-anchor="middle">F444W Mag (AB)</text>
<text transform="translate(1094.7 1600.9) rotate(-90)" class="l"><tspan font-style="italic">F</tspan><tspan dx="8.3">(0.7")</tspan><tspan dx="7.9">/</tspan><tspan dx="8.4" font-style="italic">F</tspan><tspan dx="7.4">(0.32")</tspan></text>
<path d="M167.5 335H881.3V374.6H167.5" fill="none" stroke="#4169e1" stroke-opacity="0.55" stroke-width="3" stroke-linejoin="round"/>
<text x="256.9" y="433.7" class="t a" style="fill:#4169e1">F200W-selected stars</text>
<text x="256.9" y="505.7" class="t a" style="fill:#008000">Stars selected in</text>
<text x="256.9" y="552.6" class="t a" style="fill:#008000">at least one band</text>
<path d="M1216 374.6H1751.9V414.2H1216" fill="none" stroke="#ffa500" stroke-opacity="0.5" stroke-width="3" stroke-linejoin="round"/>
<text x="1263" y="467" class="t a" style="fill:#ffa500">F160W-selected stars</text>
<path d="M1216 1327.7H2018.9V1765.5" fill="none" stroke="#b22222" stroke-opacity="0.5" stroke-width="3" stroke-linejoin="round"/>
<text x="1484.6" y="1378.3" class="t a" style="fill:#b22222">Model residuals</text>
</svg>
</body></html>
